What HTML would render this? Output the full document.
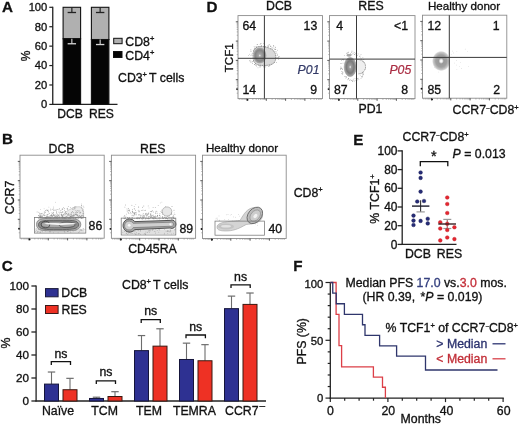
<!DOCTYPE html>
<html><head><meta charset="utf-8"><style>
html,body{margin:0;padding:0;background:#fff;}
svg{display:block;font-family:'Liberation Sans', Arial, sans-serif;filter:blur(0.3px);}
</style></head><body>
<svg width="520" height="424" viewBox="0 0 520 424">
<rect width="520" height="424" fill="#fff"/>
<text x="1.9" y="12.1" font-size="15.2" text-anchor="start" font-weight="bold" font-style="normal" fill="#111" stroke="#111" stroke-width="0.3" >A</text>
<line x1="52.75" y1="6.7" x2="52.75" y2="105.0" stroke="#222" stroke-width="1.3" />
<line x1="52.15" y1="104.4" x2="117.5" y2="104.4" stroke="#222" stroke-width="1.3" />
<line x1="49.3" y1="104.4" x2="52.75" y2="104.4" stroke="#222" stroke-width="1.2" />
<text x="47.3" y="108.30000000000001" font-size="11.2" text-anchor="end" font-weight="normal" font-style="normal" fill="#111" stroke="#111" stroke-width="0.32" >0</text>
<line x1="49.3" y1="84.98" x2="52.75" y2="84.98" stroke="#222" stroke-width="1.2" />
<text x="47.3" y="88.88000000000001" font-size="11.2" text-anchor="end" font-weight="normal" font-style="normal" fill="#111" stroke="#111" stroke-width="0.32" >20</text>
<line x1="49.3" y1="65.56" x2="52.75" y2="65.56" stroke="#222" stroke-width="1.2" />
<text x="47.3" y="69.46000000000001" font-size="11.2" text-anchor="end" font-weight="normal" font-style="normal" fill="#111" stroke="#111" stroke-width="0.32" >40</text>
<line x1="49.3" y1="46.13999999999999" x2="52.75" y2="46.13999999999999" stroke="#222" stroke-width="1.2" />
<text x="47.3" y="50.03999999999999" font-size="11.2" text-anchor="end" font-weight="normal" font-style="normal" fill="#111" stroke="#111" stroke-width="0.32" >60</text>
<line x1="49.3" y1="26.72" x2="52.75" y2="26.72" stroke="#222" stroke-width="1.2" />
<text x="47.3" y="30.619999999999997" font-size="11.2" text-anchor="end" font-weight="normal" font-style="normal" fill="#111" stroke="#111" stroke-width="0.32" >80</text>
<line x1="49.3" y1="7.300000000000011" x2="52.75" y2="7.300000000000011" stroke="#222" stroke-width="1.2" />
<text x="47.3" y="11.200000000000012" font-size="11.2" text-anchor="end" font-weight="normal" font-style="normal" fill="#111" stroke="#111" stroke-width="0.32" >100</text>
<text x="0" y="0" font-size="12" text-anchor="middle" font-weight="normal" font-style="normal" fill="#111" stroke="#111" stroke-width="0.32" transform="translate(29.5,56) rotate(-90)">%</text>
<rect x="63.1" y="7.3" width="17.499999999999993" height="31.460400000000003" fill="#b0b0b0" stroke="#111" stroke-width="1.1" />
<rect x="63.1" y="38.760400000000004" width="17.499999999999993" height="65.6396" fill="#050505" stroke="#111" stroke-width="1.1" />
<line x1="71.85" y1="7.3" x2="71.85" y2="12.5" stroke="#222" stroke-width="1.2" />
<line x1="67.64999999999999" y1="12.5" x2="76.05" y2="12.5" stroke="#222" stroke-width="1.3" />
<line x1="71.85" y1="38.760400000000004" x2="71.85" y2="43.760400000000004" stroke="#d8d8d8" stroke-width="1.1" />
<line x1="67.64999999999999" y1="43.760400000000004" x2="76.05" y2="43.760400000000004" stroke="#d8d8d8" stroke-width="1.3" />
<rect x="91.4" y="7.3" width="17.5" height="32.2372" fill="#b0b0b0" stroke="#111" stroke-width="1.1" />
<rect x="91.4" y="39.5372" width="17.5" height="64.86280000000001" fill="#050505" stroke="#111" stroke-width="1.1" />
<line x1="100.15" y1="7.3" x2="100.15" y2="12.5" stroke="#222" stroke-width="1.2" />
<line x1="95.95" y1="12.5" x2="104.35000000000001" y2="12.5" stroke="#222" stroke-width="1.3" />
<line x1="100.15" y1="39.5372" x2="100.15" y2="44.5372" stroke="#d8d8d8" stroke-width="1.1" />
<line x1="95.95" y1="44.5372" x2="104.35000000000001" y2="44.5372" stroke="#d8d8d8" stroke-width="1.3" />
<text x="70.0" y="117.6" font-size="12.1" text-anchor="middle" font-weight="normal" font-style="normal" fill="#111" stroke="#111" stroke-width="0.32" >DCB</text>
<text x="101.5" y="117.6" font-size="12.1" text-anchor="middle" font-weight="normal" font-style="normal" fill="#111" stroke="#111" stroke-width="0.32" >RES</text>
<rect x="113.7" y="38.3" width="8.4" height="5.4" fill="#b0b0b0" stroke="#111" stroke-width="1" />
<rect x="113.5" y="51.5" width="8.5" height="6" fill="#050505" stroke="#111" stroke-width="1" />
<text x="125.3" y="45.7" font-size="12.3" text-anchor="start" font-weight="normal" font-style="normal" fill="#111" stroke="#111" stroke-width="0.32" >CD8<tspan font-size="7.5" dy="-4.5">+</tspan></text>
<text x="125.3" y="59.6" font-size="12.3" text-anchor="start" font-weight="normal" font-style="normal" fill="#111" stroke="#111" stroke-width="0.32" >CD4<tspan font-size="7.5" dy="-4.5">+</tspan></text>
<text x="118" y="81.7" font-size="12.3" text-anchor="start" font-weight="normal" font-style="normal" fill="#111" stroke="#111" stroke-width="0.32" >CD3<tspan font-size="7.5" dy="-4.5">+&#160;</tspan><tspan dy="4.5">T cells</tspan></text>
<text x="206.4" y="11.9" font-size="15.2" text-anchor="start" font-weight="bold" font-style="normal" fill="#111" stroke="#111" stroke-width="0.3" >D</text>
<rect x="238" y="15.6" width="84.5" height="83.0" fill="none" stroke="#8c8c8c" stroke-width="0.9" />
<line x1="235.8" y1="21.8" x2="238" y2="21.8" stroke="#444" stroke-width="0.9" />
<line x1="236.7" y1="35.290121083685165" x2="238" y2="35.290121083685165" stroke="#8a8a8a" stroke-width="0.6" />
<line x1="236.7" y1="31.891559783910516" x2="238" y2="31.891559783910516" stroke="#8a8a8a" stroke-width="0.6" />
<line x1="236.7" y1="29.480242167370328" x2="238" y2="29.480242167370328" stroke="#8a8a8a" stroke-width="0.6" />
<line x1="236.7" y1="27.609878916314837" x2="238" y2="27.609878916314837" stroke="#8a8a8a" stroke-width="0.6" />
<line x1="236.7" y1="26.08168086759568" x2="238" y2="26.08168086759568" stroke="#8a8a8a" stroke-width="0.6" />
<line x1="236.7" y1="24.789607827724844" x2="238" y2="24.789607827724844" stroke="#8a8a8a" stroke-width="0.6" />
<line x1="236.7" y1="23.67036325105549" x2="238" y2="23.67036325105549" stroke="#8a8a8a" stroke-width="0.6" />
<line x1="236.7" y1="22.68311956782103" x2="238" y2="22.68311956782103" stroke="#8a8a8a" stroke-width="0.6" />
<line x1="235.8" y1="41.1" x2="238" y2="41.1" stroke="#444" stroke-width="0.9" />
<line x1="236.7" y1="54.59012108368516" x2="238" y2="54.59012108368516" stroke="#8a8a8a" stroke-width="0.6" />
<line x1="236.7" y1="51.19155978391052" x2="238" y2="51.19155978391052" stroke="#8a8a8a" stroke-width="0.6" />
<line x1="236.7" y1="48.780242167370325" x2="238" y2="48.780242167370325" stroke="#8a8a8a" stroke-width="0.6" />
<line x1="236.7" y1="46.90987891631484" x2="238" y2="46.90987891631484" stroke="#8a8a8a" stroke-width="0.6" />
<line x1="236.7" y1="45.381680867595676" x2="238" y2="45.381680867595676" stroke="#8a8a8a" stroke-width="0.6" />
<line x1="236.7" y1="44.08960782772485" x2="238" y2="44.08960782772485" stroke="#8a8a8a" stroke-width="0.6" />
<line x1="236.7" y1="42.97036325105549" x2="238" y2="42.97036325105549" stroke="#8a8a8a" stroke-width="0.6" />
<line x1="236.7" y1="41.983119567821035" x2="238" y2="41.983119567821035" stroke="#8a8a8a" stroke-width="0.6" />
<line x1="235.8" y1="60.400000000000006" x2="238" y2="60.400000000000006" stroke="#444" stroke-width="0.9" />
<line x1="236.7" y1="73.89012108368517" x2="238" y2="73.89012108368517" stroke="#8a8a8a" stroke-width="0.6" />
<line x1="236.7" y1="70.49155978391052" x2="238" y2="70.49155978391052" stroke="#8a8a8a" stroke-width="0.6" />
<line x1="236.7" y1="68.08024216737033" x2="238" y2="68.08024216737033" stroke="#8a8a8a" stroke-width="0.6" />
<line x1="236.7" y1="66.20987891631484" x2="238" y2="66.20987891631484" stroke="#8a8a8a" stroke-width="0.6" />
<line x1="236.7" y1="64.68168086759569" x2="238" y2="64.68168086759569" stroke="#8a8a8a" stroke-width="0.6" />
<line x1="236.7" y1="63.38960782772485" x2="238" y2="63.38960782772485" stroke="#8a8a8a" stroke-width="0.6" />
<line x1="236.7" y1="62.27036325105549" x2="238" y2="62.27036325105549" stroke="#8a8a8a" stroke-width="0.6" />
<line x1="236.7" y1="61.28311956782104" x2="238" y2="61.28311956782104" stroke="#8a8a8a" stroke-width="0.6" />
<line x1="235.8" y1="79.7" x2="238" y2="79.7" stroke="#444" stroke-width="0.9" />
<line x1="236.7" y1="93.19012108368517" x2="238" y2="93.19012108368517" stroke="#8a8a8a" stroke-width="0.6" />
<line x1="236.7" y1="89.79155978391051" x2="238" y2="89.79155978391051" stroke="#8a8a8a" stroke-width="0.6" />
<line x1="236.7" y1="87.38024216737033" x2="238" y2="87.38024216737033" stroke="#8a8a8a" stroke-width="0.6" />
<line x1="236.7" y1="85.50987891631483" x2="238" y2="85.50987891631483" stroke="#8a8a8a" stroke-width="0.6" />
<line x1="236.7" y1="83.98168086759568" x2="238" y2="83.98168086759568" stroke="#8a8a8a" stroke-width="0.6" />
<line x1="236.7" y1="82.68960782772484" x2="238" y2="82.68960782772484" stroke="#8a8a8a" stroke-width="0.6" />
<line x1="236.7" y1="81.5703632510555" x2="238" y2="81.5703632510555" stroke="#8a8a8a" stroke-width="0.6" />
<line x1="236.7" y1="80.58311956782103" x2="238" y2="80.58311956782103" stroke="#8a8a8a" stroke-width="0.6" />
<line x1="239.31975783262968" y1="98.6" x2="239.31975783262968" y2="99.89999999999999" stroke="#8a8a8a" stroke-width="0.6" />
<line x1="241.19012108368514" y1="98.6" x2="241.19012108368514" y2="99.89999999999999" stroke="#8a8a8a" stroke-width="0.6" />
<line x1="242.7183191324043" y1="98.6" x2="242.7183191324043" y2="99.89999999999999" stroke="#8a8a8a" stroke-width="0.6" />
<line x1="244.01039217227515" y1="98.6" x2="244.01039217227515" y2="99.89999999999999" stroke="#8a8a8a" stroke-width="0.6" />
<line x1="245.1296367489445" y1="98.6" x2="245.1296367489445" y2="99.89999999999999" stroke="#8a8a8a" stroke-width="0.6" />
<line x1="246.11688043217896" y1="98.6" x2="246.11688043217896" y2="99.89999999999999" stroke="#8a8a8a" stroke-width="0.6" />
<line x1="247.0" y1="98.6" x2="247.0" y2="100.8" stroke="#444" stroke-width="0.9" />
<line x1="252.80987891631483" y1="98.6" x2="252.80987891631483" y2="99.89999999999999" stroke="#8a8a8a" stroke-width="0.6" />
<line x1="256.20844021608946" y1="98.6" x2="256.20844021608946" y2="99.89999999999999" stroke="#8a8a8a" stroke-width="0.6" />
<line x1="258.61975783262966" y1="98.6" x2="258.61975783262966" y2="99.89999999999999" stroke="#8a8a8a" stroke-width="0.6" />
<line x1="260.49012108368515" y1="98.6" x2="260.49012108368515" y2="99.89999999999999" stroke="#8a8a8a" stroke-width="0.6" />
<line x1="262.0183191324043" y1="98.6" x2="262.0183191324043" y2="99.89999999999999" stroke="#8a8a8a" stroke-width="0.6" />
<line x1="263.31039217227516" y1="98.6" x2="263.31039217227516" y2="99.89999999999999" stroke="#8a8a8a" stroke-width="0.6" />
<line x1="264.4296367489445" y1="98.6" x2="264.4296367489445" y2="99.89999999999999" stroke="#8a8a8a" stroke-width="0.6" />
<line x1="265.41688043217897" y1="98.6" x2="265.41688043217897" y2="99.89999999999999" stroke="#8a8a8a" stroke-width="0.6" />
<line x1="266.3" y1="98.6" x2="266.3" y2="100.8" stroke="#444" stroke-width="0.9" />
<line x1="272.10987891631487" y1="98.6" x2="272.10987891631487" y2="99.89999999999999" stroke="#8a8a8a" stroke-width="0.6" />
<line x1="275.5084402160895" y1="98.6" x2="275.5084402160895" y2="99.89999999999999" stroke="#8a8a8a" stroke-width="0.6" />
<line x1="277.91975783262967" y1="98.6" x2="277.91975783262967" y2="99.89999999999999" stroke="#8a8a8a" stroke-width="0.6" />
<line x1="279.79012108368516" y1="98.6" x2="279.79012108368516" y2="99.89999999999999" stroke="#8a8a8a" stroke-width="0.6" />
<line x1="281.3183191324043" y1="98.6" x2="281.3183191324043" y2="99.89999999999999" stroke="#8a8a8a" stroke-width="0.6" />
<line x1="282.61039217227517" y1="98.6" x2="282.61039217227517" y2="99.89999999999999" stroke="#8a8a8a" stroke-width="0.6" />
<line x1="283.72963674894453" y1="98.6" x2="283.72963674894453" y2="99.89999999999999" stroke="#8a8a8a" stroke-width="0.6" />
<line x1="284.716880432179" y1="98.6" x2="284.716880432179" y2="99.89999999999999" stroke="#8a8a8a" stroke-width="0.6" />
<line x1="285.6" y1="98.6" x2="285.6" y2="100.8" stroke="#444" stroke-width="0.9" />
<line x1="291.4098789163149" y1="98.6" x2="291.4098789163149" y2="99.89999999999999" stroke="#8a8a8a" stroke-width="0.6" />
<line x1="294.8084402160895" y1="98.6" x2="294.8084402160895" y2="99.89999999999999" stroke="#8a8a8a" stroke-width="0.6" />
<line x1="297.2197578326297" y1="98.6" x2="297.2197578326297" y2="99.89999999999999" stroke="#8a8a8a" stroke-width="0.6" />
<line x1="299.0901210836852" y1="98.6" x2="299.0901210836852" y2="99.89999999999999" stroke="#8a8a8a" stroke-width="0.6" />
<line x1="300.61831913240434" y1="98.6" x2="300.61831913240434" y2="99.89999999999999" stroke="#8a8a8a" stroke-width="0.6" />
<line x1="301.9103921722752" y1="98.6" x2="301.9103921722752" y2="99.89999999999999" stroke="#8a8a8a" stroke-width="0.6" />
<line x1="303.02963674894454" y1="98.6" x2="303.02963674894454" y2="99.89999999999999" stroke="#8a8a8a" stroke-width="0.6" />
<line x1="304.016880432179" y1="98.6" x2="304.016880432179" y2="99.89999999999999" stroke="#8a8a8a" stroke-width="0.6" />
<line x1="304.9" y1="98.6" x2="304.9" y2="100.8" stroke="#444" stroke-width="0.9" />
<line x1="310.70987891631484" y1="98.6" x2="310.70987891631484" y2="99.89999999999999" stroke="#8a8a8a" stroke-width="0.6" />
<line x1="314.10844021608943" y1="98.6" x2="314.10844021608943" y2="99.89999999999999" stroke="#8a8a8a" stroke-width="0.6" />
<line x1="316.51975783262964" y1="98.6" x2="316.51975783262964" y2="99.89999999999999" stroke="#8a8a8a" stroke-width="0.6" />
<line x1="318.39012108368513" y1="98.6" x2="318.39012108368513" y2="99.89999999999999" stroke="#8a8a8a" stroke-width="0.6" />
<line x1="319.9183191324043" y1="98.6" x2="319.9183191324043" y2="99.89999999999999" stroke="#8a8a8a" stroke-width="0.6" />
<line x1="321.21039217227514" y1="98.6" x2="321.21039217227514" y2="99.89999999999999" stroke="#8a8a8a" stroke-width="0.6" />
<circle cx="237" cy="89.1" r="0.9" fill="#111"/>
<circle cx="247.6" cy="99.8" r="0.9" fill="#111"/>
<circle cx="265.0" cy="67.4" r="0.4" fill="#8a8a8a"/>
<circle cx="254.5" cy="64.5" r="0.4" fill="#8a8a8a"/>
<circle cx="255.7" cy="49.0" r="0.4" fill="#8a8a8a"/>
<circle cx="278.8" cy="57.0" r="0.4" fill="#8a8a8a"/>
<circle cx="263.3" cy="66.4" r="0.4" fill="#8a8a8a"/>
<circle cx="277.4" cy="55.7" r="0.4" fill="#8a8a8a"/>
<circle cx="270.9" cy="46.4" r="0.4" fill="#8a8a8a"/>
<circle cx="256.2" cy="48.3" r="0.4" fill="#8a8a8a"/>
<circle cx="254.1" cy="46.6" r="0.4" fill="#8a8a8a"/>
<circle cx="249.7" cy="54.2" r="0.4" fill="#8a8a8a"/>
<circle cx="258.4" cy="47.4" r="0.4" fill="#8a8a8a"/>
<circle cx="264.7" cy="44.4" r="0.4" fill="#8a8a8a"/>
<circle cx="260.3" cy="65.2" r="0.4" fill="#8a8a8a"/>
<circle cx="272.9" cy="47.6" r="0.4" fill="#8a8a8a"/>
<circle cx="261.1" cy="43.7" r="0.4" fill="#8a8a8a"/>
<circle cx="260.6" cy="43.6" r="0.4" fill="#8a8a8a"/>
<circle cx="252.4" cy="63.5" r="0.4" fill="#8a8a8a"/>
<circle cx="249.6" cy="60.3" r="0.4" fill="#8a8a8a"/>
<circle cx="272.6" cy="49.2" r="0.4" fill="#8a8a8a"/>
<circle cx="272.1" cy="63.8" r="0.4" fill="#8a8a8a"/>
<circle cx="276.9" cy="53.6" r="0.4" fill="#8a8a8a"/>
<circle cx="255.1" cy="48.4" r="0.4" fill="#8a8a8a"/>
<circle cx="251.0" cy="55.5" r="0.4" fill="#8a8a8a"/>
<circle cx="255.8" cy="65.3" r="0.4" fill="#8a8a8a"/>
<circle cx="250.9" cy="49.6" r="0.4" fill="#8a8a8a"/>
<circle cx="257.7" cy="44.4" r="0.4" fill="#8a8a8a"/>
<circle cx="273.6" cy="45.9" r="0.4" fill="#8a8a8a"/>
<circle cx="258.2" cy="47.1" r="0.4" fill="#8a8a8a"/>
<circle cx="273.9" cy="46.1" r="0.4" fill="#8a8a8a"/>
<circle cx="275.4" cy="49.5" r="0.4" fill="#8a8a8a"/>
<circle cx="261.2" cy="46.0" r="0.4" fill="#8a8a8a"/>
<circle cx="270.8" cy="46.0" r="0.4" fill="#8a8a8a"/>
<circle cx="261.4" cy="65.6" r="0.4" fill="#8a8a8a"/>
<circle cx="273.4" cy="45.7" r="0.4" fill="#8a8a8a"/>
<circle cx="276.5" cy="62.5" r="0.4" fill="#8a8a8a"/>
<circle cx="253.8" cy="61.4" r="0.4" fill="#8a8a8a"/>
<circle cx="260.0" cy="67.7" r="0.4" fill="#8a8a8a"/>
<circle cx="272.1" cy="49.0" r="0.4" fill="#8a8a8a"/>
<circle cx="255.2" cy="49.6" r="0.4" fill="#8a8a8a"/>
<circle cx="261.5" cy="45.5" r="0.4" fill="#8a8a8a"/>
<circle cx="275.3" cy="47.2" r="0.4" fill="#8a8a8a"/>
<circle cx="248.5" cy="55.6" r="0.4" fill="#8a8a8a"/>
<circle cx="259.7" cy="65.2" r="0.4" fill="#8a8a8a"/>
<circle cx="254.6" cy="50.3" r="0.4" fill="#8a8a8a"/>
<circle cx="268.3" cy="66.4" r="0.4" fill="#8a8a8a"/>
<circle cx="254.7" cy="49.5" r="0.4" fill="#8a8a8a"/>
<circle cx="278.5" cy="59.3" r="0.4" fill="#8a8a8a"/>
<circle cx="258.0" cy="67.8" r="0.4" fill="#8a8a8a"/>
<circle cx="274.4" cy="49.4" r="0.4" fill="#8a8a8a"/>
<circle cx="250.8" cy="58.8" r="0.4" fill="#8a8a8a"/>
<circle cx="255.4" cy="46.9" r="0.4" fill="#8a8a8a"/>
<circle cx="251.0" cy="51.7" r="0.4" fill="#8a8a8a"/>
<circle cx="276.6" cy="51.9" r="0.4" fill="#8a8a8a"/>
<circle cx="250.9" cy="61.0" r="0.4" fill="#8a8a8a"/>
<circle cx="265.0" cy="66.6" r="0.4" fill="#8a8a8a"/>
<circle cx="277.5" cy="54.4" r="0.4" fill="#8a8a8a"/>
<circle cx="253.0" cy="53.1" r="0.4" fill="#8a8a8a"/>
<circle cx="252.1" cy="61.9" r="0.4" fill="#8a8a8a"/>
<circle cx="277.9" cy="57.5" r="0.4" fill="#8a8a8a"/>
<circle cx="256.1" cy="48.8" r="0.4" fill="#8a8a8a"/>
<circle cx="254.7" cy="48.0" r="0.4" fill="#8a8a8a"/>
<circle cx="258.4" cy="46.3" r="0.4" fill="#8a8a8a"/>
<circle cx="260.1" cy="44.4" r="0.4" fill="#8a8a8a"/>
<circle cx="275.6" cy="57.4" r="0.4" fill="#8a8a8a"/>
<circle cx="257.1" cy="44.5" r="0.4" fill="#8a8a8a"/>
<circle cx="263.9" cy="67.1" r="0.4" fill="#8a8a8a"/>
<circle cx="253.3" cy="50.1" r="0.4" fill="#8a8a8a"/>
<circle cx="255.6" cy="64.0" r="0.4" fill="#8a8a8a"/>
<circle cx="254.5" cy="64.5" r="0.4" fill="#8a8a8a"/>
<circle cx="259.9" cy="66.3" r="0.4" fill="#8a8a8a"/>
<circle cx="265.6" cy="46.4" r="0.4" fill="#8a8a8a"/>
<circle cx="250.9" cy="50.9" r="0.4" fill="#8a8a8a"/>
<circle cx="259.4" cy="65.6" r="0.4" fill="#8a8a8a"/>
<circle cx="268.1" cy="46.2" r="0.4" fill="#8a8a8a"/>
<circle cx="269.1" cy="66.2" r="0.4" fill="#8a8a8a"/>
<circle cx="260.2" cy="46.6" r="0.4" fill="#8a8a8a"/>
<circle cx="258.4" cy="65.6" r="0.4" fill="#8a8a8a"/>
<circle cx="270.6" cy="46.4" r="0.4" fill="#8a8a8a"/>
<circle cx="271.5" cy="48.0" r="0.4" fill="#8a8a8a"/>
<circle cx="256.7" cy="66.1" r="0.4" fill="#8a8a8a"/>
<circle cx="274.0" cy="48.6" r="0.4" fill="#8a8a8a"/>
<circle cx="265.9" cy="65.9" r="0.4" fill="#8a8a8a"/>
<circle cx="251.9" cy="54.1" r="0.4" fill="#8a8a8a"/>
<circle cx="269.2" cy="44.4" r="0.4" fill="#8a8a8a"/>
<circle cx="269.1" cy="65.6" r="0.4" fill="#8a8a8a"/>
<circle cx="269.0" cy="45.0" r="0.4" fill="#8a8a8a"/>
<circle cx="268.5" cy="45.9" r="0.4" fill="#8a8a8a"/>
<circle cx="272.7" cy="63.7" r="0.4" fill="#8a8a8a"/>
<circle cx="267.4" cy="45.9" r="0.4" fill="#8a8a8a"/>
<circle cx="256.5" cy="65.0" r="0.4" fill="#8a8a8a"/>
<circle cx="252.5" cy="61.3" r="0.4" fill="#8a8a8a"/>
<circle cx="274.7" cy="51.2" r="0.4" fill="#8a8a8a"/>
<circle cx="279.3" cy="56.4" r="0.4" fill="#8a8a8a"/>
<circle cx="275.3" cy="47.2" r="0.4" fill="#8a8a8a"/>
<circle cx="250.0" cy="61.1" r="0.4" fill="#8a8a8a"/>
<circle cx="275.1" cy="51.4" r="0.4" fill="#8a8a8a"/>
<circle cx="263.6" cy="43.6" r="0.4" fill="#8a8a8a"/>
<circle cx="256.9" cy="46.3" r="0.4" fill="#8a8a8a"/>
<circle cx="260.9" cy="66.4" r="0.4" fill="#8a8a8a"/>
<circle cx="265.7" cy="65.7" r="0.4" fill="#8a8a8a"/>
<circle cx="253.3" cy="50.4" r="0.4" fill="#8a8a8a"/>
<circle cx="268.3" cy="46.9" r="0.4" fill="#8a8a8a"/>
<circle cx="275.8" cy="49.2" r="0.4" fill="#8a8a8a"/>
<circle cx="277.4" cy="50.2" r="0.4" fill="#8a8a8a"/>
<circle cx="275.2" cy="49.2" r="0.4" fill="#8a8a8a"/>
<circle cx="278.5" cy="57.0" r="0.4" fill="#8a8a8a"/>
<circle cx="270.0" cy="65.4" r="0.4" fill="#8a8a8a"/>
<circle cx="256.9" cy="46.3" r="0.4" fill="#8a8a8a"/>
<circle cx="250.9" cy="62.6" r="0.4" fill="#8a8a8a"/>
<circle cx="254.2" cy="49.0" r="0.4" fill="#8a8a8a"/>
<path d="M253,56 C253,49 256,46.5 261,46.5 C266,46.5 272,48.5 274.5,52 C276.5,55 276.3,60 274,63 C271,65.5 265,65.8 260,65.2 C255,64.5 253,62 253,56 Z" stroke="#6a6a6a" stroke-width="0.7" fill="#d9d9d9" stroke-dasharray="1.2 0.6"/>
<defs><radialGradient id="rg1"><stop offset="0" stop-color="#f4f4f4"/><stop offset="0.18" stop-color="#a4a4a4"/><stop offset="0.7" stop-color="#858585"/><stop offset="1" stop-color="#b0b0b0"/></radialGradient></defs>
<ellipse cx="259.8" cy="55.5" rx="6.6" ry="8" fill="url(#rg1)" stroke="none" stroke-width="0.6" transform="rotate(0 259.8 55.5)" />
<line x1="264.4" y1="15.6" x2="264.4" y2="98.6" stroke="#3a3a3a" stroke-width="1" />
<line x1="238" y1="58.3" x2="322.5" y2="58.3" stroke="#3a3a3a" stroke-width="1" />
<text x="279" y="10.4" font-size="12.3" text-anchor="middle" font-weight="normal" font-style="normal" fill="#111" stroke="#111" stroke-width="0.32" >DCB</text>
<text x="242.4" y="29.8" font-size="12.3" text-anchor="start" font-weight="normal" font-style="normal" fill="#111" stroke="#111" stroke-width="0.32" >64</text>
<text x="317.3" y="29.8" font-size="12.3" text-anchor="end" font-weight="normal" font-style="normal" fill="#111" stroke="#111" stroke-width="0.32" >13</text>
<text x="242.4" y="93.9" font-size="12.3" text-anchor="start" font-weight="normal" font-style="normal" fill="#111" stroke="#111" stroke-width="0.32" >14</text>
<text x="317.0" y="93.9" font-size="12.3" text-anchor="end" font-weight="normal" font-style="normal" fill="#111" stroke="#111" stroke-width="0.32" >9</text>
<text x="319.5" y="74" font-size="12.3" text-anchor="end" font-weight="normal" font-style="italic" fill="#323966" stroke="#323966" stroke-width="0.2" >P01</text>
<text x="0" y="0" font-size="11.6" text-anchor="middle" font-weight="normal" font-style="normal" fill="#111" stroke="#111" stroke-width="0.32" transform="translate(233.2,57.8) rotate(-90)">TCF1</text>
<rect x="329.5" y="15.6" width="85.5" height="83.0" fill="none" stroke="#8c8c8c" stroke-width="0.9" />
<line x1="327.3" y1="21.8" x2="329.5" y2="21.8" stroke="#444" stroke-width="0.9" />
<line x1="328.2" y1="35.290121083685165" x2="329.5" y2="35.290121083685165" stroke="#8a8a8a" stroke-width="0.6" />
<line x1="328.2" y1="31.891559783910516" x2="329.5" y2="31.891559783910516" stroke="#8a8a8a" stroke-width="0.6" />
<line x1="328.2" y1="29.480242167370328" x2="329.5" y2="29.480242167370328" stroke="#8a8a8a" stroke-width="0.6" />
<line x1="328.2" y1="27.609878916314837" x2="329.5" y2="27.609878916314837" stroke="#8a8a8a" stroke-width="0.6" />
<line x1="328.2" y1="26.08168086759568" x2="329.5" y2="26.08168086759568" stroke="#8a8a8a" stroke-width="0.6" />
<line x1="328.2" y1="24.789607827724844" x2="329.5" y2="24.789607827724844" stroke="#8a8a8a" stroke-width="0.6" />
<line x1="328.2" y1="23.67036325105549" x2="329.5" y2="23.67036325105549" stroke="#8a8a8a" stroke-width="0.6" />
<line x1="328.2" y1="22.68311956782103" x2="329.5" y2="22.68311956782103" stroke="#8a8a8a" stroke-width="0.6" />
<line x1="327.3" y1="41.1" x2="329.5" y2="41.1" stroke="#444" stroke-width="0.9" />
<line x1="328.2" y1="54.59012108368516" x2="329.5" y2="54.59012108368516" stroke="#8a8a8a" stroke-width="0.6" />
<line x1="328.2" y1="51.19155978391052" x2="329.5" y2="51.19155978391052" stroke="#8a8a8a" stroke-width="0.6" />
<line x1="328.2" y1="48.780242167370325" x2="329.5" y2="48.780242167370325" stroke="#8a8a8a" stroke-width="0.6" />
<line x1="328.2" y1="46.90987891631484" x2="329.5" y2="46.90987891631484" stroke="#8a8a8a" stroke-width="0.6" />
<line x1="328.2" y1="45.381680867595676" x2="329.5" y2="45.381680867595676" stroke="#8a8a8a" stroke-width="0.6" />
<line x1="328.2" y1="44.08960782772485" x2="329.5" y2="44.08960782772485" stroke="#8a8a8a" stroke-width="0.6" />
<line x1="328.2" y1="42.97036325105549" x2="329.5" y2="42.97036325105549" stroke="#8a8a8a" stroke-width="0.6" />
<line x1="328.2" y1="41.983119567821035" x2="329.5" y2="41.983119567821035" stroke="#8a8a8a" stroke-width="0.6" />
<line x1="327.3" y1="60.400000000000006" x2="329.5" y2="60.400000000000006" stroke="#444" stroke-width="0.9" />
<line x1="328.2" y1="73.89012108368517" x2="329.5" y2="73.89012108368517" stroke="#8a8a8a" stroke-width="0.6" />
<line x1="328.2" y1="70.49155978391052" x2="329.5" y2="70.49155978391052" stroke="#8a8a8a" stroke-width="0.6" />
<line x1="328.2" y1="68.08024216737033" x2="329.5" y2="68.08024216737033" stroke="#8a8a8a" stroke-width="0.6" />
<line x1="328.2" y1="66.20987891631484" x2="329.5" y2="66.20987891631484" stroke="#8a8a8a" stroke-width="0.6" />
<line x1="328.2" y1="64.68168086759569" x2="329.5" y2="64.68168086759569" stroke="#8a8a8a" stroke-width="0.6" />
<line x1="328.2" y1="63.38960782772485" x2="329.5" y2="63.38960782772485" stroke="#8a8a8a" stroke-width="0.6" />
<line x1="328.2" y1="62.27036325105549" x2="329.5" y2="62.27036325105549" stroke="#8a8a8a" stroke-width="0.6" />
<line x1="328.2" y1="61.28311956782104" x2="329.5" y2="61.28311956782104" stroke="#8a8a8a" stroke-width="0.6" />
<line x1="327.3" y1="79.7" x2="329.5" y2="79.7" stroke="#444" stroke-width="0.9" />
<line x1="328.2" y1="93.19012108368517" x2="329.5" y2="93.19012108368517" stroke="#8a8a8a" stroke-width="0.6" />
<line x1="328.2" y1="89.79155978391051" x2="329.5" y2="89.79155978391051" stroke="#8a8a8a" stroke-width="0.6" />
<line x1="328.2" y1="87.38024216737033" x2="329.5" y2="87.38024216737033" stroke="#8a8a8a" stroke-width="0.6" />
<line x1="328.2" y1="85.50987891631483" x2="329.5" y2="85.50987891631483" stroke="#8a8a8a" stroke-width="0.6" />
<line x1="328.2" y1="83.98168086759568" x2="329.5" y2="83.98168086759568" stroke="#8a8a8a" stroke-width="0.6" />
<line x1="328.2" y1="82.68960782772484" x2="329.5" y2="82.68960782772484" stroke="#8a8a8a" stroke-width="0.6" />
<line x1="328.2" y1="81.5703632510555" x2="329.5" y2="81.5703632510555" stroke="#8a8a8a" stroke-width="0.6" />
<line x1="328.2" y1="80.58311956782103" x2="329.5" y2="80.58311956782103" stroke="#8a8a8a" stroke-width="0.6" />
<line x1="330.81975783262965" y1="98.6" x2="330.81975783262965" y2="99.89999999999999" stroke="#8a8a8a" stroke-width="0.6" />
<line x1="332.69012108368514" y1="98.6" x2="332.69012108368514" y2="99.89999999999999" stroke="#8a8a8a" stroke-width="0.6" />
<line x1="334.2183191324043" y1="98.6" x2="334.2183191324043" y2="99.89999999999999" stroke="#8a8a8a" stroke-width="0.6" />
<line x1="335.51039217227515" y1="98.6" x2="335.51039217227515" y2="99.89999999999999" stroke="#8a8a8a" stroke-width="0.6" />
<line x1="336.6296367489445" y1="98.6" x2="336.6296367489445" y2="99.89999999999999" stroke="#8a8a8a" stroke-width="0.6" />
<line x1="337.61688043217896" y1="98.6" x2="337.61688043217896" y2="99.89999999999999" stroke="#8a8a8a" stroke-width="0.6" />
<line x1="338.5" y1="98.6" x2="338.5" y2="100.8" stroke="#444" stroke-width="0.9" />
<line x1="344.30987891631486" y1="98.6" x2="344.30987891631486" y2="99.89999999999999" stroke="#8a8a8a" stroke-width="0.6" />
<line x1="347.70844021608946" y1="98.6" x2="347.70844021608946" y2="99.89999999999999" stroke="#8a8a8a" stroke-width="0.6" />
<line x1="350.11975783262966" y1="98.6" x2="350.11975783262966" y2="99.89999999999999" stroke="#8a8a8a" stroke-width="0.6" />
<line x1="351.99012108368515" y1="98.6" x2="351.99012108368515" y2="99.89999999999999" stroke="#8a8a8a" stroke-width="0.6" />
<line x1="353.5183191324043" y1="98.6" x2="353.5183191324043" y2="99.89999999999999" stroke="#8a8a8a" stroke-width="0.6" />
<line x1="354.81039217227516" y1="98.6" x2="354.81039217227516" y2="99.89999999999999" stroke="#8a8a8a" stroke-width="0.6" />
<line x1="355.9296367489445" y1="98.6" x2="355.9296367489445" y2="99.89999999999999" stroke="#8a8a8a" stroke-width="0.6" />
<line x1="356.91688043217897" y1="98.6" x2="356.91688043217897" y2="99.89999999999999" stroke="#8a8a8a" stroke-width="0.6" />
<line x1="357.8" y1="98.6" x2="357.8" y2="100.8" stroke="#444" stroke-width="0.9" />
<line x1="363.60987891631487" y1="98.6" x2="363.60987891631487" y2="99.89999999999999" stroke="#8a8a8a" stroke-width="0.6" />
<line x1="367.0084402160895" y1="98.6" x2="367.0084402160895" y2="99.89999999999999" stroke="#8a8a8a" stroke-width="0.6" />
<line x1="369.41975783262967" y1="98.6" x2="369.41975783262967" y2="99.89999999999999" stroke="#8a8a8a" stroke-width="0.6" />
<line x1="371.29012108368516" y1="98.6" x2="371.29012108368516" y2="99.89999999999999" stroke="#8a8a8a" stroke-width="0.6" />
<line x1="372.8183191324043" y1="98.6" x2="372.8183191324043" y2="99.89999999999999" stroke="#8a8a8a" stroke-width="0.6" />
<line x1="374.11039217227517" y1="98.6" x2="374.11039217227517" y2="99.89999999999999" stroke="#8a8a8a" stroke-width="0.6" />
<line x1="375.22963674894453" y1="98.6" x2="375.22963674894453" y2="99.89999999999999" stroke="#8a8a8a" stroke-width="0.6" />
<line x1="376.216880432179" y1="98.6" x2="376.216880432179" y2="99.89999999999999" stroke="#8a8a8a" stroke-width="0.6" />
<line x1="377.1" y1="98.6" x2="377.1" y2="100.8" stroke="#444" stroke-width="0.9" />
<line x1="382.9098789163149" y1="98.6" x2="382.9098789163149" y2="99.89999999999999" stroke="#8a8a8a" stroke-width="0.6" />
<line x1="386.3084402160895" y1="98.6" x2="386.3084402160895" y2="99.89999999999999" stroke="#8a8a8a" stroke-width="0.6" />
<line x1="388.7197578326297" y1="98.6" x2="388.7197578326297" y2="99.89999999999999" stroke="#8a8a8a" stroke-width="0.6" />
<line x1="390.5901210836852" y1="98.6" x2="390.5901210836852" y2="99.89999999999999" stroke="#8a8a8a" stroke-width="0.6" />
<line x1="392.11831913240434" y1="98.6" x2="392.11831913240434" y2="99.89999999999999" stroke="#8a8a8a" stroke-width="0.6" />
<line x1="393.4103921722752" y1="98.6" x2="393.4103921722752" y2="99.89999999999999" stroke="#8a8a8a" stroke-width="0.6" />
<line x1="394.52963674894454" y1="98.6" x2="394.52963674894454" y2="99.89999999999999" stroke="#8a8a8a" stroke-width="0.6" />
<line x1="395.516880432179" y1="98.6" x2="395.516880432179" y2="99.89999999999999" stroke="#8a8a8a" stroke-width="0.6" />
<line x1="396.4" y1="98.6" x2="396.4" y2="100.8" stroke="#444" stroke-width="0.9" />
<line x1="402.20987891631484" y1="98.6" x2="402.20987891631484" y2="99.89999999999999" stroke="#8a8a8a" stroke-width="0.6" />
<line x1="405.60844021608943" y1="98.6" x2="405.60844021608943" y2="99.89999999999999" stroke="#8a8a8a" stroke-width="0.6" />
<line x1="408.01975783262964" y1="98.6" x2="408.01975783262964" y2="99.89999999999999" stroke="#8a8a8a" stroke-width="0.6" />
<line x1="409.89012108368513" y1="98.6" x2="409.89012108368513" y2="99.89999999999999" stroke="#8a8a8a" stroke-width="0.6" />
<line x1="411.4183191324043" y1="98.6" x2="411.4183191324043" y2="99.89999999999999" stroke="#8a8a8a" stroke-width="0.6" />
<line x1="412.71039217227514" y1="98.6" x2="412.71039217227514" y2="99.89999999999999" stroke="#8a8a8a" stroke-width="0.6" />
<line x1="413.8296367489445" y1="98.6" x2="413.8296367489445" y2="99.89999999999999" stroke="#8a8a8a" stroke-width="0.6" />
<circle cx="328.5" cy="89.1" r="0.9" fill="#111"/>
<circle cx="339.1" cy="99.8" r="0.9" fill="#111"/>
<circle cx="352.8" cy="81.6" r="0.4" fill="#8a8a8a"/>
<circle cx="340.8" cy="68.6" r="0.4" fill="#8a8a8a"/>
<circle cx="346.7" cy="76.7" r="0.4" fill="#8a8a8a"/>
<circle cx="340.8" cy="63.3" r="0.4" fill="#8a8a8a"/>
<circle cx="358.9" cy="79.6" r="0.4" fill="#8a8a8a"/>
<circle cx="363.9" cy="59.5" r="0.4" fill="#8a8a8a"/>
<circle cx="357.5" cy="55.7" r="0.4" fill="#8a8a8a"/>
<circle cx="344.3" cy="55.6" r="0.4" fill="#8a8a8a"/>
<circle cx="363.3" cy="70.5" r="0.4" fill="#8a8a8a"/>
<circle cx="351.7" cy="80.3" r="0.4" fill="#8a8a8a"/>
<circle cx="342.9" cy="72.9" r="0.4" fill="#8a8a8a"/>
<circle cx="354.7" cy="54.7" r="0.4" fill="#8a8a8a"/>
<circle cx="362.8" cy="70.7" r="0.4" fill="#8a8a8a"/>
<circle cx="360.2" cy="75.1" r="0.4" fill="#8a8a8a"/>
<circle cx="365.4" cy="64.1" r="0.4" fill="#8a8a8a"/>
<circle cx="362.9" cy="73.6" r="0.4" fill="#8a8a8a"/>
<circle cx="348.6" cy="78.5" r="0.4" fill="#8a8a8a"/>
<circle cx="345.9" cy="78.0" r="0.4" fill="#8a8a8a"/>
<circle cx="343.5" cy="59.6" r="0.4" fill="#8a8a8a"/>
<circle cx="357.0" cy="78.8" r="0.4" fill="#8a8a8a"/>
<circle cx="361.3" cy="76.3" r="0.4" fill="#8a8a8a"/>
<circle cx="350.6" cy="53.4" r="0.4" fill="#8a8a8a"/>
<circle cx="362.2" cy="72.6" r="0.4" fill="#8a8a8a"/>
<circle cx="344.7" cy="76.6" r="0.4" fill="#8a8a8a"/>
<circle cx="355.3" cy="53.4" r="0.4" fill="#8a8a8a"/>
<circle cx="356.7" cy="53.0" r="0.4" fill="#8a8a8a"/>
<circle cx="342.9" cy="72.1" r="0.4" fill="#8a8a8a"/>
<circle cx="340.9" cy="66.9" r="0.4" fill="#8a8a8a"/>
<circle cx="342.4" cy="73.4" r="0.4" fill="#8a8a8a"/>
<circle cx="342.6" cy="69.6" r="0.4" fill="#8a8a8a"/>
<circle cx="341.2" cy="63.3" r="0.4" fill="#8a8a8a"/>
<circle cx="363.2" cy="72.4" r="0.4" fill="#8a8a8a"/>
<circle cx="341.7" cy="73.3" r="0.4" fill="#8a8a8a"/>
<circle cx="363.2" cy="61.3" r="0.4" fill="#8a8a8a"/>
<circle cx="362.9" cy="57.6" r="0.4" fill="#8a8a8a"/>
<circle cx="352.1" cy="80.1" r="0.4" fill="#8a8a8a"/>
<circle cx="361.9" cy="76.9" r="0.4" fill="#8a8a8a"/>
<circle cx="346.4" cy="53.6" r="0.4" fill="#8a8a8a"/>
<circle cx="356.2" cy="52.6" r="0.4" fill="#8a8a8a"/>
<circle cx="351.8" cy="52.5" r="0.4" fill="#8a8a8a"/>
<circle cx="362.4" cy="75.0" r="0.4" fill="#8a8a8a"/>
<circle cx="363.4" cy="66.9" r="0.4" fill="#8a8a8a"/>
<circle cx="354.5" cy="54.5" r="0.4" fill="#8a8a8a"/>
<circle cx="361.6" cy="73.2" r="0.4" fill="#8a8a8a"/>
<circle cx="360.7" cy="57.9" r="0.4" fill="#8a8a8a"/>
<circle cx="365.4" cy="68.7" r="0.4" fill="#8a8a8a"/>
<circle cx="362.1" cy="76.9" r="0.4" fill="#8a8a8a"/>
<circle cx="347.2" cy="53.2" r="0.4" fill="#8a8a8a"/>
<circle cx="364.2" cy="62.4" r="0.4" fill="#8a8a8a"/>
<circle cx="356.0" cy="54.9" r="0.4" fill="#8a8a8a"/>
<circle cx="354.3" cy="52.7" r="0.4" fill="#8a8a8a"/>
<circle cx="350.8" cy="54.4" r="0.4" fill="#8a8a8a"/>
<circle cx="352.9" cy="51.1" r="0.4" fill="#8a8a8a"/>
<circle cx="363.2" cy="71.4" r="0.4" fill="#8a8a8a"/>
<circle cx="341.5" cy="60.6" r="0.4" fill="#8a8a8a"/>
<circle cx="353.5" cy="79.1" r="0.4" fill="#8a8a8a"/>
<circle cx="353.0" cy="80.7" r="0.4" fill="#8a8a8a"/>
<circle cx="353.2" cy="53.1" r="0.4" fill="#8a8a8a"/>
<circle cx="345.5" cy="76.4" r="0.4" fill="#8a8a8a"/>
<circle cx="346.4" cy="77.4" r="0.4" fill="#8a8a8a"/>
<circle cx="363.0" cy="73.4" r="0.4" fill="#8a8a8a"/>
<circle cx="364.1" cy="64.2" r="0.4" fill="#8a8a8a"/>
<circle cx="352.8" cy="53.9" r="0.4" fill="#8a8a8a"/>
<circle cx="348.5" cy="52.8" r="0.4" fill="#8a8a8a"/>
<circle cx="347.7" cy="54.2" r="0.4" fill="#8a8a8a"/>
<circle cx="341.1" cy="68.0" r="0.4" fill="#8a8a8a"/>
<circle cx="361.4" cy="59.0" r="0.4" fill="#8a8a8a"/>
<circle cx="363.1" cy="74.8" r="0.4" fill="#8a8a8a"/>
<circle cx="363.0" cy="59.6" r="0.4" fill="#8a8a8a"/>
<circle cx="341.6" cy="71.6" r="0.4" fill="#8a8a8a"/>
<circle cx="357.2" cy="78.4" r="0.4" fill="#8a8a8a"/>
<circle cx="356.7" cy="79.9" r="0.4" fill="#8a8a8a"/>
<circle cx="348.8" cy="78.3" r="0.4" fill="#8a8a8a"/>
<circle cx="348.4" cy="52.1" r="0.4" fill="#8a8a8a"/>
<circle cx="349.6" cy="80.4" r="0.4" fill="#8a8a8a"/>
<circle cx="342.3" cy="74.3" r="0.4" fill="#8a8a8a"/>
<circle cx="343.7" cy="59.9" r="0.4" fill="#8a8a8a"/>
<circle cx="355.0" cy="78.3" r="0.4" fill="#8a8a8a"/>
<circle cx="341.9" cy="68.2" r="0.4" fill="#8a8a8a"/>
<circle cx="358.2" cy="78.2" r="0.4" fill="#8a8a8a"/>
<circle cx="347.6" cy="79.8" r="0.4" fill="#8a8a8a"/>
<circle cx="361.0" cy="78.7" r="0.4" fill="#8a8a8a"/>
<circle cx="341.3" cy="68.3" r="0.4" fill="#8a8a8a"/>
<circle cx="340.7" cy="69.5" r="0.4" fill="#8a8a8a"/>
<circle cx="358.1" cy="53.9" r="0.4" fill="#8a8a8a"/>
<circle cx="340.9" cy="68.2" r="0.4" fill="#8a8a8a"/>
<circle cx="360.0" cy="56.0" r="0.4" fill="#8a8a8a"/>
<circle cx="351.7" cy="51.1" r="0.4" fill="#8a8a8a"/>
<circle cx="342.5" cy="69.1" r="0.4" fill="#8a8a8a"/>
<circle cx="354.2" cy="81.0" r="0.4" fill="#8a8a8a"/>
<circle cx="347.2" cy="52.7" r="0.4" fill="#8a8a8a"/>
<circle cx="359.5" cy="56.3" r="0.4" fill="#8a8a8a"/>
<circle cx="357.0" cy="78.5" r="0.4" fill="#8a8a8a"/>
<circle cx="357.7" cy="79.9" r="0.4" fill="#8a8a8a"/>
<circle cx="361.0" cy="54.7" r="0.4" fill="#8a8a8a"/>
<circle cx="352.6" cy="81.6" r="0.4" fill="#8a8a8a"/>
<circle cx="348.6" cy="79.0" r="0.4" fill="#8a8a8a"/>
<circle cx="351.6" cy="54.3" r="0.4" fill="#8a8a8a"/>
<circle cx="363.4" cy="74.7" r="0.4" fill="#8a8a8a"/>
<circle cx="350.1" cy="79.3" r="0.4" fill="#8a8a8a"/>
<circle cx="342.5" cy="59.5" r="0.4" fill="#8a8a8a"/>
<circle cx="364.0" cy="67.1" r="0.4" fill="#8a8a8a"/>
<circle cx="342.5" cy="71.9" r="0.4" fill="#8a8a8a"/>
<circle cx="355.9" cy="80.2" r="0.4" fill="#8a8a8a"/>
<circle cx="363.7" cy="62.8" r="0.4" fill="#8a8a8a"/>
<circle cx="343.0" cy="63.1" r="0.4" fill="#8a8a8a"/>
<circle cx="351.1" cy="80.7" r="0.4" fill="#8a8a8a"/>
<circle cx="362.6" cy="76.4" r="0.4" fill="#8a8a8a"/>
<circle cx="361.6" cy="59.8" r="0.4" fill="#8a8a8a"/>
<circle cx="363.4" cy="61.7" r="0.4" fill="#8a8a8a"/>
<path d="M356.5,59.5 C361,59 365,62 365.5,66 C366,70 363,73.5 358,74" stroke="#777" stroke-width="0.7" fill="#efefef" stroke-dasharray="1.2 0.7"/>
<defs><radialGradient id="rg2"><stop offset="0" stop-color="#f6f6f6"/><stop offset="0.18" stop-color="#9c9c9c"/><stop offset="0.65" stop-color="#7a7a7a"/><stop offset="1" stop-color="#adadad"/></radialGradient></defs>
<ellipse cx="350.2" cy="67" rx="6" ry="9.6" fill="url(#rg2)" stroke="#888" stroke-width="0.5" transform="rotate(0 350.2 67)" />
<ellipse cx="349" cy="55.3" rx="2.6" ry="1.4" fill="#a8a8a8" stroke="none" stroke-width="0.6" transform="rotate(0 349 55.3)" />
<line x1="356.5" y1="15.6" x2="356.5" y2="98.6" stroke="#3a3a3a" stroke-width="1" />
<line x1="329.5" y1="59.1" x2="415" y2="59.1" stroke="#3a3a3a" stroke-width="1" />
<text x="371" y="10.4" font-size="12.3" text-anchor="middle" font-weight="normal" font-style="normal" fill="#111" stroke="#111" stroke-width="0.32" >RES</text>
<text x="336.2" y="29.8" font-size="12.3" text-anchor="start" font-weight="normal" font-style="normal" fill="#111" stroke="#111" stroke-width="0.32" >4</text>
<text x="408.0" y="29.8" font-size="12.3" text-anchor="end" font-weight="normal" font-style="normal" fill="#111" stroke="#111" stroke-width="0.32" >&lt;1</text>
<text x="334.0" y="93.9" font-size="12.3" text-anchor="start" font-weight="normal" font-style="normal" fill="#111" stroke="#111" stroke-width="0.32" >87</text>
<text x="408.0" y="93.9" font-size="12.3" text-anchor="end" font-weight="normal" font-style="normal" fill="#111" stroke="#111" stroke-width="0.32" >8</text>
<text x="411.3" y="74" font-size="12.3" text-anchor="end" font-weight="normal" font-style="italic" fill="#aa2c42" stroke="#aa2c42" stroke-width="0.2" >P05</text>
<text x="370.5" y="113.2" font-size="12.3" text-anchor="middle" font-weight="normal" font-style="normal" fill="#111" stroke="#111" stroke-width="0.32" >PD1</text>
<rect x="422.5" y="15.2" width="84.30000000000001" height="83.0" fill="none" stroke="#8c8c8c" stroke-width="0.9" />
<line x1="420.3" y1="21.4" x2="422.5" y2="21.4" stroke="#444" stroke-width="0.9" />
<line x1="421.2" y1="34.89012108368516" x2="422.5" y2="34.89012108368516" stroke="#8a8a8a" stroke-width="0.6" />
<line x1="421.2" y1="31.491559783910517" x2="422.5" y2="31.491559783910517" stroke="#8a8a8a" stroke-width="0.6" />
<line x1="421.2" y1="29.080242167370326" x2="422.5" y2="29.080242167370326" stroke="#8a8a8a" stroke-width="0.6" />
<line x1="421.2" y1="27.209878916314835" x2="422.5" y2="27.209878916314835" stroke="#8a8a8a" stroke-width="0.6" />
<line x1="421.2" y1="25.681680867595677" x2="422.5" y2="25.681680867595677" stroke="#8a8a8a" stroke-width="0.6" />
<line x1="421.2" y1="24.38960782772484" x2="422.5" y2="24.38960782772484" stroke="#8a8a8a" stroke-width="0.6" />
<line x1="421.2" y1="23.27036325105549" x2="422.5" y2="23.27036325105549" stroke="#8a8a8a" stroke-width="0.6" />
<line x1="421.2" y1="22.28311956782103" x2="422.5" y2="22.28311956782103" stroke="#8a8a8a" stroke-width="0.6" />
<line x1="420.3" y1="40.7" x2="422.5" y2="40.7" stroke="#444" stroke-width="0.9" />
<line x1="421.2" y1="54.19012108368516" x2="422.5" y2="54.19012108368516" stroke="#8a8a8a" stroke-width="0.6" />
<line x1="421.2" y1="50.79155978391052" x2="422.5" y2="50.79155978391052" stroke="#8a8a8a" stroke-width="0.6" />
<line x1="421.2" y1="48.38024216737033" x2="422.5" y2="48.38024216737033" stroke="#8a8a8a" stroke-width="0.6" />
<line x1="421.2" y1="46.50987891631484" x2="422.5" y2="46.50987891631484" stroke="#8a8a8a" stroke-width="0.6" />
<line x1="421.2" y1="44.98168086759568" x2="422.5" y2="44.98168086759568" stroke="#8a8a8a" stroke-width="0.6" />
<line x1="421.2" y1="43.68960782772485" x2="422.5" y2="43.68960782772485" stroke="#8a8a8a" stroke-width="0.6" />
<line x1="421.2" y1="42.57036325105549" x2="422.5" y2="42.57036325105549" stroke="#8a8a8a" stroke-width="0.6" />
<line x1="421.2" y1="41.583119567821036" x2="422.5" y2="41.583119567821036" stroke="#8a8a8a" stroke-width="0.6" />
<line x1="420.3" y1="60.0" x2="422.5" y2="60.0" stroke="#444" stroke-width="0.9" />
<line x1="421.2" y1="73.49012108368517" x2="422.5" y2="73.49012108368517" stroke="#8a8a8a" stroke-width="0.6" />
<line x1="421.2" y1="70.09155978391051" x2="422.5" y2="70.09155978391051" stroke="#8a8a8a" stroke-width="0.6" />
<line x1="421.2" y1="67.68024216737032" x2="422.5" y2="67.68024216737032" stroke="#8a8a8a" stroke-width="0.6" />
<line x1="421.2" y1="65.80987891631483" x2="422.5" y2="65.80987891631483" stroke="#8a8a8a" stroke-width="0.6" />
<line x1="421.2" y1="64.28168086759568" x2="422.5" y2="64.28168086759568" stroke="#8a8a8a" stroke-width="0.6" />
<line x1="421.2" y1="62.989607827724846" x2="422.5" y2="62.989607827724846" stroke="#8a8a8a" stroke-width="0.6" />
<line x1="421.2" y1="61.87036325105549" x2="422.5" y2="61.87036325105549" stroke="#8a8a8a" stroke-width="0.6" />
<line x1="421.2" y1="60.88311956782103" x2="422.5" y2="60.88311956782103" stroke="#8a8a8a" stroke-width="0.6" />
<line x1="420.3" y1="79.30000000000001" x2="422.5" y2="79.30000000000001" stroke="#444" stroke-width="0.9" />
<line x1="421.2" y1="92.79012108368518" x2="422.5" y2="92.79012108368518" stroke="#8a8a8a" stroke-width="0.6" />
<line x1="421.2" y1="89.39155978391052" x2="422.5" y2="89.39155978391052" stroke="#8a8a8a" stroke-width="0.6" />
<line x1="421.2" y1="86.98024216737033" x2="422.5" y2="86.98024216737033" stroke="#8a8a8a" stroke-width="0.6" />
<line x1="421.2" y1="85.10987891631484" x2="422.5" y2="85.10987891631484" stroke="#8a8a8a" stroke-width="0.6" />
<line x1="421.2" y1="83.5816808675957" x2="422.5" y2="83.5816808675957" stroke="#8a8a8a" stroke-width="0.6" />
<line x1="421.2" y1="82.28960782772485" x2="422.5" y2="82.28960782772485" stroke="#8a8a8a" stroke-width="0.6" />
<line x1="421.2" y1="81.1703632510555" x2="422.5" y2="81.1703632510555" stroke="#8a8a8a" stroke-width="0.6" />
<line x1="421.2" y1="80.18311956782104" x2="422.5" y2="80.18311956782104" stroke="#8a8a8a" stroke-width="0.6" />
<line x1="423.81975783262965" y1="98.2" x2="423.81975783262965" y2="99.5" stroke="#8a8a8a" stroke-width="0.6" />
<line x1="425.69012108368514" y1="98.2" x2="425.69012108368514" y2="99.5" stroke="#8a8a8a" stroke-width="0.6" />
<line x1="427.2183191324043" y1="98.2" x2="427.2183191324043" y2="99.5" stroke="#8a8a8a" stroke-width="0.6" />
<line x1="428.51039217227515" y1="98.2" x2="428.51039217227515" y2="99.5" stroke="#8a8a8a" stroke-width="0.6" />
<line x1="429.6296367489445" y1="98.2" x2="429.6296367489445" y2="99.5" stroke="#8a8a8a" stroke-width="0.6" />
<line x1="430.61688043217896" y1="98.2" x2="430.61688043217896" y2="99.5" stroke="#8a8a8a" stroke-width="0.6" />
<line x1="431.5" y1="98.2" x2="431.5" y2="100.4" stroke="#444" stroke-width="0.9" />
<line x1="437.30987891631486" y1="98.2" x2="437.30987891631486" y2="99.5" stroke="#8a8a8a" stroke-width="0.6" />
<line x1="440.70844021608946" y1="98.2" x2="440.70844021608946" y2="99.5" stroke="#8a8a8a" stroke-width="0.6" />
<line x1="443.11975783262966" y1="98.2" x2="443.11975783262966" y2="99.5" stroke="#8a8a8a" stroke-width="0.6" />
<line x1="444.99012108368515" y1="98.2" x2="444.99012108368515" y2="99.5" stroke="#8a8a8a" stroke-width="0.6" />
<line x1="446.5183191324043" y1="98.2" x2="446.5183191324043" y2="99.5" stroke="#8a8a8a" stroke-width="0.6" />
<line x1="447.81039217227516" y1="98.2" x2="447.81039217227516" y2="99.5" stroke="#8a8a8a" stroke-width="0.6" />
<line x1="448.9296367489445" y1="98.2" x2="448.9296367489445" y2="99.5" stroke="#8a8a8a" stroke-width="0.6" />
<line x1="449.91688043217897" y1="98.2" x2="449.91688043217897" y2="99.5" stroke="#8a8a8a" stroke-width="0.6" />
<line x1="450.8" y1="98.2" x2="450.8" y2="100.4" stroke="#444" stroke-width="0.9" />
<line x1="456.60987891631487" y1="98.2" x2="456.60987891631487" y2="99.5" stroke="#8a8a8a" stroke-width="0.6" />
<line x1="460.0084402160895" y1="98.2" x2="460.0084402160895" y2="99.5" stroke="#8a8a8a" stroke-width="0.6" />
<line x1="462.41975783262967" y1="98.2" x2="462.41975783262967" y2="99.5" stroke="#8a8a8a" stroke-width="0.6" />
<line x1="464.29012108368516" y1="98.2" x2="464.29012108368516" y2="99.5" stroke="#8a8a8a" stroke-width="0.6" />
<line x1="465.8183191324043" y1="98.2" x2="465.8183191324043" y2="99.5" stroke="#8a8a8a" stroke-width="0.6" />
<line x1="467.11039217227517" y1="98.2" x2="467.11039217227517" y2="99.5" stroke="#8a8a8a" stroke-width="0.6" />
<line x1="468.22963674894453" y1="98.2" x2="468.22963674894453" y2="99.5" stroke="#8a8a8a" stroke-width="0.6" />
<line x1="469.216880432179" y1="98.2" x2="469.216880432179" y2="99.5" stroke="#8a8a8a" stroke-width="0.6" />
<line x1="470.1" y1="98.2" x2="470.1" y2="100.4" stroke="#444" stroke-width="0.9" />
<line x1="475.9098789163149" y1="98.2" x2="475.9098789163149" y2="99.5" stroke="#8a8a8a" stroke-width="0.6" />
<line x1="479.3084402160895" y1="98.2" x2="479.3084402160895" y2="99.5" stroke="#8a8a8a" stroke-width="0.6" />
<line x1="481.7197578326297" y1="98.2" x2="481.7197578326297" y2="99.5" stroke="#8a8a8a" stroke-width="0.6" />
<line x1="483.5901210836852" y1="98.2" x2="483.5901210836852" y2="99.5" stroke="#8a8a8a" stroke-width="0.6" />
<line x1="485.11831913240434" y1="98.2" x2="485.11831913240434" y2="99.5" stroke="#8a8a8a" stroke-width="0.6" />
<line x1="486.4103921722752" y1="98.2" x2="486.4103921722752" y2="99.5" stroke="#8a8a8a" stroke-width="0.6" />
<line x1="487.52963674894454" y1="98.2" x2="487.52963674894454" y2="99.5" stroke="#8a8a8a" stroke-width="0.6" />
<line x1="488.516880432179" y1="98.2" x2="488.516880432179" y2="99.5" stroke="#8a8a8a" stroke-width="0.6" />
<line x1="489.4" y1="98.2" x2="489.4" y2="100.4" stroke="#444" stroke-width="0.9" />
<line x1="495.20987891631484" y1="98.2" x2="495.20987891631484" y2="99.5" stroke="#8a8a8a" stroke-width="0.6" />
<line x1="498.60844021608943" y1="98.2" x2="498.60844021608943" y2="99.5" stroke="#8a8a8a" stroke-width="0.6" />
<line x1="501.01975783262964" y1="98.2" x2="501.01975783262964" y2="99.5" stroke="#8a8a8a" stroke-width="0.6" />
<line x1="502.89012108368513" y1="98.2" x2="502.89012108368513" y2="99.5" stroke="#8a8a8a" stroke-width="0.6" />
<line x1="504.4183191324043" y1="98.2" x2="504.4183191324043" y2="99.5" stroke="#8a8a8a" stroke-width="0.6" />
<line x1="505.71039217227514" y1="98.2" x2="505.71039217227514" y2="99.5" stroke="#8a8a8a" stroke-width="0.6" />
<circle cx="421.5" cy="88.7" r="0.9" fill="#111"/>
<circle cx="432.1" cy="99.4" r="0.9" fill="#111"/>
<defs><radialGradient id="rg3"><stop offset="0" stop-color="#ffffff"/><stop offset="0.12" stop-color="#f0f0f0"/><stop offset="0.28" stop-color="#9a9a9a"/><stop offset="0.6" stop-color="#a0a0a0"/><stop offset="0.85" stop-color="#c8c8c8"/><stop offset="1" stop-color="#ffffff"/></radialGradient></defs>
<ellipse cx="441.2" cy="61" rx="9.2" ry="10.2" fill="url(#rg3)" stroke="none" stroke-width="0.6" transform="rotate(0 441.2 61)" />
<circle cx="461.4" cy="68.4" r="0.3" fill="#aaa" fill-opacity="1"/>
<circle cx="443.2" cy="66.2" r="0.3" fill="#aaa" fill-opacity="1"/>
<circle cx="456.9" cy="69.8" r="0.3" fill="#aaa" fill-opacity="1"/>
<circle cx="442.1" cy="68.4" r="0.3" fill="#aaa" fill-opacity="1"/>
<circle cx="468.5" cy="66.2" r="0.3" fill="#aaa" fill-opacity="1"/>
<circle cx="452.4" cy="51.1" r="0.3" fill="#aaa" fill-opacity="1"/>
<circle cx="450.8" cy="57.5" r="0.3" fill="#aaa" fill-opacity="1"/>
<circle cx="459.3" cy="66.3" r="0.3" fill="#aaa" fill-opacity="1"/>
<circle cx="453.5" cy="52.9" r="0.3" fill="#aaa" fill-opacity="1"/>
<circle cx="456.5" cy="65.0" r="0.3" fill="#aaa" fill-opacity="1"/>
<circle cx="438.8" cy="72.0" r="0.3" fill="#aaa" fill-opacity="1"/>
<circle cx="456.9" cy="51.3" r="0.3" fill="#aaa" fill-opacity="1"/>
<circle cx="467.4" cy="51.8" r="0.3" fill="#aaa" fill-opacity="1"/>
<circle cx="444.6" cy="67.5" r="0.3" fill="#aaa" fill-opacity="1"/>
<circle cx="454.7" cy="63.0" r="0.3" fill="#aaa" fill-opacity="1"/>
<circle cx="456.6" cy="60.4" r="0.3" fill="#aaa" fill-opacity="1"/>
<circle cx="443.9" cy="52.8" r="0.3" fill="#aaa" fill-opacity="1"/>
<circle cx="434.6" cy="67.3" r="0.3" fill="#aaa" fill-opacity="1"/>
<circle cx="460.7" cy="62.7" r="0.3" fill="#aaa" fill-opacity="1"/>
<circle cx="460.1" cy="57.7" r="0.3" fill="#aaa" fill-opacity="1"/>
<circle cx="442.1" cy="58.4" r="0.3" fill="#aaa" fill-opacity="1"/>
<circle cx="465.2" cy="49.1" r="0.3" fill="#aaa" fill-opacity="1"/>
<circle cx="451.2" cy="54.7" r="0.3" fill="#aaa" fill-opacity="1"/>
<circle cx="461.2" cy="57.6" r="0.3" fill="#aaa" fill-opacity="1"/>
<circle cx="444.6" cy="58.9" r="0.3" fill="#aaa" fill-opacity="1"/>
<line x1="449.3" y1="15.2" x2="449.3" y2="98.2" stroke="#3a3a3a" stroke-width="1" />
<line x1="422.5" y1="57.4" x2="506.8" y2="57.4" stroke="#3a3a3a" stroke-width="1" />
<text x="464.1" y="10.4" font-size="11.6" text-anchor="middle" font-weight="normal" font-style="normal" fill="#111" stroke="#111" stroke-width="0.32" >Healthy donor</text>
<text x="427.4" y="29.7" font-size="12.3" text-anchor="start" font-weight="normal" font-style="normal" fill="#111" stroke="#111" stroke-width="0.32" >12</text>
<text x="499.6" y="29.7" font-size="12.3" text-anchor="end" font-weight="normal" font-style="normal" fill="#111" stroke="#111" stroke-width="0.32" >1</text>
<text x="427.4" y="93.8" font-size="12.3" text-anchor="start" font-weight="normal" font-style="normal" fill="#111" stroke="#111" stroke-width="0.32" >85</text>
<text x="500" y="93.8" font-size="12.3" text-anchor="end" font-weight="normal" font-style="normal" fill="#111" stroke="#111" stroke-width="0.32" >2</text>
<text x="452.5" y="114.3" font-size="12.3" text-anchor="start" font-weight="normal" font-style="normal" fill="#111" stroke="#111" stroke-width="0.32" >CCR7<tspan font-size="6" dy="-4.5" dx="0.3">&#8211;</tspan><tspan dy="4.5">CD8</tspan><tspan font-size="7.5" dy="-4.5">+</tspan></text>
<text x="2.0" y="144.2" font-size="15.2" text-anchor="start" font-weight="bold" font-style="normal" fill="#111" stroke="#111" stroke-width="0.3" >B</text>
<rect x="20" y="155.2" width="84.2" height="83.0" fill="none" stroke="#8c8c8c" stroke-width="0.9" />
<line x1="17.8" y1="161.39999999999998" x2="20" y2="161.39999999999998" stroke="#444" stroke-width="0.9" />
<line x1="18.7" y1="174.89012108368513" x2="20" y2="174.89012108368513" stroke="#8a8a8a" stroke-width="0.6" />
<line x1="18.7" y1="171.4915597839105" x2="20" y2="171.4915597839105" stroke="#8a8a8a" stroke-width="0.6" />
<line x1="18.7" y1="169.0802421673703" x2="20" y2="169.0802421673703" stroke="#8a8a8a" stroke-width="0.6" />
<line x1="18.7" y1="167.2098789163148" x2="20" y2="167.2098789163148" stroke="#8a8a8a" stroke-width="0.6" />
<line x1="18.7" y1="165.68168086759565" x2="20" y2="165.68168086759565" stroke="#8a8a8a" stroke-width="0.6" />
<line x1="18.7" y1="164.38960782772483" x2="20" y2="164.38960782772483" stroke="#8a8a8a" stroke-width="0.6" />
<line x1="18.7" y1="163.27036325105547" x2="20" y2="163.27036325105547" stroke="#8a8a8a" stroke-width="0.6" />
<line x1="18.7" y1="162.28311956782102" x2="20" y2="162.28311956782102" stroke="#8a8a8a" stroke-width="0.6" />
<line x1="17.8" y1="180.7" x2="20" y2="180.7" stroke="#444" stroke-width="0.9" />
<line x1="18.7" y1="194.19012108368514" x2="20" y2="194.19012108368514" stroke="#8a8a8a" stroke-width="0.6" />
<line x1="18.7" y1="190.79155978391051" x2="20" y2="190.79155978391051" stroke="#8a8a8a" stroke-width="0.6" />
<line x1="18.7" y1="188.3802421673703" x2="20" y2="188.3802421673703" stroke="#8a8a8a" stroke-width="0.6" />
<line x1="18.7" y1="186.50987891631482" x2="20" y2="186.50987891631482" stroke="#8a8a8a" stroke-width="0.6" />
<line x1="18.7" y1="184.98168086759566" x2="20" y2="184.98168086759566" stroke="#8a8a8a" stroke-width="0.6" />
<line x1="18.7" y1="183.68960782772484" x2="20" y2="183.68960782772484" stroke="#8a8a8a" stroke-width="0.6" />
<line x1="18.7" y1="182.57036325105548" x2="20" y2="182.57036325105548" stroke="#8a8a8a" stroke-width="0.6" />
<line x1="18.7" y1="181.58311956782103" x2="20" y2="181.58311956782103" stroke="#8a8a8a" stroke-width="0.6" />
<line x1="17.8" y1="199.99999999999997" x2="20" y2="199.99999999999997" stroke="#444" stroke-width="0.9" />
<line x1="18.7" y1="213.49012108368512" x2="20" y2="213.49012108368512" stroke="#8a8a8a" stroke-width="0.6" />
<line x1="18.7" y1="210.0915597839105" x2="20" y2="210.0915597839105" stroke="#8a8a8a" stroke-width="0.6" />
<line x1="18.7" y1="207.6802421673703" x2="20" y2="207.6802421673703" stroke="#8a8a8a" stroke-width="0.6" />
<line x1="18.7" y1="205.8098789163148" x2="20" y2="205.8098789163148" stroke="#8a8a8a" stroke-width="0.6" />
<line x1="18.7" y1="204.28168086759564" x2="20" y2="204.28168086759564" stroke="#8a8a8a" stroke-width="0.6" />
<line x1="18.7" y1="202.98960782772483" x2="20" y2="202.98960782772483" stroke="#8a8a8a" stroke-width="0.6" />
<line x1="18.7" y1="201.87036325105547" x2="20" y2="201.87036325105547" stroke="#8a8a8a" stroke-width="0.6" />
<line x1="18.7" y1="200.883119567821" x2="20" y2="200.883119567821" stroke="#8a8a8a" stroke-width="0.6" />
<line x1="17.8" y1="219.29999999999998" x2="20" y2="219.29999999999998" stroke="#444" stroke-width="0.9" />
<line x1="18.7" y1="232.79012108368514" x2="20" y2="232.79012108368514" stroke="#8a8a8a" stroke-width="0.6" />
<line x1="18.7" y1="229.3915597839105" x2="20" y2="229.3915597839105" stroke="#8a8a8a" stroke-width="0.6" />
<line x1="18.7" y1="226.9802421673703" x2="20" y2="226.9802421673703" stroke="#8a8a8a" stroke-width="0.6" />
<line x1="18.7" y1="225.1098789163148" x2="20" y2="225.1098789163148" stroke="#8a8a8a" stroke-width="0.6" />
<line x1="18.7" y1="223.58168086759565" x2="20" y2="223.58168086759565" stroke="#8a8a8a" stroke-width="0.6" />
<line x1="18.7" y1="222.28960782772484" x2="20" y2="222.28960782772484" stroke="#8a8a8a" stroke-width="0.6" />
<line x1="18.7" y1="221.17036325105548" x2="20" y2="221.17036325105548" stroke="#8a8a8a" stroke-width="0.6" />
<line x1="18.7" y1="220.18311956782102" x2="20" y2="220.18311956782102" stroke="#8a8a8a" stroke-width="0.6" />
<line x1="21.319757832629676" y1="238.2" x2="21.319757832629676" y2="239.5" stroke="#8a8a8a" stroke-width="0.6" />
<line x1="23.190121083685163" y1="238.2" x2="23.190121083685163" y2="239.5" stroke="#8a8a8a" stroke-width="0.6" />
<line x1="24.71831913240432" y1="238.2" x2="24.71831913240432" y2="239.5" stroke="#8a8a8a" stroke-width="0.6" />
<line x1="26.010392172275157" y1="238.2" x2="26.010392172275157" y2="239.5" stroke="#8a8a8a" stroke-width="0.6" />
<line x1="27.12963674894451" y1="238.2" x2="27.12963674894451" y2="239.5" stroke="#8a8a8a" stroke-width="0.6" />
<line x1="28.11688043217897" y1="238.2" x2="28.11688043217897" y2="239.5" stroke="#8a8a8a" stroke-width="0.6" />
<line x1="29.0" y1="238.2" x2="29.0" y2="240.39999999999998" stroke="#444" stroke-width="0.9" />
<line x1="34.80987891631484" y1="238.2" x2="34.80987891631484" y2="239.5" stroke="#8a8a8a" stroke-width="0.6" />
<line x1="38.208440216089485" y1="238.2" x2="38.208440216089485" y2="239.5" stroke="#8a8a8a" stroke-width="0.6" />
<line x1="40.61975783262967" y1="238.2" x2="40.61975783262967" y2="239.5" stroke="#8a8a8a" stroke-width="0.6" />
<line x1="42.49012108368517" y1="238.2" x2="42.49012108368517" y2="239.5" stroke="#8a8a8a" stroke-width="0.6" />
<line x1="44.01831913240432" y1="238.2" x2="44.01831913240432" y2="239.5" stroke="#8a8a8a" stroke-width="0.6" />
<line x1="45.31039217227516" y1="238.2" x2="45.31039217227516" y2="239.5" stroke="#8a8a8a" stroke-width="0.6" />
<line x1="46.42963674894451" y1="238.2" x2="46.42963674894451" y2="239.5" stroke="#8a8a8a" stroke-width="0.6" />
<line x1="47.41688043217897" y1="238.2" x2="47.41688043217897" y2="239.5" stroke="#8a8a8a" stroke-width="0.6" />
<line x1="48.3" y1="238.2" x2="48.3" y2="240.39999999999998" stroke="#444" stroke-width="0.9" />
<line x1="54.109878916314834" y1="238.2" x2="54.109878916314834" y2="239.5" stroke="#8a8a8a" stroke-width="0.6" />
<line x1="57.50844021608948" y1="238.2" x2="57.50844021608948" y2="239.5" stroke="#8a8a8a" stroke-width="0.6" />
<line x1="59.91975783262967" y1="238.2" x2="59.91975783262967" y2="239.5" stroke="#8a8a8a" stroke-width="0.6" />
<line x1="61.790121083685165" y1="238.2" x2="61.790121083685165" y2="239.5" stroke="#8a8a8a" stroke-width="0.6" />
<line x1="63.31831913240432" y1="238.2" x2="63.31831913240432" y2="239.5" stroke="#8a8a8a" stroke-width="0.6" />
<line x1="64.61039217227516" y1="238.2" x2="64.61039217227516" y2="239.5" stroke="#8a8a8a" stroke-width="0.6" />
<line x1="65.7296367489445" y1="238.2" x2="65.7296367489445" y2="239.5" stroke="#8a8a8a" stroke-width="0.6" />
<line x1="66.71688043217897" y1="238.2" x2="66.71688043217897" y2="239.5" stroke="#8a8a8a" stroke-width="0.6" />
<line x1="67.6" y1="238.2" x2="67.6" y2="240.39999999999998" stroke="#444" stroke-width="0.9" />
<line x1="73.40987891631484" y1="238.2" x2="73.40987891631484" y2="239.5" stroke="#8a8a8a" stroke-width="0.6" />
<line x1="76.80844021608948" y1="238.2" x2="76.80844021608948" y2="239.5" stroke="#8a8a8a" stroke-width="0.6" />
<line x1="79.21975783262967" y1="238.2" x2="79.21975783262967" y2="239.5" stroke="#8a8a8a" stroke-width="0.6" />
<line x1="81.09012108368516" y1="238.2" x2="81.09012108368516" y2="239.5" stroke="#8a8a8a" stroke-width="0.6" />
<line x1="82.61831913240431" y1="238.2" x2="82.61831913240431" y2="239.5" stroke="#8a8a8a" stroke-width="0.6" />
<line x1="83.91039217227515" y1="238.2" x2="83.91039217227515" y2="239.5" stroke="#8a8a8a" stroke-width="0.6" />
<line x1="85.02963674894451" y1="238.2" x2="85.02963674894451" y2="239.5" stroke="#8a8a8a" stroke-width="0.6" />
<line x1="86.01688043217897" y1="238.2" x2="86.01688043217897" y2="239.5" stroke="#8a8a8a" stroke-width="0.6" />
<line x1="86.9" y1="238.2" x2="86.9" y2="240.39999999999998" stroke="#444" stroke-width="0.9" />
<line x1="92.70987891631485" y1="238.2" x2="92.70987891631485" y2="239.5" stroke="#8a8a8a" stroke-width="0.6" />
<line x1="96.10844021608949" y1="238.2" x2="96.10844021608949" y2="239.5" stroke="#8a8a8a" stroke-width="0.6" />
<line x1="98.51975783262968" y1="238.2" x2="98.51975783262968" y2="239.5" stroke="#8a8a8a" stroke-width="0.6" />
<line x1="100.39012108368517" y1="238.2" x2="100.39012108368517" y2="239.5" stroke="#8a8a8a" stroke-width="0.6" />
<line x1="101.91831913240432" y1="238.2" x2="101.91831913240432" y2="239.5" stroke="#8a8a8a" stroke-width="0.6" />
<circle cx="19" cy="228.7" r="0.9" fill="#111"/>
<circle cx="29.6" cy="239.39999999999998" r="0.9" fill="#111"/>
<rect x="111.4" y="155.2" width="84.19999999999999" height="83.10000000000002" fill="none" stroke="#8c8c8c" stroke-width="0.9" />
<line x1="109.2" y1="161.39999999999998" x2="111.4" y2="161.39999999999998" stroke="#444" stroke-width="0.9" />
<line x1="110.10000000000001" y1="174.89012108368513" x2="111.4" y2="174.89012108368513" stroke="#8a8a8a" stroke-width="0.6" />
<line x1="110.10000000000001" y1="171.4915597839105" x2="111.4" y2="171.4915597839105" stroke="#8a8a8a" stroke-width="0.6" />
<line x1="110.10000000000001" y1="169.0802421673703" x2="111.4" y2="169.0802421673703" stroke="#8a8a8a" stroke-width="0.6" />
<line x1="110.10000000000001" y1="167.2098789163148" x2="111.4" y2="167.2098789163148" stroke="#8a8a8a" stroke-width="0.6" />
<line x1="110.10000000000001" y1="165.68168086759565" x2="111.4" y2="165.68168086759565" stroke="#8a8a8a" stroke-width="0.6" />
<line x1="110.10000000000001" y1="164.38960782772483" x2="111.4" y2="164.38960782772483" stroke="#8a8a8a" stroke-width="0.6" />
<line x1="110.10000000000001" y1="163.27036325105547" x2="111.4" y2="163.27036325105547" stroke="#8a8a8a" stroke-width="0.6" />
<line x1="110.10000000000001" y1="162.28311956782102" x2="111.4" y2="162.28311956782102" stroke="#8a8a8a" stroke-width="0.6" />
<line x1="109.2" y1="180.7" x2="111.4" y2="180.7" stroke="#444" stroke-width="0.9" />
<line x1="110.10000000000001" y1="194.19012108368514" x2="111.4" y2="194.19012108368514" stroke="#8a8a8a" stroke-width="0.6" />
<line x1="110.10000000000001" y1="190.79155978391051" x2="111.4" y2="190.79155978391051" stroke="#8a8a8a" stroke-width="0.6" />
<line x1="110.10000000000001" y1="188.3802421673703" x2="111.4" y2="188.3802421673703" stroke="#8a8a8a" stroke-width="0.6" />
<line x1="110.10000000000001" y1="186.50987891631482" x2="111.4" y2="186.50987891631482" stroke="#8a8a8a" stroke-width="0.6" />
<line x1="110.10000000000001" y1="184.98168086759566" x2="111.4" y2="184.98168086759566" stroke="#8a8a8a" stroke-width="0.6" />
<line x1="110.10000000000001" y1="183.68960782772484" x2="111.4" y2="183.68960782772484" stroke="#8a8a8a" stroke-width="0.6" />
<line x1="110.10000000000001" y1="182.57036325105548" x2="111.4" y2="182.57036325105548" stroke="#8a8a8a" stroke-width="0.6" />
<line x1="110.10000000000001" y1="181.58311956782103" x2="111.4" y2="181.58311956782103" stroke="#8a8a8a" stroke-width="0.6" />
<line x1="109.2" y1="199.99999999999997" x2="111.4" y2="199.99999999999997" stroke="#444" stroke-width="0.9" />
<line x1="110.10000000000001" y1="213.49012108368512" x2="111.4" y2="213.49012108368512" stroke="#8a8a8a" stroke-width="0.6" />
<line x1="110.10000000000001" y1="210.0915597839105" x2="111.4" y2="210.0915597839105" stroke="#8a8a8a" stroke-width="0.6" />
<line x1="110.10000000000001" y1="207.6802421673703" x2="111.4" y2="207.6802421673703" stroke="#8a8a8a" stroke-width="0.6" />
<line x1="110.10000000000001" y1="205.8098789163148" x2="111.4" y2="205.8098789163148" stroke="#8a8a8a" stroke-width="0.6" />
<line x1="110.10000000000001" y1="204.28168086759564" x2="111.4" y2="204.28168086759564" stroke="#8a8a8a" stroke-width="0.6" />
<line x1="110.10000000000001" y1="202.98960782772483" x2="111.4" y2="202.98960782772483" stroke="#8a8a8a" stroke-width="0.6" />
<line x1="110.10000000000001" y1="201.87036325105547" x2="111.4" y2="201.87036325105547" stroke="#8a8a8a" stroke-width="0.6" />
<line x1="110.10000000000001" y1="200.883119567821" x2="111.4" y2="200.883119567821" stroke="#8a8a8a" stroke-width="0.6" />
<line x1="109.2" y1="219.29999999999998" x2="111.4" y2="219.29999999999998" stroke="#444" stroke-width="0.9" />
<line x1="110.10000000000001" y1="232.79012108368514" x2="111.4" y2="232.79012108368514" stroke="#8a8a8a" stroke-width="0.6" />
<line x1="110.10000000000001" y1="229.3915597839105" x2="111.4" y2="229.3915597839105" stroke="#8a8a8a" stroke-width="0.6" />
<line x1="110.10000000000001" y1="226.9802421673703" x2="111.4" y2="226.9802421673703" stroke="#8a8a8a" stroke-width="0.6" />
<line x1="110.10000000000001" y1="225.1098789163148" x2="111.4" y2="225.1098789163148" stroke="#8a8a8a" stroke-width="0.6" />
<line x1="110.10000000000001" y1="223.58168086759565" x2="111.4" y2="223.58168086759565" stroke="#8a8a8a" stroke-width="0.6" />
<line x1="110.10000000000001" y1="222.28960782772484" x2="111.4" y2="222.28960782772484" stroke="#8a8a8a" stroke-width="0.6" />
<line x1="110.10000000000001" y1="221.17036325105548" x2="111.4" y2="221.17036325105548" stroke="#8a8a8a" stroke-width="0.6" />
<line x1="110.10000000000001" y1="220.18311956782102" x2="111.4" y2="220.18311956782102" stroke="#8a8a8a" stroke-width="0.6" />
<line x1="112.71975783262968" y1="238.3" x2="112.71975783262968" y2="239.60000000000002" stroke="#8a8a8a" stroke-width="0.6" />
<line x1="114.59012108368518" y1="238.3" x2="114.59012108368518" y2="239.60000000000002" stroke="#8a8a8a" stroke-width="0.6" />
<line x1="116.11831913240434" y1="238.3" x2="116.11831913240434" y2="239.60000000000002" stroke="#8a8a8a" stroke-width="0.6" />
<line x1="117.41039217227517" y1="238.3" x2="117.41039217227517" y2="239.60000000000002" stroke="#8a8a8a" stroke-width="0.6" />
<line x1="118.52963674894451" y1="238.3" x2="118.52963674894451" y2="239.60000000000002" stroke="#8a8a8a" stroke-width="0.6" />
<line x1="119.51688043217898" y1="238.3" x2="119.51688043217898" y2="239.60000000000002" stroke="#8a8a8a" stroke-width="0.6" />
<line x1="120.4" y1="238.3" x2="120.4" y2="240.5" stroke="#444" stroke-width="0.9" />
<line x1="126.20987891631485" y1="238.3" x2="126.20987891631485" y2="239.60000000000002" stroke="#8a8a8a" stroke-width="0.6" />
<line x1="129.6084402160895" y1="238.3" x2="129.6084402160895" y2="239.60000000000002" stroke="#8a8a8a" stroke-width="0.6" />
<line x1="132.0197578326297" y1="238.3" x2="132.0197578326297" y2="239.60000000000002" stroke="#8a8a8a" stroke-width="0.6" />
<line x1="133.89012108368516" y1="238.3" x2="133.89012108368516" y2="239.60000000000002" stroke="#8a8a8a" stroke-width="0.6" />
<line x1="135.41831913240432" y1="238.3" x2="135.41831913240432" y2="239.60000000000002" stroke="#8a8a8a" stroke-width="0.6" />
<line x1="136.71039217227516" y1="238.3" x2="136.71039217227516" y2="239.60000000000002" stroke="#8a8a8a" stroke-width="0.6" />
<line x1="137.82963674894452" y1="238.3" x2="137.82963674894452" y2="239.60000000000002" stroke="#8a8a8a" stroke-width="0.6" />
<line x1="138.81688043217898" y1="238.3" x2="138.81688043217898" y2="239.60000000000002" stroke="#8a8a8a" stroke-width="0.6" />
<line x1="139.70000000000002" y1="238.3" x2="139.70000000000002" y2="240.5" stroke="#444" stroke-width="0.9" />
<line x1="145.50987891631485" y1="238.3" x2="145.50987891631485" y2="239.60000000000002" stroke="#8a8a8a" stroke-width="0.6" />
<line x1="148.9084402160895" y1="238.3" x2="148.9084402160895" y2="239.60000000000002" stroke="#8a8a8a" stroke-width="0.6" />
<line x1="151.3197578326297" y1="238.3" x2="151.3197578326297" y2="239.60000000000002" stroke="#8a8a8a" stroke-width="0.6" />
<line x1="153.19012108368517" y1="238.3" x2="153.19012108368517" y2="239.60000000000002" stroke="#8a8a8a" stroke-width="0.6" />
<line x1="154.71831913240433" y1="238.3" x2="154.71831913240433" y2="239.60000000000002" stroke="#8a8a8a" stroke-width="0.6" />
<line x1="156.01039217227517" y1="238.3" x2="156.01039217227517" y2="239.60000000000002" stroke="#8a8a8a" stroke-width="0.6" />
<line x1="157.12963674894453" y1="238.3" x2="157.12963674894453" y2="239.60000000000002" stroke="#8a8a8a" stroke-width="0.6" />
<line x1="158.116880432179" y1="238.3" x2="158.116880432179" y2="239.60000000000002" stroke="#8a8a8a" stroke-width="0.6" />
<line x1="159.0" y1="238.3" x2="159.0" y2="240.5" stroke="#444" stroke-width="0.9" />
<line x1="164.80987891631483" y1="238.3" x2="164.80987891631483" y2="239.60000000000002" stroke="#8a8a8a" stroke-width="0.6" />
<line x1="168.20844021608949" y1="238.3" x2="168.20844021608949" y2="239.60000000000002" stroke="#8a8a8a" stroke-width="0.6" />
<line x1="170.6197578326297" y1="238.3" x2="170.6197578326297" y2="239.60000000000002" stroke="#8a8a8a" stroke-width="0.6" />
<line x1="172.49012108368515" y1="238.3" x2="172.49012108368515" y2="239.60000000000002" stroke="#8a8a8a" stroke-width="0.6" />
<line x1="174.01831913240432" y1="238.3" x2="174.01831913240432" y2="239.60000000000002" stroke="#8a8a8a" stroke-width="0.6" />
<line x1="175.31039217227516" y1="238.3" x2="175.31039217227516" y2="239.60000000000002" stroke="#8a8a8a" stroke-width="0.6" />
<line x1="176.42963674894452" y1="238.3" x2="176.42963674894452" y2="239.60000000000002" stroke="#8a8a8a" stroke-width="0.6" />
<line x1="177.41688043217897" y1="238.3" x2="177.41688043217897" y2="239.60000000000002" stroke="#8a8a8a" stroke-width="0.6" />
<line x1="178.3" y1="238.3" x2="178.3" y2="240.5" stroke="#444" stroke-width="0.9" />
<line x1="184.10987891631484" y1="238.3" x2="184.10987891631484" y2="239.60000000000002" stroke="#8a8a8a" stroke-width="0.6" />
<line x1="187.5084402160895" y1="238.3" x2="187.5084402160895" y2="239.60000000000002" stroke="#8a8a8a" stroke-width="0.6" />
<line x1="189.9197578326297" y1="238.3" x2="189.9197578326297" y2="239.60000000000002" stroke="#8a8a8a" stroke-width="0.6" />
<line x1="191.79012108368516" y1="238.3" x2="191.79012108368516" y2="239.60000000000002" stroke="#8a8a8a" stroke-width="0.6" />
<line x1="193.31831913240433" y1="238.3" x2="193.31831913240433" y2="239.60000000000002" stroke="#8a8a8a" stroke-width="0.6" />
<circle cx="110.4" cy="228.8" r="0.9" fill="#111"/>
<circle cx="121.0" cy="239.5" r="0.9" fill="#111"/>
<rect x="202.5" y="155.2" width="83.69999999999999" height="83.30000000000001" fill="none" stroke="#8c8c8c" stroke-width="0.9" />
<line x1="200.3" y1="161.39999999999998" x2="202.5" y2="161.39999999999998" stroke="#444" stroke-width="0.9" />
<line x1="201.2" y1="174.89012108368513" x2="202.5" y2="174.89012108368513" stroke="#8a8a8a" stroke-width="0.6" />
<line x1="201.2" y1="171.4915597839105" x2="202.5" y2="171.4915597839105" stroke="#8a8a8a" stroke-width="0.6" />
<line x1="201.2" y1="169.0802421673703" x2="202.5" y2="169.0802421673703" stroke="#8a8a8a" stroke-width="0.6" />
<line x1="201.2" y1="167.2098789163148" x2="202.5" y2="167.2098789163148" stroke="#8a8a8a" stroke-width="0.6" />
<line x1="201.2" y1="165.68168086759565" x2="202.5" y2="165.68168086759565" stroke="#8a8a8a" stroke-width="0.6" />
<line x1="201.2" y1="164.38960782772483" x2="202.5" y2="164.38960782772483" stroke="#8a8a8a" stroke-width="0.6" />
<line x1="201.2" y1="163.27036325105547" x2="202.5" y2="163.27036325105547" stroke="#8a8a8a" stroke-width="0.6" />
<line x1="201.2" y1="162.28311956782102" x2="202.5" y2="162.28311956782102" stroke="#8a8a8a" stroke-width="0.6" />
<line x1="200.3" y1="180.7" x2="202.5" y2="180.7" stroke="#444" stroke-width="0.9" />
<line x1="201.2" y1="194.19012108368514" x2="202.5" y2="194.19012108368514" stroke="#8a8a8a" stroke-width="0.6" />
<line x1="201.2" y1="190.79155978391051" x2="202.5" y2="190.79155978391051" stroke="#8a8a8a" stroke-width="0.6" />
<line x1="201.2" y1="188.3802421673703" x2="202.5" y2="188.3802421673703" stroke="#8a8a8a" stroke-width="0.6" />
<line x1="201.2" y1="186.50987891631482" x2="202.5" y2="186.50987891631482" stroke="#8a8a8a" stroke-width="0.6" />
<line x1="201.2" y1="184.98168086759566" x2="202.5" y2="184.98168086759566" stroke="#8a8a8a" stroke-width="0.6" />
<line x1="201.2" y1="183.68960782772484" x2="202.5" y2="183.68960782772484" stroke="#8a8a8a" stroke-width="0.6" />
<line x1="201.2" y1="182.57036325105548" x2="202.5" y2="182.57036325105548" stroke="#8a8a8a" stroke-width="0.6" />
<line x1="201.2" y1="181.58311956782103" x2="202.5" y2="181.58311956782103" stroke="#8a8a8a" stroke-width="0.6" />
<line x1="200.3" y1="199.99999999999997" x2="202.5" y2="199.99999999999997" stroke="#444" stroke-width="0.9" />
<line x1="201.2" y1="213.49012108368512" x2="202.5" y2="213.49012108368512" stroke="#8a8a8a" stroke-width="0.6" />
<line x1="201.2" y1="210.0915597839105" x2="202.5" y2="210.0915597839105" stroke="#8a8a8a" stroke-width="0.6" />
<line x1="201.2" y1="207.6802421673703" x2="202.5" y2="207.6802421673703" stroke="#8a8a8a" stroke-width="0.6" />
<line x1="201.2" y1="205.8098789163148" x2="202.5" y2="205.8098789163148" stroke="#8a8a8a" stroke-width="0.6" />
<line x1="201.2" y1="204.28168086759564" x2="202.5" y2="204.28168086759564" stroke="#8a8a8a" stroke-width="0.6" />
<line x1="201.2" y1="202.98960782772483" x2="202.5" y2="202.98960782772483" stroke="#8a8a8a" stroke-width="0.6" />
<line x1="201.2" y1="201.87036325105547" x2="202.5" y2="201.87036325105547" stroke="#8a8a8a" stroke-width="0.6" />
<line x1="201.2" y1="200.883119567821" x2="202.5" y2="200.883119567821" stroke="#8a8a8a" stroke-width="0.6" />
<line x1="200.3" y1="219.29999999999998" x2="202.5" y2="219.29999999999998" stroke="#444" stroke-width="0.9" />
<line x1="201.2" y1="232.79012108368514" x2="202.5" y2="232.79012108368514" stroke="#8a8a8a" stroke-width="0.6" />
<line x1="201.2" y1="229.3915597839105" x2="202.5" y2="229.3915597839105" stroke="#8a8a8a" stroke-width="0.6" />
<line x1="201.2" y1="226.9802421673703" x2="202.5" y2="226.9802421673703" stroke="#8a8a8a" stroke-width="0.6" />
<line x1="201.2" y1="225.1098789163148" x2="202.5" y2="225.1098789163148" stroke="#8a8a8a" stroke-width="0.6" />
<line x1="201.2" y1="223.58168086759565" x2="202.5" y2="223.58168086759565" stroke="#8a8a8a" stroke-width="0.6" />
<line x1="201.2" y1="222.28960782772484" x2="202.5" y2="222.28960782772484" stroke="#8a8a8a" stroke-width="0.6" />
<line x1="201.2" y1="221.17036325105548" x2="202.5" y2="221.17036325105548" stroke="#8a8a8a" stroke-width="0.6" />
<line x1="201.2" y1="220.18311956782102" x2="202.5" y2="220.18311956782102" stroke="#8a8a8a" stroke-width="0.6" />
<line x1="203.81975783262968" y1="238.5" x2="203.81975783262968" y2="239.8" stroke="#8a8a8a" stroke-width="0.6" />
<line x1="205.69012108368514" y1="238.5" x2="205.69012108368514" y2="239.8" stroke="#8a8a8a" stroke-width="0.6" />
<line x1="207.2183191324043" y1="238.5" x2="207.2183191324043" y2="239.8" stroke="#8a8a8a" stroke-width="0.6" />
<line x1="208.51039217227515" y1="238.5" x2="208.51039217227515" y2="239.8" stroke="#8a8a8a" stroke-width="0.6" />
<line x1="209.6296367489445" y1="238.5" x2="209.6296367489445" y2="239.8" stroke="#8a8a8a" stroke-width="0.6" />
<line x1="210.61688043217896" y1="238.5" x2="210.61688043217896" y2="239.8" stroke="#8a8a8a" stroke-width="0.6" />
<line x1="211.5" y1="238.5" x2="211.5" y2="240.7" stroke="#444" stroke-width="0.9" />
<line x1="217.30987891631483" y1="238.5" x2="217.30987891631483" y2="239.8" stroke="#8a8a8a" stroke-width="0.6" />
<line x1="220.70844021608949" y1="238.5" x2="220.70844021608949" y2="239.8" stroke="#8a8a8a" stroke-width="0.6" />
<line x1="223.1197578326297" y1="238.5" x2="223.1197578326297" y2="239.8" stroke="#8a8a8a" stroke-width="0.6" />
<line x1="224.99012108368515" y1="238.5" x2="224.99012108368515" y2="239.8" stroke="#8a8a8a" stroke-width="0.6" />
<line x1="226.51831913240432" y1="238.5" x2="226.51831913240432" y2="239.8" stroke="#8a8a8a" stroke-width="0.6" />
<line x1="227.81039217227516" y1="238.5" x2="227.81039217227516" y2="239.8" stroke="#8a8a8a" stroke-width="0.6" />
<line x1="228.92963674894452" y1="238.5" x2="228.92963674894452" y2="239.8" stroke="#8a8a8a" stroke-width="0.6" />
<line x1="229.91688043217897" y1="238.5" x2="229.91688043217897" y2="239.8" stroke="#8a8a8a" stroke-width="0.6" />
<line x1="230.8" y1="238.5" x2="230.8" y2="240.7" stroke="#444" stroke-width="0.9" />
<line x1="236.60987891631484" y1="238.5" x2="236.60987891631484" y2="239.8" stroke="#8a8a8a" stroke-width="0.6" />
<line x1="240.0084402160895" y1="238.5" x2="240.0084402160895" y2="239.8" stroke="#8a8a8a" stroke-width="0.6" />
<line x1="242.4197578326297" y1="238.5" x2="242.4197578326297" y2="239.8" stroke="#8a8a8a" stroke-width="0.6" />
<line x1="244.29012108368516" y1="238.5" x2="244.29012108368516" y2="239.8" stroke="#8a8a8a" stroke-width="0.6" />
<line x1="245.81831913240433" y1="238.5" x2="245.81831913240433" y2="239.8" stroke="#8a8a8a" stroke-width="0.6" />
<line x1="247.11039217227517" y1="238.5" x2="247.11039217227517" y2="239.8" stroke="#8a8a8a" stroke-width="0.6" />
<line x1="248.22963674894453" y1="238.5" x2="248.22963674894453" y2="239.8" stroke="#8a8a8a" stroke-width="0.6" />
<line x1="249.21688043217898" y1="238.5" x2="249.21688043217898" y2="239.8" stroke="#8a8a8a" stroke-width="0.6" />
<line x1="250.1" y1="238.5" x2="250.1" y2="240.7" stroke="#444" stroke-width="0.9" />
<line x1="255.90987891631482" y1="238.5" x2="255.90987891631482" y2="239.8" stroke="#8a8a8a" stroke-width="0.6" />
<line x1="259.3084402160895" y1="238.5" x2="259.3084402160895" y2="239.8" stroke="#8a8a8a" stroke-width="0.6" />
<line x1="261.7197578326297" y1="238.5" x2="261.7197578326297" y2="239.8" stroke="#8a8a8a" stroke-width="0.6" />
<line x1="263.5901210836852" y1="238.5" x2="263.5901210836852" y2="239.8" stroke="#8a8a8a" stroke-width="0.6" />
<line x1="265.11831913240434" y1="238.5" x2="265.11831913240434" y2="239.8" stroke="#8a8a8a" stroke-width="0.6" />
<line x1="266.4103921722751" y1="238.5" x2="266.4103921722751" y2="239.8" stroke="#8a8a8a" stroke-width="0.6" />
<line x1="267.5296367489445" y1="238.5" x2="267.5296367489445" y2="239.8" stroke="#8a8a8a" stroke-width="0.6" />
<line x1="268.51688043217894" y1="238.5" x2="268.51688043217894" y2="239.8" stroke="#8a8a8a" stroke-width="0.6" />
<line x1="269.4" y1="238.5" x2="269.4" y2="240.7" stroke="#444" stroke-width="0.9" />
<line x1="275.20987891631484" y1="238.5" x2="275.20987891631484" y2="239.8" stroke="#8a8a8a" stroke-width="0.6" />
<line x1="278.60844021608943" y1="238.5" x2="278.60844021608943" y2="239.8" stroke="#8a8a8a" stroke-width="0.6" />
<line x1="281.01975783262964" y1="238.5" x2="281.01975783262964" y2="239.8" stroke="#8a8a8a" stroke-width="0.6" />
<line x1="282.89012108368513" y1="238.5" x2="282.89012108368513" y2="239.8" stroke="#8a8a8a" stroke-width="0.6" />
<line x1="284.4183191324043" y1="238.5" x2="284.4183191324043" y2="239.8" stroke="#8a8a8a" stroke-width="0.6" />
<circle cx="201.5" cy="229.0" r="0.9" fill="#111"/>
<circle cx="212.1" cy="239.7" r="0.9" fill="#111"/>
<text x="61.5" y="152.5" font-size="12.3" text-anchor="middle" font-weight="normal" font-style="normal" fill="#111" stroke="#111" stroke-width="0.32" >DCB</text>
<text x="152.75" y="152.5" font-size="12.3" text-anchor="middle" font-weight="normal" font-style="normal" fill="#111" stroke="#111" stroke-width="0.32" >RES</text>
<text x="242.1" y="151.9" font-size="11.6" text-anchor="middle" font-weight="normal" font-style="normal" fill="#111" stroke="#111" stroke-width="0.32" >Healthy donor</text>
<text x="0" y="0" font-size="12.3" text-anchor="middle" font-weight="normal" font-style="normal" fill="#111" stroke="#111" stroke-width="0.32" transform="translate(14,197.5) rotate(-90)">CCR7</text>
<text x="152.5" y="253.3" font-size="12.3" text-anchor="middle" font-weight="normal" font-style="normal" fill="#111" stroke="#111" stroke-width="0.32" >CD45RA</text>
<text x="293.7" y="196.5" font-size="12.3" text-anchor="start" font-weight="normal" font-style="normal" fill="#111" stroke="#111" stroke-width="0.32" >CD8<tspan font-size="7.5" dy="-4.5">+</tspan></text>
<path d="M62,218 C63,213 68,210 73,208 C77,206.5 81,206 82.5,208.5 C84,211 84,215 83,218 Z" stroke="#aaa" stroke-width="0.5" fill="#ececec" />
<circle cx="62.5" cy="211.9" r="0.45" fill="#8a8a8a"/>
<circle cx="53.6" cy="210.1" r="0.45" fill="#8a8a8a"/>
<circle cx="42.3" cy="217.1" r="0.45" fill="#8a8a8a"/>
<circle cx="41.7" cy="218.0" r="0.45" fill="#8a8a8a"/>
<circle cx="73.6" cy="212.7" r="0.45" fill="#8a8a8a"/>
<circle cx="45.7" cy="217.6" r="0.45" fill="#8a8a8a"/>
<circle cx="56.6" cy="212.4" r="0.45" fill="#8a8a8a"/>
<circle cx="75.3" cy="212.3" r="0.45" fill="#8a8a8a"/>
<circle cx="64.8" cy="217.8" r="0.45" fill="#8a8a8a"/>
<circle cx="55.7" cy="217.5" r="0.45" fill="#8a8a8a"/>
<circle cx="61.8" cy="214.7" r="0.45" fill="#8a8a8a"/>
<circle cx="46.5" cy="217.2" r="0.45" fill="#8a8a8a"/>
<circle cx="73.7" cy="218.4" r="0.45" fill="#8a8a8a"/>
<circle cx="74.7" cy="208.5" r="0.45" fill="#8a8a8a"/>
<circle cx="81.6" cy="216.3" r="0.45" fill="#8a8a8a"/>
<circle cx="63.0" cy="214.6" r="0.45" fill="#8a8a8a"/>
<circle cx="69.3" cy="216.9" r="0.45" fill="#8a8a8a"/>
<circle cx="77.4" cy="215.5" r="0.45" fill="#8a8a8a"/>
<circle cx="65.3" cy="212.7" r="0.45" fill="#8a8a8a"/>
<circle cx="37.1" cy="211.9" r="0.45" fill="#8a8a8a"/>
<circle cx="68.1" cy="215.5" r="0.45" fill="#8a8a8a"/>
<circle cx="61.6" cy="215.7" r="0.45" fill="#8a8a8a"/>
<circle cx="46.1" cy="215.1" r="0.45" fill="#8a8a8a"/>
<circle cx="38.7" cy="215.4" r="0.45" fill="#8a8a8a"/>
<circle cx="67.4" cy="215.9" r="0.45" fill="#8a8a8a"/>
<circle cx="78.9" cy="217.8" r="0.45" fill="#8a8a8a"/>
<circle cx="74.2" cy="214.1" r="0.45" fill="#8a8a8a"/>
<circle cx="39.4" cy="216.5" r="0.45" fill="#8a8a8a"/>
<circle cx="48.0" cy="218.1" r="0.45" fill="#8a8a8a"/>
<circle cx="52.2" cy="209.3" r="0.45" fill="#8a8a8a"/>
<circle cx="69.6" cy="217.9" r="0.45" fill="#8a8a8a"/>
<circle cx="77.3" cy="214.4" r="0.45" fill="#8a8a8a"/>
<circle cx="80.6" cy="212.8" r="0.45" fill="#8a8a8a"/>
<circle cx="71.8" cy="216.6" r="0.45" fill="#8a8a8a"/>
<circle cx="74.9" cy="206.4" r="0.45" fill="#8a8a8a"/>
<circle cx="77.5" cy="215.9" r="0.45" fill="#8a8a8a"/>
<circle cx="72.6" cy="215.5" r="0.45" fill="#8a8a8a"/>
<circle cx="42.1" cy="218.3" r="0.45" fill="#8a8a8a"/>
<circle cx="40.7" cy="217.5" r="0.45" fill="#8a8a8a"/>
<circle cx="44.6" cy="215.4" r="0.45" fill="#8a8a8a"/>
<circle cx="69.9" cy="215.0" r="0.45" fill="#8a8a8a"/>
<circle cx="56.8" cy="213.8" r="0.45" fill="#8a8a8a"/>
<circle cx="51.3" cy="215.7" r="0.45" fill="#8a8a8a"/>
<circle cx="72.6" cy="216.2" r="0.45" fill="#8a8a8a"/>
<circle cx="70.8" cy="216.4" r="0.45" fill="#8a8a8a"/>
<circle cx="54.4" cy="215.1" r="0.45" fill="#8a8a8a"/>
<circle cx="65.0" cy="217.4" r="0.45" fill="#8a8a8a"/>
<circle cx="37.1" cy="217.4" r="0.45" fill="#8a8a8a"/>
<circle cx="73.8" cy="217.8" r="0.45" fill="#8a8a8a"/>
<circle cx="58.6" cy="217.5" r="0.45" fill="#8a8a8a"/>
<circle cx="46.8" cy="217.7" r="0.45" fill="#8a8a8a"/>
<circle cx="56.0" cy="217.7" r="0.45" fill="#8a8a8a"/>
<circle cx="38.3" cy="218.0" r="0.45" fill="#8a8a8a"/>
<circle cx="44.9" cy="215.5" r="0.45" fill="#8a8a8a"/>
<circle cx="39.8" cy="218.4" r="0.45" fill="#8a8a8a"/>
<circle cx="58.1" cy="216.1" r="0.45" fill="#8a8a8a"/>
<circle cx="70.1" cy="218.3" r="0.45" fill="#8a8a8a"/>
<circle cx="56.0" cy="216.2" r="0.45" fill="#8a8a8a"/>
<circle cx="47.3" cy="218.1" r="0.45" fill="#8a8a8a"/>
<circle cx="59.3" cy="217.7" r="0.45" fill="#8a8a8a"/>
<circle cx="66.3" cy="216.6" r="0.45" fill="#8a8a8a"/>
<circle cx="42.8" cy="218.3" r="0.45" fill="#8a8a8a"/>
<circle cx="71.2" cy="217.1" r="0.45" fill="#8a8a8a"/>
<circle cx="74.0" cy="215.7" r="0.45" fill="#8a8a8a"/>
<circle cx="80.8" cy="216.9" r="0.45" fill="#8a8a8a"/>
<circle cx="48.7" cy="217.1" r="0.45" fill="#8a8a8a"/>
<circle cx="75.3" cy="214.0" r="0.45" fill="#8a8a8a"/>
<circle cx="53.2" cy="218.1" r="0.45" fill="#8a8a8a"/>
<circle cx="64.8" cy="218.5" r="0.45" fill="#8a8a8a"/>
<circle cx="38.4" cy="218.1" r="0.45" fill="#8a8a8a"/>
<circle cx="45.0" cy="218.3" r="0.45" fill="#8a8a8a"/>
<circle cx="39.5" cy="213.7" r="0.45" fill="#8a8a8a"/>
<circle cx="79.3" cy="217.5" r="0.45" fill="#8a8a8a"/>
<circle cx="82.8" cy="215.6" r="0.45" fill="#8a8a8a"/>
<circle cx="74.8" cy="207.3" r="0.45" fill="#8a8a8a"/>
<circle cx="81.2" cy="218.3" r="0.45" fill="#8a8a8a"/>
<circle cx="51.3" cy="214.3" r="0.45" fill="#8a8a8a"/>
<circle cx="81.5" cy="218.1" r="0.45" fill="#8a8a8a"/>
<circle cx="50.8" cy="210.0" r="0.45" fill="#8a8a8a"/>
<circle cx="42.4" cy="216.3" r="0.45" fill="#8a8a8a"/>
<circle cx="52.7" cy="213.4" r="0.45" fill="#8a8a8a"/>
<circle cx="80.6" cy="217.6" r="0.45" fill="#8a8a8a"/>
<circle cx="71.8" cy="212.5" r="0.45" fill="#8a8a8a"/>
<circle cx="76.3" cy="214.9" r="0.45" fill="#8a8a8a"/>
<circle cx="80.4" cy="216.5" r="0.45" fill="#8a8a8a"/>
<circle cx="56.5" cy="217.3" r="0.45" fill="#8a8a8a"/>
<circle cx="73.6" cy="215.6" r="0.45" fill="#8a8a8a"/>
<circle cx="49.7" cy="217.7" r="0.45" fill="#8a8a8a"/>
<circle cx="70.9" cy="214.3" r="0.45" fill="#8a8a8a"/>
<circle cx="70.4" cy="216.3" r="0.45" fill="#8a8a8a"/>
<circle cx="59.9" cy="217.7" r="0.45" fill="#8a8a8a"/>
<circle cx="70.4" cy="218.4" r="0.45" fill="#8a8a8a"/>
<circle cx="58.9" cy="212.1" r="0.45" fill="#8a8a8a"/>
<circle cx="68.8" cy="218.0" r="0.45" fill="#8a8a8a"/>
<circle cx="48.1" cy="210.1" r="0.45" fill="#8a8a8a"/>
<circle cx="67.2" cy="209.0" r="0.45" fill="#8a8a8a"/>
<circle cx="78.0" cy="215.8" r="0.45" fill="#8a8a8a"/>
<circle cx="79.2" cy="212.6" r="0.45" fill="#8a8a8a"/>
<circle cx="52.7" cy="216.4" r="0.45" fill="#8a8a8a"/>
<circle cx="40.4" cy="216.2" r="0.45" fill="#8a8a8a"/>
<circle cx="81.9" cy="218.0" r="0.45" fill="#8a8a8a"/>
<circle cx="63.7" cy="218.0" r="0.45" fill="#8a8a8a"/>
<circle cx="40.8" cy="213.8" r="0.45" fill="#8a8a8a"/>
<circle cx="48.3" cy="218.3" r="0.45" fill="#8a8a8a"/>
<circle cx="44.2" cy="213.8" r="0.45" fill="#8a8a8a"/>
<circle cx="64.5" cy="218.4" r="0.45" fill="#8a8a8a"/>
<circle cx="47.3" cy="214.8" r="0.45" fill="#8a8a8a"/>
<circle cx="56.7" cy="211.7" r="0.45" fill="#8a8a8a"/>
<circle cx="65.4" cy="211.5" r="0.45" fill="#8a8a8a"/>
<circle cx="62.2" cy="217.6" r="0.45" fill="#8a8a8a"/>
<circle cx="45.3" cy="218.1" r="0.45" fill="#8a8a8a"/>
<circle cx="75.8" cy="218.0" r="0.45" fill="#8a8a8a"/>
<circle cx="41.0" cy="215.7" r="0.45" fill="#8a8a8a"/>
<circle cx="47.5" cy="210.5" r="0.45" fill="#8a8a8a"/>
<circle cx="65.9" cy="213.9" r="0.45" fill="#8a8a8a"/>
<circle cx="72.8" cy="209.3" r="0.45" fill="#8a8a8a"/>
<circle cx="53.3" cy="214.3" r="0.45" fill="#8a8a8a"/>
<circle cx="57.9" cy="218.0" r="0.45" fill="#8a8a8a"/>
<circle cx="76.3" cy="214.4" r="0.45" fill="#8a8a8a"/>
<circle cx="75.3" cy="217.5" r="0.45" fill="#8a8a8a"/>
<circle cx="62.3" cy="215.7" r="0.45" fill="#8a8a8a"/>
<circle cx="71.2" cy="218.1" r="0.45" fill="#8a8a8a"/>
<circle cx="53.3" cy="215.5" r="0.45" fill="#8a8a8a"/>
<circle cx="40.4" cy="214.9" r="0.45" fill="#8a8a8a"/>
<circle cx="71.6" cy="216.0" r="0.45" fill="#8a8a8a"/>
<circle cx="67.5" cy="214.3" r="0.45" fill="#8a8a8a"/>
<circle cx="47.1" cy="216.6" r="0.45" fill="#8a8a8a"/>
<circle cx="83.8" cy="216.7" r="0.45" fill="#8a8a8a"/>
<circle cx="57.2" cy="218.1" r="0.45" fill="#8a8a8a"/>
<circle cx="47.2" cy="217.7" r="0.45" fill="#8a8a8a"/>
<circle cx="80.8" cy="212.7" r="0.45" fill="#8a8a8a"/>
<circle cx="62.2" cy="216.1" r="0.45" fill="#8a8a8a"/>
<circle cx="81.6" cy="208.0" r="0.45" fill="#8a8a8a"/>
<circle cx="81.6" cy="215.5" r="0.45" fill="#8a8a8a"/>
<circle cx="73.4" cy="216.1" r="0.45" fill="#8a8a8a"/>
<circle cx="83.9" cy="207.1" r="0.45" fill="#8a8a8a"/>
<circle cx="45.7" cy="218.0" r="0.45" fill="#8a8a8a"/>
<circle cx="71.0" cy="216.9" r="0.45" fill="#8a8a8a"/>
<circle cx="61.4" cy="213.9" r="0.45" fill="#8a8a8a"/>
<circle cx="38.9" cy="212.3" r="0.45" fill="#8a8a8a"/>
<circle cx="50.0" cy="216.0" r="0.45" fill="#8a8a8a"/>
<circle cx="53.2" cy="212.4" r="0.45" fill="#8a8a8a"/>
<circle cx="72.1" cy="217.0" r="0.45" fill="#8a8a8a"/>
<circle cx="41.9" cy="216.9" r="0.45" fill="#8a8a8a"/>
<circle cx="56.3" cy="218.1" r="0.45" fill="#8a8a8a"/>
<circle cx="44.2" cy="212.0" r="0.45" fill="#8a8a8a"/>
<circle cx="83.0" cy="209.1" r="0.45" fill="#8a8a8a"/>
<circle cx="54.5" cy="217.7" r="0.45" fill="#8a8a8a"/>
<circle cx="51.7" cy="215.7" r="0.45" fill="#8a8a8a"/>
<circle cx="61.7" cy="215.0" r="0.45" fill="#8a8a8a"/>
<circle cx="53.9" cy="209.9" r="0.45" fill="#8a8a8a"/>
<circle cx="50.4" cy="215.7" r="0.45" fill="#8a8a8a"/>
<circle cx="78.7" cy="211.1" r="0.45" fill="#8a8a8a"/>
<circle cx="51.0" cy="217.2" r="0.45" fill="#8a8a8a"/>
<circle cx="74.9" cy="218.5" r="0.45" fill="#8a8a8a"/>
<circle cx="43.2" cy="215.1" r="0.45" fill="#8a8a8a"/>
<circle cx="62.2" cy="217.7" r="0.45" fill="#8a8a8a"/>
<circle cx="39.4" cy="217.5" r="0.45" fill="#8a8a8a"/>
<circle cx="73.2" cy="215.7" r="0.45" fill="#8a8a8a"/>
<circle cx="83.0" cy="211.6" r="0.45" fill="#8a8a8a"/>
<circle cx="83.0" cy="218.3" r="0.45" fill="#8a8a8a"/>
<circle cx="45.7" cy="218.4" r="0.45" fill="#8a8a8a"/>
<circle cx="57.3" cy="216.6" r="0.45" fill="#8a8a8a"/>
<circle cx="39.4" cy="214.9" r="0.45" fill="#8a8a8a"/>
<circle cx="41.4" cy="216.8" r="0.45" fill="#8a8a8a"/>
<circle cx="48.6" cy="211.2" r="0.45" fill="#8a8a8a"/>
<circle cx="56.7" cy="217.1" r="0.45" fill="#8a8a8a"/>
<circle cx="39.1" cy="216.0" r="0.45" fill="#8a8a8a"/>
<circle cx="66.5" cy="213.4" r="0.45" fill="#8a8a8a"/>
<circle cx="79.9" cy="211.1" r="0.45" fill="#8a8a8a"/>
<circle cx="48.6" cy="217.8" r="0.45" fill="#8a8a8a"/>
<circle cx="72.6" cy="211.5" r="0.45" fill="#8a8a8a"/>
<circle cx="60.9" cy="210.5" r="0.45" fill="#8a8a8a"/>
<circle cx="62.9" cy="217.0" r="0.45" fill="#8a8a8a"/>
<circle cx="44.9" cy="218.4" r="0.45" fill="#8a8a8a"/>
<circle cx="67.2" cy="208.3" r="0.45" fill="#8a8a8a"/>
<circle cx="79.6" cy="215.7" r="0.45" fill="#8a8a8a"/>
<circle cx="68.3" cy="206.6" r="0.45" fill="#8a8a8a"/>
<circle cx="75.3" cy="214.3" r="0.45" fill="#8a8a8a"/>
<circle cx="56.5" cy="215.2" r="0.45" fill="#8a8a8a"/>
<circle cx="45.0" cy="217.6" r="0.45" fill="#8a8a8a"/>
<circle cx="62.7" cy="216.1" r="0.45" fill="#8a8a8a"/>
<circle cx="53.5" cy="215.8" r="0.45" fill="#8a8a8a"/>
<circle cx="74.7" cy="215.8" r="0.45" fill="#8a8a8a"/>
<circle cx="82.1" cy="217.7" r="0.45" fill="#8a8a8a"/>
<circle cx="51.8" cy="215.2" r="0.45" fill="#8a8a8a"/>
<circle cx="56.4" cy="209.9" r="0.45" fill="#8a8a8a"/>
<circle cx="75.9" cy="206.4" r="0.45" fill="#8a8a8a"/>
<circle cx="65.8" cy="218.4" r="0.45" fill="#8a8a8a"/>
<circle cx="64.0" cy="214.9" r="0.45" fill="#8a8a8a"/>
<circle cx="59.9" cy="217.0" r="0.45" fill="#8a8a8a"/>
<circle cx="70.3" cy="207.6" r="0.45" fill="#8a8a8a"/>
<circle cx="41.8" cy="213.5" r="0.45" fill="#8a8a8a"/>
<circle cx="54.5" cy="215.2" r="0.45" fill="#8a8a8a"/>
<circle cx="67.2" cy="217.5" r="0.45" fill="#8a8a8a"/>
<circle cx="80.3" cy="217.6" r="0.45" fill="#8a8a8a"/>
<circle cx="55.0" cy="210.6" r="0.45" fill="#8a8a8a"/>
<circle cx="51.9" cy="217.1" r="0.45" fill="#8a8a8a"/>
<circle cx="81.6" cy="205.5" r="0.45" fill="#8a8a8a"/>
<circle cx="51.9" cy="216.3" r="0.45" fill="#8a8a8a"/>
<circle cx="50.3" cy="217.9" r="0.45" fill="#8a8a8a"/>
<circle cx="40.7" cy="217.3" r="0.45" fill="#8a8a8a"/>
<circle cx="46.4" cy="218.1" r="0.45" fill="#8a8a8a"/>
<circle cx="61.7" cy="212.4" r="0.45" fill="#8a8a8a"/>
<circle cx="76.4" cy="214.0" r="0.45" fill="#8a8a8a"/>
<circle cx="75.4" cy="218.5" r="0.45" fill="#8a8a8a"/>
<circle cx="40.3" cy="217.1" r="0.45" fill="#8a8a8a"/>
<circle cx="59.7" cy="217.1" r="0.45" fill="#8a8a8a"/>
<circle cx="62.7" cy="218.3" r="0.45" fill="#8a8a8a"/>
<circle cx="68.7" cy="213.8" r="0.45" fill="#8a8a8a"/>
<circle cx="43.7" cy="218.2" r="0.45" fill="#8a8a8a"/>
<circle cx="72.7" cy="217.6" r="0.45" fill="#8a8a8a"/>
<circle cx="45.9" cy="210.7" r="0.45" fill="#8a8a8a"/>
<circle cx="78.1" cy="218.3" r="0.45" fill="#8a8a8a"/>
<circle cx="82.2" cy="215.1" r="0.45" fill="#8a8a8a"/>
<circle cx="55.0" cy="218.0" r="0.45" fill="#8a8a8a"/>
<circle cx="50.2" cy="217.9" r="0.45" fill="#8a8a8a"/>
<circle cx="43.8" cy="217.9" r="0.45" fill="#8a8a8a"/>
<circle cx="40.6" cy="217.5" r="0.45" fill="#8a8a8a"/>
<circle cx="83.1" cy="217.2" r="0.45" fill="#8a8a8a"/>
<circle cx="59.8" cy="213.0" r="0.45" fill="#8a8a8a"/>
<circle cx="51.7" cy="218.4" r="0.45" fill="#8a8a8a"/>
<circle cx="53.2" cy="212.3" r="0.45" fill="#8a8a8a"/>
<circle cx="73.8" cy="214.7" r="0.45" fill="#8a8a8a"/>
<circle cx="58.8" cy="215.0" r="0.45" fill="#8a8a8a"/>
<circle cx="57.8" cy="215.1" r="0.45" fill="#8a8a8a"/>
<circle cx="76.1" cy="217.5" r="0.45" fill="#8a8a8a"/>
<circle cx="76.9" cy="217.6" r="0.45" fill="#8a8a8a"/>
<circle cx="82.3" cy="210.3" r="0.45" fill="#8a8a8a"/>
<circle cx="44.9" cy="217.1" r="0.45" fill="#8a8a8a"/>
<circle cx="46.5" cy="218.3" r="0.45" fill="#8a8a8a"/>
<circle cx="83.0" cy="216.1" r="0.45" fill="#8a8a8a"/>
<circle cx="78.0" cy="218.0" r="0.45" fill="#8a8a8a"/>
<circle cx="69.2" cy="215.1" r="0.45" fill="#8a8a8a"/>
<circle cx="73.0" cy="218.1" r="0.45" fill="#8a8a8a"/>
<circle cx="62.4" cy="215.9" r="0.45" fill="#8a8a8a"/>
<circle cx="43.9" cy="214.4" r="0.45" fill="#8a8a8a"/>
<circle cx="52.2" cy="215.3" r="0.45" fill="#8a8a8a"/>
<circle cx="54.6" cy="216.8" r="0.45" fill="#8a8a8a"/>
<circle cx="53.8" cy="214.4" r="0.45" fill="#8a8a8a"/>
<circle cx="83.1" cy="206.1" r="0.45" fill="#8a8a8a"/>
<circle cx="77.5" cy="210.4" r="0.45" fill="#8a8a8a"/>
<circle cx="49.7" cy="217.9" r="0.45" fill="#8a8a8a"/>
<circle cx="60.5" cy="212.6" r="0.45" fill="#8a8a8a"/>
<circle cx="53.0" cy="213.8" r="0.45" fill="#8a8a8a"/>
<circle cx="58.3" cy="215.6" r="0.45" fill="#8a8a8a"/>
<circle cx="62.0" cy="209.1" r="0.45" fill="#8a8a8a"/>
<circle cx="83.4" cy="215.1" r="0.45" fill="#8a8a8a"/>
<circle cx="57.8" cy="214.2" r="0.45" fill="#8a8a8a"/>
<circle cx="40.3" cy="216.0" r="0.45" fill="#8a8a8a"/>
<circle cx="76.8" cy="211.7" r="0.45" fill="#8a8a8a"/>
<circle cx="54.2" cy="217.4" r="0.45" fill="#8a8a8a"/>
<circle cx="62.8" cy="208.8" r="0.45" fill="#8a8a8a"/>
<circle cx="57.3" cy="209.4" r="0.45" fill="#8a8a8a"/>
<circle cx="70.4" cy="216.5" r="0.45" fill="#8a8a8a"/>
<circle cx="51.1" cy="215.3" r="0.45" fill="#8a8a8a"/>
<circle cx="55.8" cy="216.4" r="0.45" fill="#8a8a8a"/>
<circle cx="67.6" cy="209.1" r="0.45" fill="#8a8a8a"/>
<circle cx="64.5" cy="217.8" r="0.45" fill="#8a8a8a"/>
<circle cx="47.3" cy="216.4" r="0.45" fill="#8a8a8a"/>
<circle cx="65.9" cy="217.8" r="0.45" fill="#8a8a8a"/>
<circle cx="40.8" cy="216.8" r="0.45" fill="#8a8a8a"/>
<circle cx="50.3" cy="218.4" r="0.45" fill="#8a8a8a"/>
<circle cx="62.1" cy="212.5" r="0.45" fill="#8a8a8a"/>
<circle cx="75.9" cy="210.3" r="0.45" fill="#8a8a8a"/>
<circle cx="79.9" cy="215.9" r="0.45" fill="#8a8a8a"/>
<circle cx="69.1" cy="217.9" r="0.45" fill="#8a8a8a"/>
<circle cx="78.4" cy="216.4" r="0.45" fill="#8a8a8a"/>
<circle cx="59.3" cy="208.6" r="0.45" fill="#8a8a8a"/>
<circle cx="50.5" cy="217.6" r="0.45" fill="#8a8a8a"/>
<circle cx="75.7" cy="214.4" r="0.45" fill="#8a8a8a"/>
<circle cx="41.0" cy="218.4" r="0.45" fill="#8a8a8a"/>
<circle cx="53.5" cy="218.5" r="0.45" fill="#8a8a8a"/>
<circle cx="76.1" cy="217.6" r="0.45" fill="#8a8a8a"/>
<circle cx="49.9" cy="216.3" r="0.45" fill="#8a8a8a"/>
<circle cx="61.1" cy="216.0" r="0.45" fill="#8a8a8a"/>
<circle cx="66.5" cy="213.6" r="0.45" fill="#8a8a8a"/>
<circle cx="57.5" cy="218.0" r="0.45" fill="#8a8a8a"/>
<circle cx="83.0" cy="213.2" r="0.45" fill="#8a8a8a"/>
<circle cx="40.9" cy="215.9" r="0.45" fill="#8a8a8a"/>
<circle cx="40.1" cy="218.5" r="0.45" fill="#8a8a8a"/>
<circle cx="59.6" cy="216.0" r="0.45" fill="#8a8a8a"/>
<circle cx="79.0" cy="210.6" r="0.45" fill="#8a8a8a"/>
<circle cx="52.6" cy="216.1" r="0.45" fill="#8a8a8a"/>
<circle cx="64.4" cy="208.8" r="0.45" fill="#8a8a8a"/>
<circle cx="46.5" cy="216.3" r="0.45" fill="#8a8a8a"/>
<circle cx="41.2" cy="213.9" r="0.45" fill="#8a8a8a"/>
<circle cx="61.6" cy="214.7" r="0.45" fill="#8a8a8a"/>
<circle cx="41.0" cy="217.3" r="0.45" fill="#8a8a8a"/>
<circle cx="59.0" cy="209.7" r="0.45" fill="#8a8a8a"/>
<circle cx="62.3" cy="217.0" r="0.45" fill="#8a8a8a"/>
<circle cx="83.2" cy="213.6" r="0.45" fill="#8a8a8a"/>
<circle cx="61.8" cy="217.5" r="0.45" fill="#8a8a8a"/>
<circle cx="43.2" cy="215.1" r="0.45" fill="#8a8a8a"/>
<circle cx="66.1" cy="216.5" r="0.45" fill="#8a8a8a"/>
<circle cx="73.1" cy="207.7" r="0.45" fill="#8a8a8a"/>
<circle cx="77.3" cy="212.5" r="0.45" fill="#8a8a8a"/>
<circle cx="46.6" cy="218.2" r="0.45" fill="#8a8a8a"/>
<circle cx="57.3" cy="216.8" r="0.45" fill="#8a8a8a"/>
<circle cx="47.2" cy="210.7" r="0.45" fill="#8a8a8a"/>
<circle cx="81.1" cy="217.9" r="0.45" fill="#8a8a8a"/>
<circle cx="79.9" cy="216.2" r="0.45" fill="#8a8a8a"/>
<circle cx="47.0" cy="217.6" r="0.45" fill="#8a8a8a"/>
<circle cx="38.8" cy="215.4" r="0.45" fill="#8a8a8a"/>
<circle cx="55.1" cy="209.9" r="0.45" fill="#8a8a8a"/>
<circle cx="76.2" cy="218.2" r="0.45" fill="#8a8a8a"/>
<circle cx="55.9" cy="216.3" r="0.45" fill="#8a8a8a"/>
<circle cx="45.3" cy="217.2" r="0.45" fill="#8a8a8a"/>
<circle cx="49.4" cy="213.2" r="0.45" fill="#8a8a8a"/>
<circle cx="53.0" cy="218.0" r="0.45" fill="#8a8a8a"/>
<circle cx="47.4" cy="215.9" r="0.45" fill="#8a8a8a"/>
<circle cx="63.5" cy="217.2" r="0.45" fill="#8a8a8a"/>
<circle cx="69.9" cy="217.4" r="0.45" fill="#8a8a8a"/>
<circle cx="68.5" cy="214.3" r="0.45" fill="#8a8a8a"/>
<circle cx="45.3" cy="212.2" r="0.45" fill="#8a8a8a"/>
<circle cx="55.5" cy="215.0" r="0.45" fill="#8a8a8a"/>
<circle cx="65.1" cy="214.0" r="0.45" fill="#8a8a8a"/>
<circle cx="57.8" cy="218.2" r="0.45" fill="#8a8a8a"/>
<circle cx="74.0" cy="209.7" r="0.45" fill="#8a8a8a"/>
<circle cx="60.0" cy="214.6" r="0.45" fill="#8a8a8a"/>
<circle cx="69.2" cy="217.4" r="0.45" fill="#8a8a8a"/>
<circle cx="59.7" cy="217.6" r="0.45" fill="#8a8a8a"/>
<circle cx="70.7" cy="216.6" r="0.45" fill="#8a8a8a"/>
<circle cx="71.4" cy="214.6" r="0.45" fill="#8a8a8a"/>
<circle cx="42.1" cy="215.1" r="0.45" fill="#8a8a8a"/>
<circle cx="77.0" cy="215.6" r="0.45" fill="#8a8a8a"/>
<circle cx="62.3" cy="209.6" r="0.45" fill="#8a8a8a"/>
<circle cx="58.0" cy="215.4" r="0.45" fill="#8a8a8a"/>
<circle cx="64.4" cy="210.7" r="0.45" fill="#8a8a8a"/>
<circle cx="46.5" cy="218.1" r="0.45" fill="#8a8a8a"/>
<circle cx="72.0" cy="212.1" r="0.4" fill="#a0a0a0"/>
<circle cx="77.2" cy="212.3" r="0.4" fill="#a0a0a0"/>
<circle cx="81.5" cy="204.0" r="0.4" fill="#a0a0a0"/>
<circle cx="71.4" cy="215.7" r="0.4" fill="#a0a0a0"/>
<circle cx="40.5" cy="209.4" r="0.4" fill="#a0a0a0"/>
<circle cx="70.9" cy="215.0" r="0.4" fill="#a0a0a0"/>
<circle cx="60.1" cy="211.8" r="0.4" fill="#a0a0a0"/>
<circle cx="50.5" cy="208.9" r="0.4" fill="#a0a0a0"/>
<circle cx="63.6" cy="214.6" r="0.4" fill="#a0a0a0"/>
<circle cx="44.6" cy="212.0" r="0.4" fill="#a0a0a0"/>
<circle cx="53.4" cy="208.2" r="0.4" fill="#a0a0a0"/>
<circle cx="47.2" cy="214.5" r="0.4" fill="#a0a0a0"/>
<circle cx="48.2" cy="214.3" r="0.4" fill="#a0a0a0"/>
<circle cx="64.2" cy="217.6" r="0.4" fill="#a0a0a0"/>
<circle cx="42.3" cy="213.2" r="0.4" fill="#a0a0a0"/>
<circle cx="48.5" cy="212.9" r="0.4" fill="#a0a0a0"/>
<circle cx="47.0" cy="217.7" r="0.4" fill="#a0a0a0"/>
<circle cx="76.5" cy="212.7" r="0.4" fill="#a0a0a0"/>
<circle cx="56.7" cy="218.0" r="0.4" fill="#a0a0a0"/>
<circle cx="51.6" cy="215.5" r="0.4" fill="#a0a0a0"/>
<circle cx="79.5" cy="217.5" r="0.4" fill="#a0a0a0"/>
<circle cx="79.8" cy="213.3" r="0.4" fill="#a0a0a0"/>
<circle cx="58.2" cy="216.1" r="0.4" fill="#a0a0a0"/>
<circle cx="80.4" cy="216.9" r="0.4" fill="#a0a0a0"/>
<circle cx="64.0" cy="212.8" r="0.4" fill="#a0a0a0"/>
<circle cx="48.4" cy="216.5" r="0.4" fill="#a0a0a0"/>
<circle cx="81.4" cy="206.0" r="0.4" fill="#a0a0a0"/>
<circle cx="44.1" cy="208.8" r="0.4" fill="#a0a0a0"/>
<circle cx="71.5" cy="216.5" r="0.4" fill="#a0a0a0"/>
<circle cx="53.7" cy="207.0" r="0.4" fill="#a0a0a0"/>
<circle cx="46.9" cy="209.7" r="0.4" fill="#a0a0a0"/>
<circle cx="51.3" cy="212.8" r="0.4" fill="#a0a0a0"/>
<circle cx="55.6" cy="202.2" r="0.4" fill="#a0a0a0"/>
<circle cx="71.3" cy="212.9" r="0.4" fill="#a0a0a0"/>
<circle cx="68.9" cy="214.0" r="0.4" fill="#a0a0a0"/>
<circle cx="73.8" cy="216.1" r="0.4" fill="#a0a0a0"/>
<circle cx="62.9" cy="211.5" r="0.4" fill="#a0a0a0"/>
<circle cx="56.3" cy="218.1" r="0.4" fill="#a0a0a0"/>
<circle cx="47.1" cy="210.3" r="0.4" fill="#a0a0a0"/>
<circle cx="48.9" cy="207.1" r="0.4" fill="#a0a0a0"/>
<circle cx="75.6" cy="208.1" r="0.4" fill="#a0a0a0"/>
<circle cx="55.6" cy="218.1" r="0.4" fill="#a0a0a0"/>
<circle cx="63.4" cy="207.5" r="0.4" fill="#a0a0a0"/>
<circle cx="78.7" cy="216.7" r="0.4" fill="#a0a0a0"/>
<circle cx="71.1" cy="213.2" r="0.4" fill="#a0a0a0"/>
<circle cx="71.0" cy="217.2" r="0.4" fill="#a0a0a0"/>
<circle cx="62.8" cy="209.7" r="0.4" fill="#a0a0a0"/>
<circle cx="65.4" cy="217.1" r="0.4" fill="#a0a0a0"/>
<circle cx="45.7" cy="210.7" r="0.4" fill="#a0a0a0"/>
<circle cx="77.1" cy="217.3" r="0.4" fill="#a0a0a0"/>
<rect x="35.5" y="229" width="49" height="3.6" fill="#e2e2e2" stroke="none" stroke-width="1" />
<circle cx="35.9" cy="228.9" r="0.4" fill="#9a9a9a" fill-opacity="1"/>
<circle cx="74.4" cy="230.2" r="0.4" fill="#9a9a9a" fill-opacity="1"/>
<circle cx="58.1" cy="232.8" r="0.4" fill="#9a9a9a" fill-opacity="1"/>
<circle cx="65.8" cy="229.6" r="0.4" fill="#9a9a9a" fill-opacity="1"/>
<circle cx="70.2" cy="228.5" r="0.4" fill="#9a9a9a" fill-opacity="1"/>
<circle cx="49.4" cy="231.5" r="0.4" fill="#9a9a9a" fill-opacity="1"/>
<circle cx="44.0" cy="228.6" r="0.4" fill="#9a9a9a" fill-opacity="1"/>
<circle cx="61.2" cy="229.9" r="0.4" fill="#9a9a9a" fill-opacity="1"/>
<circle cx="83.6" cy="228.9" r="0.4" fill="#9a9a9a" fill-opacity="1"/>
<circle cx="75.2" cy="230.2" r="0.4" fill="#9a9a9a" fill-opacity="1"/>
<circle cx="75.4" cy="230.4" r="0.4" fill="#9a9a9a" fill-opacity="1"/>
<circle cx="68.5" cy="229.9" r="0.4" fill="#9a9a9a" fill-opacity="1"/>
<circle cx="46.6" cy="230.4" r="0.4" fill="#9a9a9a" fill-opacity="1"/>
<circle cx="75.1" cy="230.0" r="0.4" fill="#9a9a9a" fill-opacity="1"/>
<circle cx="46.9" cy="230.3" r="0.4" fill="#9a9a9a" fill-opacity="1"/>
<circle cx="40.2" cy="229.9" r="0.4" fill="#9a9a9a" fill-opacity="1"/>
<circle cx="63.9" cy="230.8" r="0.4" fill="#9a9a9a" fill-opacity="1"/>
<circle cx="65.1" cy="229.7" r="0.4" fill="#9a9a9a" fill-opacity="1"/>
<circle cx="36.7" cy="228.6" r="0.4" fill="#9a9a9a" fill-opacity="1"/>
<circle cx="52.3" cy="229.3" r="0.4" fill="#9a9a9a" fill-opacity="1"/>
<circle cx="63.7" cy="229.6" r="0.4" fill="#9a9a9a" fill-opacity="1"/>
<circle cx="73.2" cy="231.1" r="0.4" fill="#9a9a9a" fill-opacity="1"/>
<circle cx="68.3" cy="231.7" r="0.4" fill="#9a9a9a" fill-opacity="1"/>
<circle cx="61.3" cy="230.3" r="0.4" fill="#9a9a9a" fill-opacity="1"/>
<circle cx="50.8" cy="228.8" r="0.4" fill="#9a9a9a" fill-opacity="1"/>
<circle cx="74.8" cy="230.7" r="0.4" fill="#9a9a9a" fill-opacity="1"/>
<circle cx="40.4" cy="232.5" r="0.4" fill="#9a9a9a" fill-opacity="1"/>
<circle cx="64.3" cy="231.2" r="0.4" fill="#9a9a9a" fill-opacity="1"/>
<circle cx="57.2" cy="229.0" r="0.4" fill="#9a9a9a" fill-opacity="1"/>
<circle cx="85.0" cy="229.2" r="0.4" fill="#9a9a9a" fill-opacity="1"/>
<circle cx="53.6" cy="232.8" r="0.4" fill="#9a9a9a" fill-opacity="1"/>
<circle cx="41.5" cy="230.6" r="0.4" fill="#9a9a9a" fill-opacity="1"/>
<circle cx="59.2" cy="229.6" r="0.4" fill="#9a9a9a" fill-opacity="1"/>
<circle cx="81.3" cy="230.3" r="0.4" fill="#9a9a9a" fill-opacity="1"/>
<circle cx="36.1" cy="230.5" r="0.4" fill="#9a9a9a" fill-opacity="1"/>
<circle cx="35.7" cy="231.5" r="0.4" fill="#9a9a9a" fill-opacity="1"/>
<circle cx="78.5" cy="232.4" r="0.4" fill="#9a9a9a" fill-opacity="1"/>
<circle cx="37.9" cy="231.4" r="0.4" fill="#9a9a9a" fill-opacity="1"/>
<circle cx="50.6" cy="230.5" r="0.4" fill="#9a9a9a" fill-opacity="1"/>
<circle cx="50.4" cy="229.8" r="0.4" fill="#9a9a9a" fill-opacity="1"/>
<circle cx="42.1" cy="231.2" r="0.4" fill="#9a9a9a" fill-opacity="1"/>
<circle cx="39.9" cy="232.6" r="0.4" fill="#9a9a9a" fill-opacity="1"/>
<circle cx="37.7" cy="232.6" r="0.4" fill="#9a9a9a" fill-opacity="1"/>
<circle cx="45.0" cy="228.9" r="0.4" fill="#9a9a9a" fill-opacity="1"/>
<circle cx="72.4" cy="230.8" r="0.4" fill="#9a9a9a" fill-opacity="1"/>
<circle cx="73.6" cy="230.7" r="0.4" fill="#9a9a9a" fill-opacity="1"/>
<circle cx="66.7" cy="228.9" r="0.4" fill="#9a9a9a" fill-opacity="1"/>
<circle cx="68.9" cy="230.7" r="0.4" fill="#9a9a9a" fill-opacity="1"/>
<circle cx="83.1" cy="228.5" r="0.4" fill="#9a9a9a" fill-opacity="1"/>
<circle cx="38.9" cy="231.4" r="0.4" fill="#9a9a9a" fill-opacity="1"/>
<circle cx="81.3" cy="230.3" r="0.4" fill="#9a9a9a" fill-opacity="1"/>
<circle cx="70.7" cy="230.9" r="0.4" fill="#9a9a9a" fill-opacity="1"/>
<circle cx="54.8" cy="230.5" r="0.4" fill="#9a9a9a" fill-opacity="1"/>
<circle cx="65.3" cy="228.6" r="0.4" fill="#9a9a9a" fill-opacity="1"/>
<circle cx="50.6" cy="231.7" r="0.4" fill="#9a9a9a" fill-opacity="1"/>
<circle cx="48.3" cy="230.5" r="0.4" fill="#9a9a9a" fill-opacity="1"/>
<circle cx="48.2" cy="230.0" r="0.4" fill="#9a9a9a" fill-opacity="1"/>
<circle cx="67.7" cy="231.7" r="0.4" fill="#9a9a9a" fill-opacity="1"/>
<circle cx="82.9" cy="230.6" r="0.4" fill="#9a9a9a" fill-opacity="1"/>
<circle cx="45.5" cy="229.9" r="0.4" fill="#9a9a9a" fill-opacity="1"/>
<circle cx="38.4" cy="229.5" r="0.4" fill="#9a9a9a" fill-opacity="1"/>
<circle cx="64.4" cy="231.1" r="0.4" fill="#9a9a9a" fill-opacity="1"/>
<circle cx="47.5" cy="229.3" r="0.4" fill="#9a9a9a" fill-opacity="1"/>
<circle cx="40.4" cy="229.3" r="0.4" fill="#9a9a9a" fill-opacity="1"/>
<circle cx="60.3" cy="229.6" r="0.4" fill="#9a9a9a" fill-opacity="1"/>
<circle cx="79.2" cy="230.9" r="0.4" fill="#9a9a9a" fill-opacity="1"/>
<circle cx="52.3" cy="230.4" r="0.4" fill="#9a9a9a" fill-opacity="1"/>
<circle cx="37.5" cy="231.7" r="0.4" fill="#9a9a9a" fill-opacity="1"/>
<circle cx="72.7" cy="230.1" r="0.4" fill="#9a9a9a" fill-opacity="1"/>
<circle cx="71.4" cy="229.7" r="0.4" fill="#9a9a9a" fill-opacity="1"/>
<circle cx="46.4" cy="229.5" r="0.4" fill="#9a9a9a" fill-opacity="1"/>
<circle cx="45.2" cy="231.1" r="0.4" fill="#9a9a9a" fill-opacity="1"/>
<circle cx="67.3" cy="231.6" r="0.4" fill="#9a9a9a" fill-opacity="1"/>
<circle cx="40.6" cy="231.8" r="0.4" fill="#9a9a9a" fill-opacity="1"/>
<circle cx="59.2" cy="230.1" r="0.4" fill="#9a9a9a" fill-opacity="1"/>
<circle cx="60.4" cy="230.4" r="0.4" fill="#9a9a9a" fill-opacity="1"/>
<circle cx="45.4" cy="230.2" r="0.4" fill="#9a9a9a" fill-opacity="1"/>
<circle cx="67.5" cy="231.6" r="0.4" fill="#9a9a9a" fill-opacity="1"/>
<circle cx="80.8" cy="229.3" r="0.4" fill="#9a9a9a" fill-opacity="1"/>
<circle cx="79.6" cy="231.9" r="0.4" fill="#9a9a9a" fill-opacity="1"/>
<circle cx="70.8" cy="232.7" r="0.4" fill="#9a9a9a" fill-opacity="1"/>
<circle cx="42.3" cy="231.8" r="0.4" fill="#9a9a9a" fill-opacity="1"/>
<circle cx="80.0" cy="229.0" r="0.4" fill="#9a9a9a" fill-opacity="1"/>
<circle cx="64.9" cy="232.6" r="0.4" fill="#9a9a9a" fill-opacity="1"/>
<circle cx="50.0" cy="232.2" r="0.4" fill="#9a9a9a" fill-opacity="1"/>
<circle cx="80.4" cy="230.4" r="0.4" fill="#9a9a9a" fill-opacity="1"/>
<circle cx="42.7" cy="229.4" r="0.4" fill="#9a9a9a" fill-opacity="1"/>
<circle cx="76.6" cy="230.3" r="0.4" fill="#9a9a9a" fill-opacity="1"/>
<circle cx="51.1" cy="230.4" r="0.4" fill="#9a9a9a" fill-opacity="1"/>
<circle cx="81.4" cy="229.6" r="0.4" fill="#9a9a9a" fill-opacity="1"/>
<path d="M36.5,224.5 C36.5,217.5 44,218.6 58,218.6 C72,218.6 80.8,217.6 80.8,224.5 C80.8,231 72,230.8 58,230.8 C44,230.8 36.5,231.5 36.5,224.5 Z" stroke="#777" stroke-width="0.7" fill="#b8b8b8" />
<path d="M38.5,224.8 C38.5,220 46,220.3 58,220.3 C70,220.3 78.6,219.6 78.6,224.8 C78.6,229.6 70,229.6 58,229.6 C46,229.6 38.5,229.8 38.5,224.8 Z" stroke="#555" stroke-width="0.8" fill="#8c8c8c" />
<path d="M41,224.2 C41,221.6 48,221.9 58,221.9 C68,221.9 76,221.5 76,224.2 C76,227.2 68,227.6 58,227.6 C48,227.6 41,227.6 41,224.2 Z" stroke="#666" stroke-width="0.6" fill="#a8a8a8" />
<ellipse cx="45.5" cy="224.6" rx="4.2" ry="3.2" fill="none" stroke="#444" stroke-width="0.8" transform="rotate(0 45.5 224.6)" />
<ellipse cx="67" cy="224.8" rx="8" ry="2.8" fill="none" stroke="#555" stroke-width="0.7" transform="rotate(0 67 224.8)" />
<path d="M44,223.6 C48,222.7 54,223.2 60,223.2 C66,223.2 72,222.6 76,223.6 C72,225 66,224.9 60,224.9 C54,224.9 48,225 44,223.6 Z" stroke="none" stroke-width="1" fill="#f2f2f2" />
<circle cx="124.9" cy="207.1" r="0.45" fill="#8a8a8a"/>
<circle cx="140.2" cy="217.1" r="0.45" fill="#8a8a8a"/>
<circle cx="173.8" cy="217.7" r="0.45" fill="#8a8a8a"/>
<circle cx="128.4" cy="210.3" r="0.45" fill="#8a8a8a"/>
<circle cx="136.4" cy="218.0" r="0.45" fill="#8a8a8a"/>
<circle cx="171.8" cy="218.0" r="0.45" fill="#8a8a8a"/>
<circle cx="170.0" cy="217.4" r="0.45" fill="#8a8a8a"/>
<circle cx="139.5" cy="218.0" r="0.45" fill="#8a8a8a"/>
<circle cx="151.7" cy="215.7" r="0.45" fill="#8a8a8a"/>
<circle cx="144.3" cy="216.2" r="0.45" fill="#8a8a8a"/>
<circle cx="139.2" cy="211.7" r="0.45" fill="#8a8a8a"/>
<circle cx="171.6" cy="213.4" r="0.45" fill="#8a8a8a"/>
<circle cx="165.8" cy="218.7" r="0.45" fill="#8a8a8a"/>
<circle cx="136.8" cy="218.1" r="0.45" fill="#8a8a8a"/>
<circle cx="131.9" cy="205.2" r="0.45" fill="#8a8a8a"/>
<circle cx="170.2" cy="209.2" r="0.45" fill="#8a8a8a"/>
<circle cx="152.4" cy="218.5" r="0.45" fill="#8a8a8a"/>
<circle cx="145.8" cy="218.8" r="0.45" fill="#8a8a8a"/>
<circle cx="170.1" cy="217.8" r="0.45" fill="#8a8a8a"/>
<circle cx="138.7" cy="207.3" r="0.45" fill="#8a8a8a"/>
<circle cx="134.2" cy="208.8" r="0.45" fill="#8a8a8a"/>
<circle cx="139.9" cy="214.6" r="0.45" fill="#8a8a8a"/>
<circle cx="129.4" cy="209.9" r="0.45" fill="#8a8a8a"/>
<circle cx="144.3" cy="217.3" r="0.45" fill="#8a8a8a"/>
<circle cx="157.4" cy="215.4" r="0.45" fill="#8a8a8a"/>
<circle cx="136.8" cy="218.5" r="0.45" fill="#8a8a8a"/>
<circle cx="153.3" cy="218.9" r="0.45" fill="#8a8a8a"/>
<circle cx="168.4" cy="217.3" r="0.45" fill="#8a8a8a"/>
<circle cx="132.6" cy="217.4" r="0.45" fill="#8a8a8a"/>
<circle cx="129.8" cy="217.5" r="0.45" fill="#8a8a8a"/>
<circle cx="151.7" cy="216.9" r="0.45" fill="#8a8a8a"/>
<circle cx="141.0" cy="217.6" r="0.45" fill="#8a8a8a"/>
<circle cx="148.8" cy="213.0" r="0.45" fill="#8a8a8a"/>
<circle cx="146.3" cy="213.2" r="0.45" fill="#8a8a8a"/>
<circle cx="148.6" cy="218.5" r="0.45" fill="#8a8a8a"/>
<circle cx="132.7" cy="211.5" r="0.45" fill="#8a8a8a"/>
<circle cx="148.4" cy="217.1" r="0.45" fill="#8a8a8a"/>
<circle cx="150.3" cy="211.5" r="0.45" fill="#8a8a8a"/>
<circle cx="143.1" cy="217.2" r="0.45" fill="#8a8a8a"/>
<circle cx="142.7" cy="219.0" r="0.45" fill="#8a8a8a"/>
<circle cx="151.8" cy="216.4" r="0.45" fill="#8a8a8a"/>
<circle cx="149.3" cy="216.6" r="0.45" fill="#8a8a8a"/>
<circle cx="148.1" cy="214.0" r="0.45" fill="#8a8a8a"/>
<circle cx="129.8" cy="211.0" r="0.45" fill="#8a8a8a"/>
<circle cx="132.9" cy="212.7" r="0.45" fill="#8a8a8a"/>
<circle cx="137.3" cy="218.7" r="0.45" fill="#8a8a8a"/>
<circle cx="151.6" cy="211.7" r="0.45" fill="#8a8a8a"/>
<circle cx="167.1" cy="210.6" r="0.45" fill="#8a8a8a"/>
<circle cx="174.0" cy="218.8" r="0.45" fill="#8a8a8a"/>
<circle cx="143.3" cy="218.5" r="0.45" fill="#8a8a8a"/>
<circle cx="162.5" cy="216.6" r="0.45" fill="#8a8a8a"/>
<circle cx="161.9" cy="212.6" r="0.45" fill="#8a8a8a"/>
<circle cx="174.9" cy="214.5" r="0.45" fill="#8a8a8a"/>
<circle cx="168.6" cy="215.8" r="0.45" fill="#8a8a8a"/>
<circle cx="128.1" cy="210.1" r="0.45" fill="#8a8a8a"/>
<circle cx="128.6" cy="218.6" r="0.45" fill="#8a8a8a"/>
<circle cx="166.3" cy="217.7" r="0.45" fill="#8a8a8a"/>
<circle cx="157.8" cy="218.9" r="0.45" fill="#8a8a8a"/>
<circle cx="134.8" cy="214.0" r="0.45" fill="#8a8a8a"/>
<circle cx="125.9" cy="216.1" r="0.45" fill="#8a8a8a"/>
<circle cx="171.8" cy="218.0" r="0.45" fill="#8a8a8a"/>
<circle cx="159.9" cy="213.6" r="0.45" fill="#8a8a8a"/>
<circle cx="155.6" cy="213.2" r="0.45" fill="#8a8a8a"/>
<circle cx="159.6" cy="218.9" r="0.45" fill="#8a8a8a"/>
<circle cx="133.8" cy="215.9" r="0.45" fill="#8a8a8a"/>
<circle cx="173.5" cy="218.0" r="0.45" fill="#8a8a8a"/>
<circle cx="153.9" cy="218.5" r="0.45" fill="#8a8a8a"/>
<circle cx="167.2" cy="216.6" r="0.45" fill="#8a8a8a"/>
<circle cx="150.6" cy="214.6" r="0.45" fill="#8a8a8a"/>
<circle cx="131.0" cy="213.8" r="0.45" fill="#8a8a8a"/>
<circle cx="164.8" cy="211.1" r="0.45" fill="#8a8a8a"/>
<circle cx="138.4" cy="217.9" r="0.45" fill="#8a8a8a"/>
<circle cx="132.4" cy="209.8" r="0.45" fill="#8a8a8a"/>
<circle cx="146.3" cy="217.0" r="0.45" fill="#8a8a8a"/>
<circle cx="150.5" cy="214.2" r="0.45" fill="#8a8a8a"/>
<circle cx="140.2" cy="217.4" r="0.45" fill="#8a8a8a"/>
<circle cx="163.1" cy="213.0" r="0.45" fill="#8a8a8a"/>
<circle cx="139.1" cy="218.7" r="0.45" fill="#8a8a8a"/>
<circle cx="171.3" cy="213.8" r="0.45" fill="#8a8a8a"/>
<circle cx="154.3" cy="216.9" r="0.45" fill="#8a8a8a"/>
<circle cx="172.9" cy="216.7" r="0.45" fill="#8a8a8a"/>
<circle cx="135.0" cy="218.6" r="0.45" fill="#8a8a8a"/>
<circle cx="141.9" cy="215.3" r="0.45" fill="#8a8a8a"/>
<circle cx="142.6" cy="207.2" r="0.45" fill="#8a8a8a"/>
<circle cx="157.1" cy="216.5" r="0.45" fill="#8a8a8a"/>
<circle cx="157.7" cy="215.3" r="0.45" fill="#8a8a8a"/>
<circle cx="155.5" cy="216.3" r="0.45" fill="#8a8a8a"/>
<circle cx="150.7" cy="216.3" r="0.45" fill="#8a8a8a"/>
<circle cx="166.4" cy="218.1" r="0.45" fill="#8a8a8a"/>
<circle cx="164.1" cy="217.6" r="0.45" fill="#8a8a8a"/>
<circle cx="167.3" cy="218.7" r="0.45" fill="#8a8a8a"/>
<circle cx="148.7" cy="216.7" r="0.45" fill="#8a8a8a"/>
<circle cx="160.3" cy="218.1" r="0.45" fill="#8a8a8a"/>
<circle cx="137.4" cy="218.4" r="0.45" fill="#8a8a8a"/>
<circle cx="152.6" cy="215.6" r="0.45" fill="#8a8a8a"/>
<circle cx="124.0" cy="218.2" r="0.45" fill="#8a8a8a"/>
<circle cx="134.2" cy="206.4" r="0.45" fill="#8a8a8a"/>
<circle cx="147.2" cy="215.7" r="0.45" fill="#8a8a8a"/>
<circle cx="138.8" cy="214.7" r="0.45" fill="#8a8a8a"/>
<circle cx="165.5" cy="214.6" r="0.45" fill="#8a8a8a"/>
<circle cx="124.1" cy="216.7" r="0.45" fill="#8a8a8a"/>
<circle cx="148.9" cy="218.8" r="0.45" fill="#8a8a8a"/>
<circle cx="164.3" cy="217.5" r="0.45" fill="#8a8a8a"/>
<circle cx="139.0" cy="215.1" r="0.45" fill="#8a8a8a"/>
<circle cx="153.8" cy="216.3" r="0.45" fill="#8a8a8a"/>
<circle cx="167.8" cy="216.1" r="0.45" fill="#8a8a8a"/>
<circle cx="141.5" cy="218.7" r="0.45" fill="#8a8a8a"/>
<circle cx="152.2" cy="217.2" r="0.45" fill="#8a8a8a"/>
<circle cx="151.4" cy="217.3" r="0.45" fill="#8a8a8a"/>
<circle cx="124.4" cy="218.8" r="0.45" fill="#8a8a8a"/>
<circle cx="132.1" cy="218.6" r="0.45" fill="#8a8a8a"/>
<circle cx="167.4" cy="215.5" r="0.45" fill="#8a8a8a"/>
<circle cx="136.2" cy="214.0" r="0.45" fill="#8a8a8a"/>
<circle cx="156.4" cy="218.7" r="0.45" fill="#8a8a8a"/>
<circle cx="162.3" cy="218.0" r="0.45" fill="#8a8a8a"/>
<circle cx="174.9" cy="218.4" r="0.45" fill="#8a8a8a"/>
<circle cx="138.6" cy="217.9" r="0.45" fill="#8a8a8a"/>
<circle cx="168.0" cy="212.2" r="0.45" fill="#8a8a8a"/>
<circle cx="153.5" cy="218.4" r="0.45" fill="#8a8a8a"/>
<circle cx="145.9" cy="214.2" r="0.45" fill="#8a8a8a"/>
<circle cx="127.0" cy="208.9" r="0.45" fill="#8a8a8a"/>
<circle cx="166.9" cy="208.3" r="0.45" fill="#8a8a8a"/>
<circle cx="159.6" cy="215.2" r="0.45" fill="#8a8a8a"/>
<circle cx="173.7" cy="217.8" r="0.45" fill="#8a8a8a"/>
<circle cx="139.6" cy="218.5" r="0.45" fill="#8a8a8a"/>
<circle cx="133.2" cy="212.6" r="0.45" fill="#8a8a8a"/>
<circle cx="128.9" cy="213.5" r="0.45" fill="#8a8a8a"/>
<circle cx="144.2" cy="210.6" r="0.45" fill="#8a8a8a"/>
<circle cx="162.7" cy="214.4" r="0.45" fill="#8a8a8a"/>
<circle cx="167.1" cy="218.8" r="0.45" fill="#8a8a8a"/>
<circle cx="137.5" cy="217.2" r="0.45" fill="#8a8a8a"/>
<circle cx="145.9" cy="214.6" r="0.45" fill="#8a8a8a"/>
<circle cx="168.8" cy="213.6" r="0.45" fill="#8a8a8a"/>
<circle cx="171.4" cy="214.2" r="0.45" fill="#8a8a8a"/>
<circle cx="142.2" cy="216.2" r="0.45" fill="#8a8a8a"/>
<circle cx="162.2" cy="212.3" r="0.45" fill="#8a8a8a"/>
<circle cx="142.9" cy="217.2" r="0.45" fill="#8a8a8a"/>
<circle cx="155.3" cy="218.0" r="0.45" fill="#8a8a8a"/>
<circle cx="169.0" cy="219.0" r="0.45" fill="#8a8a8a"/>
<circle cx="157.1" cy="216.3" r="0.45" fill="#8a8a8a"/>
<circle cx="133.9" cy="215.6" r="0.45" fill="#8a8a8a"/>
<circle cx="148.2" cy="205.9" r="0.45" fill="#8a8a8a"/>
<circle cx="169.1" cy="215.5" r="0.45" fill="#8a8a8a"/>
<circle cx="168.4" cy="210.4" r="0.45" fill="#8a8a8a"/>
<circle cx="132.4" cy="212.0" r="0.45" fill="#8a8a8a"/>
<circle cx="162.7" cy="217.0" r="0.45" fill="#8a8a8a"/>
<circle cx="134.5" cy="214.8" r="0.45" fill="#8a8a8a"/>
<circle cx="134.7" cy="213.3" r="0.45" fill="#8a8a8a"/>
<circle cx="153.3" cy="212.0" r="0.45" fill="#8a8a8a"/>
<circle cx="142.2" cy="217.6" r="0.45" fill="#8a8a8a"/>
<circle cx="170.1" cy="214.7" r="0.45" fill="#8a8a8a"/>
<circle cx="143.3" cy="215.7" r="0.45" fill="#8a8a8a"/>
<circle cx="146.2" cy="214.9" r="0.45" fill="#8a8a8a"/>
<circle cx="150.4" cy="217.7" r="0.45" fill="#8a8a8a"/>
<circle cx="174.0" cy="210.3" r="0.45" fill="#8a8a8a"/>
<circle cx="162.7" cy="217.7" r="0.45" fill="#8a8a8a"/>
<circle cx="133.9" cy="213.7" r="0.45" fill="#8a8a8a"/>
<circle cx="165.9" cy="214.8" r="0.45" fill="#8a8a8a"/>
<circle cx="134.9" cy="213.9" r="0.45" fill="#8a8a8a"/>
<circle cx="150.7" cy="217.1" r="0.45" fill="#8a8a8a"/>
<circle cx="154.0" cy="216.6" r="0.45" fill="#8a8a8a"/>
<circle cx="157.1" cy="213.4" r="0.45" fill="#8a8a8a"/>
<circle cx="174.1" cy="218.5" r="0.45" fill="#8a8a8a"/>
<circle cx="153.1" cy="207.4" r="0.45" fill="#8a8a8a"/>
<circle cx="157.5" cy="215.5" r="0.45" fill="#8a8a8a"/>
<circle cx="167.5" cy="218.9" r="0.45" fill="#8a8a8a"/>
<circle cx="164.4" cy="215.1" r="0.45" fill="#8a8a8a"/>
<circle cx="153.8" cy="217.5" r="0.45" fill="#8a8a8a"/>
<circle cx="155.6" cy="218.5" r="0.45" fill="#8a8a8a"/>
<circle cx="150.8" cy="217.8" r="0.45" fill="#8a8a8a"/>
<circle cx="171.5" cy="212.5" r="0.45" fill="#8a8a8a"/>
<circle cx="148.1" cy="213.4" r="0.45" fill="#8a8a8a"/>
<circle cx="143.6" cy="216.0" r="0.45" fill="#8a8a8a"/>
<circle cx="132.2" cy="211.2" r="0.45" fill="#8a8a8a"/>
<circle cx="163.0" cy="213.3" r="0.45" fill="#8a8a8a"/>
<circle cx="128.2" cy="212.2" r="0.45" fill="#8a8a8a"/>
<circle cx="124.6" cy="215.7" r="0.45" fill="#8a8a8a"/>
<circle cx="148.9" cy="218.8" r="0.45" fill="#8a8a8a"/>
<circle cx="145.5" cy="210.3" r="0.45" fill="#8a8a8a"/>
<circle cx="155.8" cy="217.5" r="0.45" fill="#8a8a8a"/>
<circle cx="165.5" cy="217.2" r="0.45" fill="#8a8a8a"/>
<circle cx="169.8" cy="217.0" r="0.45" fill="#8a8a8a"/>
<circle cx="127.6" cy="217.8" r="0.45" fill="#8a8a8a"/>
<circle cx="163.3" cy="218.5" r="0.45" fill="#8a8a8a"/>
<circle cx="151.8" cy="211.2" r="0.45" fill="#8a8a8a"/>
<circle cx="154.1" cy="217.3" r="0.45" fill="#8a8a8a"/>
<circle cx="162.7" cy="212.0" r="0.45" fill="#8a8a8a"/>
<circle cx="153.5" cy="215.1" r="0.45" fill="#8a8a8a"/>
<circle cx="140.4" cy="216.9" r="0.45" fill="#8a8a8a"/>
<circle cx="124.1" cy="218.1" r="0.45" fill="#8a8a8a"/>
<circle cx="135.5" cy="212.7" r="0.45" fill="#8a8a8a"/>
<circle cx="134.2" cy="218.3" r="0.45" fill="#8a8a8a"/>
<circle cx="163.1" cy="218.3" r="0.45" fill="#8a8a8a"/>
<circle cx="173.8" cy="216.6" r="0.45" fill="#8a8a8a"/>
<circle cx="169.8" cy="212.1" r="0.45" fill="#8a8a8a"/>
<circle cx="134.6" cy="212.8" r="0.45" fill="#8a8a8a"/>
<circle cx="145.2" cy="218.0" r="0.45" fill="#8a8a8a"/>
<circle cx="126.3" cy="214.1" r="0.45" fill="#8a8a8a"/>
<circle cx="152.6" cy="217.6" r="0.45" fill="#8a8a8a"/>
<circle cx="166.5" cy="218.1" r="0.45" fill="#8a8a8a"/>
<circle cx="146.7" cy="218.6" r="0.45" fill="#8a8a8a"/>
<circle cx="141.9" cy="210.4" r="0.45" fill="#8a8a8a"/>
<circle cx="149.5" cy="218.3" r="0.45" fill="#8a8a8a"/>
<circle cx="136.1" cy="214.9" r="0.45" fill="#8a8a8a"/>
<circle cx="138.2" cy="210.3" r="0.45" fill="#8a8a8a"/>
<circle cx="127.1" cy="210.9" r="0.45" fill="#8a8a8a"/>
<circle cx="155.7" cy="212.1" r="0.45" fill="#8a8a8a"/>
<circle cx="142.1" cy="218.7" r="0.45" fill="#8a8a8a"/>
<circle cx="132.8" cy="215.1" r="0.45" fill="#8a8a8a"/>
<circle cx="125.3" cy="218.5" r="0.45" fill="#8a8a8a"/>
<circle cx="163.9" cy="210.6" r="0.45" fill="#8a8a8a"/>
<circle cx="167.7" cy="211.7" r="0.45" fill="#8a8a8a"/>
<circle cx="152.3" cy="210.7" r="0.45" fill="#8a8a8a"/>
<circle cx="159.6" cy="215.7" r="0.45" fill="#8a8a8a"/>
<circle cx="145.7" cy="218.9" r="0.45" fill="#8a8a8a"/>
<circle cx="128.6" cy="217.9" r="0.45" fill="#8a8a8a"/>
<circle cx="147.5" cy="218.5" r="0.45" fill="#8a8a8a"/>
<circle cx="173.5" cy="215.6" r="0.45" fill="#8a8a8a"/>
<circle cx="161.8" cy="210.1" r="0.45" fill="#8a8a8a"/>
<circle cx="135.5" cy="210.3" r="0.45" fill="#8a8a8a"/>
<circle cx="172.9" cy="217.8" r="0.45" fill="#8a8a8a"/>
<circle cx="130.4" cy="212.6" r="0.45" fill="#8a8a8a"/>
<circle cx="169.4" cy="212.6" r="0.45" fill="#8a8a8a"/>
<circle cx="144.8" cy="215.3" r="0.45" fill="#8a8a8a"/>
<circle cx="129.8" cy="217.9" r="0.45" fill="#8a8a8a"/>
<circle cx="145.4" cy="213.5" r="0.45" fill="#8a8a8a"/>
<circle cx="128.5" cy="208.5" r="0.45" fill="#8a8a8a"/>
<circle cx="125.5" cy="205.0" r="0.45" fill="#8a8a8a"/>
<circle cx="136.1" cy="212.2" r="0.45" fill="#8a8a8a"/>
<circle cx="165.7" cy="206.6" r="0.45" fill="#8a8a8a"/>
<circle cx="148.0" cy="214.2" r="0.45" fill="#8a8a8a"/>
<circle cx="138.9" cy="211.8" r="0.45" fill="#8a8a8a"/>
<circle cx="129.6" cy="210.4" r="0.45" fill="#8a8a8a"/>
<circle cx="154.2" cy="218.7" r="0.45" fill="#8a8a8a"/>
<circle cx="172.0" cy="217.5" r="0.45" fill="#8a8a8a"/>
<circle cx="127.5" cy="217.8" r="0.45" fill="#8a8a8a"/>
<circle cx="125.4" cy="217.7" r="0.45" fill="#8a8a8a"/>
<circle cx="156.2" cy="211.3" r="0.45" fill="#8a8a8a"/>
<circle cx="165.9" cy="214.0" r="0.45" fill="#8a8a8a"/>
<circle cx="143.6" cy="217.8" r="0.45" fill="#8a8a8a"/>
<circle cx="132.0" cy="215.8" r="0.45" fill="#8a8a8a"/>
<circle cx="134.4" cy="213.6" r="0.45" fill="#8a8a8a"/>
<circle cx="140.3" cy="215.5" r="0.45" fill="#8a8a8a"/>
<circle cx="151.9" cy="215.0" r="0.45" fill="#8a8a8a"/>
<circle cx="131.9" cy="217.8" r="0.45" fill="#8a8a8a"/>
<circle cx="159.1" cy="218.0" r="0.45" fill="#8a8a8a"/>
<circle cx="158.2" cy="205.6" r="0.45" fill="#8a8a8a"/>
<circle cx="143.8" cy="206.0" r="0.45" fill="#8a8a8a"/>
<circle cx="155.3" cy="207.4" r="0.45" fill="#8a8a8a"/>
<circle cx="150.8" cy="213.4" r="0.45" fill="#8a8a8a"/>
<circle cx="158.8" cy="218.1" r="0.45" fill="#8a8a8a"/>
<circle cx="150.4" cy="215.5" r="0.45" fill="#8a8a8a"/>
<circle cx="147.6" cy="214.7" r="0.45" fill="#8a8a8a"/>
<circle cx="170.4" cy="212.7" r="0.45" fill="#8a8a8a"/>
<circle cx="165.4" cy="218.4" r="0.45" fill="#8a8a8a"/>
<circle cx="159.9" cy="215.1" r="0.45" fill="#8a8a8a"/>
<circle cx="171.9" cy="219.0" r="0.45" fill="#8a8a8a"/>
<circle cx="143.0" cy="214.1" r="0.45" fill="#8a8a8a"/>
<circle cx="154.2" cy="217.0" r="0.45" fill="#8a8a8a"/>
<circle cx="146.4" cy="215.7" r="0.45" fill="#8a8a8a"/>
<circle cx="174.2" cy="212.9" r="0.4" fill="#a8a8a8"/>
<circle cx="164.3" cy="216.1" r="0.4" fill="#a8a8a8"/>
<circle cx="160.3" cy="211.6" r="0.4" fill="#a8a8a8"/>
<circle cx="161.9" cy="202.1" r="0.4" fill="#a8a8a8"/>
<circle cx="155.1" cy="216.6" r="0.4" fill="#a8a8a8"/>
<circle cx="147.7" cy="218.2" r="0.4" fill="#a8a8a8"/>
<circle cx="135.8" cy="204.4" r="0.4" fill="#a8a8a8"/>
<circle cx="160.3" cy="202.9" r="0.4" fill="#a8a8a8"/>
<circle cx="132.3" cy="218.1" r="0.4" fill="#a8a8a8"/>
<circle cx="143.3" cy="213.5" r="0.4" fill="#a8a8a8"/>
<circle cx="160.3" cy="216.2" r="0.4" fill="#a8a8a8"/>
<circle cx="161.6" cy="212.0" r="0.4" fill="#a8a8a8"/>
<circle cx="138.7" cy="206.6" r="0.4" fill="#a8a8a8"/>
<circle cx="127.8" cy="211.8" r="0.4" fill="#a8a8a8"/>
<circle cx="133.6" cy="218.7" r="0.4" fill="#a8a8a8"/>
<circle cx="148.4" cy="213.1" r="0.4" fill="#a8a8a8"/>
<circle cx="155.2" cy="215.2" r="0.4" fill="#a8a8a8"/>
<circle cx="171.4" cy="206.7" r="0.4" fill="#a8a8a8"/>
<circle cx="131.9" cy="219.0" r="0.4" fill="#a8a8a8"/>
<circle cx="173.0" cy="214.8" r="0.4" fill="#a8a8a8"/>
<circle cx="129.4" cy="217.4" r="0.4" fill="#a8a8a8"/>
<circle cx="159.7" cy="217.4" r="0.4" fill="#a8a8a8"/>
<circle cx="143.0" cy="210.0" r="0.4" fill="#a8a8a8"/>
<circle cx="142.0" cy="210.5" r="0.4" fill="#a8a8a8"/>
<circle cx="172.4" cy="206.4" r="0.4" fill="#a8a8a8"/>
<circle cx="156.0" cy="211.1" r="0.4" fill="#a8a8a8"/>
<circle cx="139.8" cy="210.8" r="0.4" fill="#a8a8a8"/>
<circle cx="157.1" cy="211.9" r="0.4" fill="#a8a8a8"/>
<circle cx="149.0" cy="207.9" r="0.4" fill="#a8a8a8"/>
<circle cx="134.4" cy="209.0" r="0.4" fill="#a8a8a8"/>
<ellipse cx="167" cy="211.5" rx="4.8" ry="4.6" fill="#e8e8e8" stroke="#999" stroke-width="0.6" transform="rotate(0 167 211.5)" />
<rect x="122" y="229.5" width="53" height="4.5" fill="#e0e0e0" stroke="none" stroke-width="1" />
<circle cx="174.3" cy="229.2" r="0.4" fill="#999" fill-opacity="1"/>
<circle cx="135.5" cy="234.4" r="0.4" fill="#999" fill-opacity="1"/>
<circle cx="126.4" cy="233.5" r="0.4" fill="#999" fill-opacity="1"/>
<circle cx="153.1" cy="229.4" r="0.4" fill="#999" fill-opacity="1"/>
<circle cx="155.7" cy="229.0" r="0.4" fill="#999" fill-opacity="1"/>
<circle cx="167.4" cy="230.7" r="0.4" fill="#999" fill-opacity="1"/>
<circle cx="171.4" cy="233.9" r="0.4" fill="#999" fill-opacity="1"/>
<circle cx="129.3" cy="231.2" r="0.4" fill="#999" fill-opacity="1"/>
<circle cx="130.2" cy="233.2" r="0.4" fill="#999" fill-opacity="1"/>
<circle cx="127.1" cy="229.4" r="0.4" fill="#999" fill-opacity="1"/>
<circle cx="128.2" cy="233.7" r="0.4" fill="#999" fill-opacity="1"/>
<circle cx="135.2" cy="230.8" r="0.4" fill="#999" fill-opacity="1"/>
<circle cx="145.9" cy="232.0" r="0.4" fill="#999" fill-opacity="1"/>
<circle cx="144.1" cy="234.2" r="0.4" fill="#999" fill-opacity="1"/>
<circle cx="140.2" cy="231.6" r="0.4" fill="#999" fill-opacity="1"/>
<circle cx="168.1" cy="230.3" r="0.4" fill="#999" fill-opacity="1"/>
<circle cx="131.3" cy="233.6" r="0.4" fill="#999" fill-opacity="1"/>
<circle cx="138.9" cy="233.9" r="0.4" fill="#999" fill-opacity="1"/>
<circle cx="166.0" cy="231.1" r="0.4" fill="#999" fill-opacity="1"/>
<circle cx="139.8" cy="229.6" r="0.4" fill="#999" fill-opacity="1"/>
<circle cx="168.7" cy="231.4" r="0.4" fill="#999" fill-opacity="1"/>
<circle cx="140.3" cy="230.0" r="0.4" fill="#999" fill-opacity="1"/>
<circle cx="134.1" cy="233.8" r="0.4" fill="#999" fill-opacity="1"/>
<circle cx="129.0" cy="232.1" r="0.4" fill="#999" fill-opacity="1"/>
<circle cx="155.4" cy="231.9" r="0.4" fill="#999" fill-opacity="1"/>
<circle cx="148.9" cy="231.2" r="0.4" fill="#999" fill-opacity="1"/>
<circle cx="132.3" cy="233.5" r="0.4" fill="#999" fill-opacity="1"/>
<circle cx="170.0" cy="232.1" r="0.4" fill="#999" fill-opacity="1"/>
<circle cx="135.5" cy="234.0" r="0.4" fill="#999" fill-opacity="1"/>
<circle cx="132.8" cy="229.9" r="0.4" fill="#999" fill-opacity="1"/>
<circle cx="155.5" cy="233.6" r="0.4" fill="#999" fill-opacity="1"/>
<circle cx="152.6" cy="229.6" r="0.4" fill="#999" fill-opacity="1"/>
<circle cx="174.4" cy="229.9" r="0.4" fill="#999" fill-opacity="1"/>
<circle cx="140.4" cy="234.4" r="0.4" fill="#999" fill-opacity="1"/>
<circle cx="164.4" cy="233.2" r="0.4" fill="#999" fill-opacity="1"/>
<circle cx="126.1" cy="233.7" r="0.4" fill="#999" fill-opacity="1"/>
<circle cx="143.4" cy="229.1" r="0.4" fill="#999" fill-opacity="1"/>
<circle cx="164.2" cy="234.1" r="0.4" fill="#999" fill-opacity="1"/>
<circle cx="124.5" cy="231.5" r="0.4" fill="#999" fill-opacity="1"/>
<circle cx="170.2" cy="230.8" r="0.4" fill="#999" fill-opacity="1"/>
<circle cx="138.2" cy="233.3" r="0.4" fill="#999" fill-opacity="1"/>
<circle cx="145.6" cy="234.5" r="0.4" fill="#999" fill-opacity="1"/>
<circle cx="167.8" cy="233.7" r="0.4" fill="#999" fill-opacity="1"/>
<circle cx="159.8" cy="230.1" r="0.4" fill="#999" fill-opacity="1"/>
<circle cx="158.8" cy="232.2" r="0.4" fill="#999" fill-opacity="1"/>
<circle cx="147.8" cy="232.1" r="0.4" fill="#999" fill-opacity="1"/>
<circle cx="138.3" cy="230.1" r="0.4" fill="#999" fill-opacity="1"/>
<circle cx="170.8" cy="231.0" r="0.4" fill="#999" fill-opacity="1"/>
<circle cx="127.7" cy="234.4" r="0.4" fill="#999" fill-opacity="1"/>
<circle cx="149.3" cy="232.7" r="0.4" fill="#999" fill-opacity="1"/>
<circle cx="140.1" cy="229.8" r="0.4" fill="#999" fill-opacity="1"/>
<circle cx="139.8" cy="233.6" r="0.4" fill="#999" fill-opacity="1"/>
<circle cx="136.7" cy="234.0" r="0.4" fill="#999" fill-opacity="1"/>
<circle cx="138.3" cy="233.9" r="0.4" fill="#999" fill-opacity="1"/>
<circle cx="131.6" cy="231.4" r="0.4" fill="#999" fill-opacity="1"/>
<circle cx="128.9" cy="229.8" r="0.4" fill="#999" fill-opacity="1"/>
<circle cx="150.0" cy="231.0" r="0.4" fill="#999" fill-opacity="1"/>
<circle cx="150.8" cy="230.2" r="0.4" fill="#999" fill-opacity="1"/>
<circle cx="138.6" cy="230.8" r="0.4" fill="#999" fill-opacity="1"/>
<circle cx="170.1" cy="229.4" r="0.4" fill="#999" fill-opacity="1"/>
<circle cx="144.3" cy="233.7" r="0.4" fill="#999" fill-opacity="1"/>
<circle cx="152.6" cy="230.4" r="0.4" fill="#999" fill-opacity="1"/>
<circle cx="175.4" cy="229.6" r="0.4" fill="#999" fill-opacity="1"/>
<circle cx="129.3" cy="229.1" r="0.4" fill="#999" fill-opacity="1"/>
<circle cx="145.5" cy="233.7" r="0.4" fill="#999" fill-opacity="1"/>
<circle cx="137.1" cy="230.6" r="0.4" fill="#999" fill-opacity="1"/>
<circle cx="164.7" cy="229.4" r="0.4" fill="#999" fill-opacity="1"/>
<circle cx="122.9" cy="232.6" r="0.4" fill="#999" fill-opacity="1"/>
<circle cx="126.7" cy="231.9" r="0.4" fill="#999" fill-opacity="1"/>
<circle cx="129.7" cy="232.3" r="0.4" fill="#999" fill-opacity="1"/>
<circle cx="167.5" cy="231.5" r="0.4" fill="#999" fill-opacity="1"/>
<circle cx="136.6" cy="232.4" r="0.4" fill="#999" fill-opacity="1"/>
<circle cx="159.5" cy="229.3" r="0.4" fill="#999" fill-opacity="1"/>
<circle cx="134.8" cy="231.1" r="0.4" fill="#999" fill-opacity="1"/>
<circle cx="149.1" cy="230.5" r="0.4" fill="#999" fill-opacity="1"/>
<circle cx="157.2" cy="230.4" r="0.4" fill="#999" fill-opacity="1"/>
<circle cx="170.4" cy="230.9" r="0.4" fill="#999" fill-opacity="1"/>
<circle cx="133.9" cy="229.4" r="0.4" fill="#999" fill-opacity="1"/>
<circle cx="128.8" cy="230.2" r="0.4" fill="#999" fill-opacity="1"/>
<circle cx="169.2" cy="231.3" r="0.4" fill="#999" fill-opacity="1"/>
<circle cx="145.7" cy="234.3" r="0.4" fill="#999" fill-opacity="1"/>
<circle cx="173.7" cy="233.2" r="0.4" fill="#999" fill-opacity="1"/>
<circle cx="134.9" cy="230.8" r="0.4" fill="#999" fill-opacity="1"/>
<circle cx="149.0" cy="230.4" r="0.4" fill="#999" fill-opacity="1"/>
<circle cx="140.6" cy="230.2" r="0.4" fill="#999" fill-opacity="1"/>
<circle cx="134.9" cy="233.1" r="0.4" fill="#999" fill-opacity="1"/>
<circle cx="154.3" cy="231.5" r="0.4" fill="#999" fill-opacity="1"/>
<circle cx="147.2" cy="232.4" r="0.4" fill="#999" fill-opacity="1"/>
<circle cx="158.6" cy="229.1" r="0.4" fill="#999" fill-opacity="1"/>
<circle cx="167.1" cy="231.5" r="0.4" fill="#999" fill-opacity="1"/>
<path d="M129.4,218.9 A6.6,6.6 0 1 0 134.8,229.6 L170,228 A4.2,4.2 0 1 0 170,220.4 L134.8,221.6 A6.6,6.6 0 0 0 129.4,218.9 Z" stroke="#444" stroke-width="0.9" fill="#a6a6a6" />
<path d="M129.4,221.1 A4.5,4.5 0 1 0 133.2,227.6 L170,226.3 A2.3,2.3 0 1 0 170,222.3 L133.2,223.3 A4.5,4.5 0 0 0 129.4,221.1 Z" stroke="#666" stroke-width="0.6" fill="#d0d0d0" />
<ellipse cx="129.2" cy="225.3" rx="1.4" ry="1.4" fill="#fafafa" stroke="none" stroke-width="0.6" transform="rotate(0 129.2 225.3)" />
<ellipse cx="170.4" cy="224.3" rx="1.1" ry="1.1" fill="#fafafa" stroke="none" stroke-width="0.6" transform="rotate(0 170.4 224.3)" />
<circle cx="231.1" cy="225.4" r="0.35" fill="#aaa" fill-opacity="1"/>
<circle cx="250.6" cy="216.9" r="0.35" fill="#aaa" fill-opacity="1"/>
<circle cx="216.2" cy="218.1" r="0.35" fill="#aaa" fill-opacity="1"/>
<circle cx="235.7" cy="217.2" r="0.35" fill="#aaa" fill-opacity="1"/>
<circle cx="219.6" cy="220.1" r="0.35" fill="#aaa" fill-opacity="1"/>
<circle cx="227.0" cy="222.7" r="0.35" fill="#aaa" fill-opacity="1"/>
<circle cx="239.8" cy="216.1" r="0.35" fill="#aaa" fill-opacity="1"/>
<circle cx="253.8" cy="218.3" r="0.35" fill="#aaa" fill-opacity="1"/>
<circle cx="219.0" cy="215.9" r="0.35" fill="#aaa" fill-opacity="1"/>
<circle cx="217.5" cy="218.0" r="0.35" fill="#aaa" fill-opacity="1"/>
<circle cx="257.7" cy="225.2" r="0.35" fill="#aaa" fill-opacity="1"/>
<circle cx="245.6" cy="214.2" r="0.35" fill="#aaa" fill-opacity="1"/>
<circle cx="226.3" cy="214.8" r="0.35" fill="#aaa" fill-opacity="1"/>
<circle cx="232.5" cy="220.9" r="0.35" fill="#aaa" fill-opacity="1"/>
<circle cx="216.0" cy="218.9" r="0.35" fill="#aaa" fill-opacity="1"/>
<circle cx="235.0" cy="221.3" r="0.35" fill="#aaa" fill-opacity="1"/>
<circle cx="253.8" cy="217.6" r="0.35" fill="#aaa" fill-opacity="1"/>
<circle cx="243.3" cy="215.8" r="0.35" fill="#aaa" fill-opacity="1"/>
<circle cx="236.4" cy="220.9" r="0.35" fill="#aaa" fill-opacity="1"/>
<circle cx="217.5" cy="219.2" r="0.35" fill="#aaa" fill-opacity="1"/>
<circle cx="238.6" cy="214.6" r="0.35" fill="#aaa" fill-opacity="1"/>
<circle cx="226.7" cy="223.5" r="0.35" fill="#aaa" fill-opacity="1"/>
<circle cx="231.4" cy="214.7" r="0.35" fill="#aaa" fill-opacity="1"/>
<circle cx="228.4" cy="219.3" r="0.35" fill="#aaa" fill-opacity="1"/>
<circle cx="233.7" cy="216.9" r="0.35" fill="#aaa" fill-opacity="1"/>
<circle cx="230.2" cy="215.0" r="0.35" fill="#aaa" fill-opacity="1"/>
<circle cx="238.7" cy="220.4" r="0.35" fill="#aaa" fill-opacity="1"/>
<circle cx="219.2" cy="220.3" r="0.35" fill="#aaa" fill-opacity="1"/>
<circle cx="229.5" cy="225.7" r="0.35" fill="#aaa" fill-opacity="1"/>
<circle cx="259.1" cy="213.8" r="0.35" fill="#aaa" fill-opacity="1"/>
<circle cx="247.7" cy="216.8" r="0.35" fill="#aaa" fill-opacity="1"/>
<circle cx="220.2" cy="224.3" r="0.35" fill="#aaa" fill-opacity="1"/>
<circle cx="257.7" cy="223.0" r="0.35" fill="#aaa" fill-opacity="1"/>
<circle cx="244.9" cy="225.7" r="0.35" fill="#aaa" fill-opacity="1"/>
<circle cx="241.1" cy="221.5" r="0.35" fill="#aaa" fill-opacity="1"/>
<circle cx="245.7" cy="224.0" r="0.35" fill="#aaa" fill-opacity="1"/>
<circle cx="255.2" cy="216.3" r="0.35" fill="#aaa" fill-opacity="1"/>
<circle cx="224.8" cy="219.6" r="0.35" fill="#aaa" fill-opacity="1"/>
<circle cx="242.7" cy="216.9" r="0.35" fill="#aaa" fill-opacity="1"/>
<circle cx="255.5" cy="223.9" r="0.35" fill="#aaa" fill-opacity="1"/>
<circle cx="247.3" cy="219.5" r="0.35" fill="#aaa" fill-opacity="1"/>
<circle cx="247.7" cy="214.7" r="0.35" fill="#aaa" fill-opacity="1"/>
<circle cx="253.0" cy="213.8" r="0.35" fill="#aaa" fill-opacity="1"/>
<circle cx="257.5" cy="220.8" r="0.35" fill="#aaa" fill-opacity="1"/>
<circle cx="228.0" cy="214.7" r="0.35" fill="#aaa" fill-opacity="1"/>
<circle cx="243.2" cy="218.5" r="0.35" fill="#aaa" fill-opacity="1"/>
<circle cx="247.7" cy="213.4" r="0.35" fill="#aaa" fill-opacity="1"/>
<circle cx="256.1" cy="218.0" r="0.35" fill="#aaa" fill-opacity="1"/>
<circle cx="235.7" cy="222.3" r="0.35" fill="#aaa" fill-opacity="1"/>
<circle cx="243.5" cy="218.2" r="0.35" fill="#aaa" fill-opacity="1"/>
<path d="M217,227 C217,222 228,221.5 240,220.5 C244,214 247,207.5 255.5,207.5 C262.5,207.5 263.5,214 262,218 C259.5,223.5 252,224 246,224.5 C238,229.5 232,231 226,231 C220,231 217,230 217,227 Z" stroke="#999" stroke-width="0.5" fill="#d4d4d4" />
<ellipse cx="254.8" cy="215.4" rx="6.6" ry="9.2" fill="#bcbcbc" stroke="#6a6a6a" stroke-width="0.9" transform="rotate(40 254.8 215.4)" />
<ellipse cx="255.2" cy="215.6" rx="4.4" ry="6.4" fill="#cccccc" stroke="#888" stroke-width="0.6" transform="rotate(40 255.2 215.6)" />
<ellipse cx="255.4" cy="216" rx="1.6" ry="2.4" fill="#f2f2f2" stroke="none" stroke-width="0.6" transform="rotate(40 255.4 216)" />
<ellipse cx="226" cy="226.5" rx="8" ry="3" fill="#c4c4c4" stroke="none" stroke-width="0.6" transform="rotate(0 226 226.5)" />
<ellipse cx="226" cy="226.3" rx="5" ry="1.2" fill="#e4e4e4" stroke="none" stroke-width="0.6" transform="rotate(0 226 226.3)" />
<rect x="34.4" y="217.5" width="51.4" height="15.6" fill="none" stroke="#777" stroke-width="0.75" />
<rect x="121.2" y="218.1" width="54.6" height="16.9" fill="none" stroke="#777" stroke-width="0.75" />
<rect x="215" y="221.1" width="49.4" height="14.1" fill="none" stroke="#777" stroke-width="0.75" />
<text x="88.6" y="230.1" font-size="12.3" text-anchor="start" font-weight="normal" font-style="normal" fill="#111" stroke="#111" stroke-width="0.32" >86</text>
<text x="179.5" y="232.6" font-size="12.3" text-anchor="start" font-weight="normal" font-style="normal" fill="#111" stroke="#111" stroke-width="0.32" >89</text>
<text x="268.5" y="232.8" font-size="12.3" text-anchor="start" font-weight="normal" font-style="normal" fill="#111" stroke="#111" stroke-width="0.32" >40</text>
<text x="1.8" y="271.1" font-size="15.2" text-anchor="start" font-weight="bold" font-style="normal" fill="#111" stroke="#111" stroke-width="0.3" >C</text>
<line x1="36.1" y1="285.4" x2="36.1" y2="401.6" stroke="#222" stroke-width="1.3" />
<line x1="35.5" y1="401" x2="266" y2="401" stroke="#222" stroke-width="1.3" />
<line x1="31.4" y1="401.0" x2="36.1" y2="401.0" stroke="#222" stroke-width="1.3" />
<text x="29.0" y="405.1" font-size="11.7" text-anchor="end" font-weight="normal" font-style="normal" fill="#111" stroke="#111" stroke-width="0.32" >0</text>
<line x1="31.4" y1="378.0" x2="36.1" y2="378.0" stroke="#222" stroke-width="1.3" />
<text x="29.0" y="382.1" font-size="11.7" text-anchor="end" font-weight="normal" font-style="normal" fill="#111" stroke="#111" stroke-width="0.32" >20</text>
<line x1="31.4" y1="355.0" x2="36.1" y2="355.0" stroke="#222" stroke-width="1.3" />
<text x="29.0" y="359.1" font-size="11.7" text-anchor="end" font-weight="normal" font-style="normal" fill="#111" stroke="#111" stroke-width="0.32" >40</text>
<line x1="31.4" y1="332.0" x2="36.1" y2="332.0" stroke="#222" stroke-width="1.3" />
<text x="29.0" y="336.1" font-size="11.7" text-anchor="end" font-weight="normal" font-style="normal" fill="#111" stroke="#111" stroke-width="0.32" >60</text>
<line x1="31.4" y1="309.0" x2="36.1" y2="309.0" stroke="#222" stroke-width="1.3" />
<text x="29.0" y="313.1" font-size="11.7" text-anchor="end" font-weight="normal" font-style="normal" fill="#111" stroke="#111" stroke-width="0.32" >80</text>
<line x1="31.4" y1="286.0" x2="36.1" y2="286.0" stroke="#222" stroke-width="1.3" />
<text x="29.0" y="290.1" font-size="11.7" text-anchor="end" font-weight="normal" font-style="normal" fill="#111" stroke="#111" stroke-width="0.32" >100</text>
<text x="0" y="0" font-size="12.3" text-anchor="middle" font-weight="normal" font-style="normal" fill="#111" stroke="#111" stroke-width="0.32" transform="translate(10,343) rotate(-90)">%</text>
<rect x="45.5" y="288.6" width="12.6" height="8.2" fill="#2e3192" stroke="#1a1a3a" stroke-width="1" />
<rect x="45.5" y="305.5" width="12.6" height="8" fill="#ee3124" stroke="#3a1a1a" stroke-width="1" />
<text x="61.3" y="296.7" font-size="12.3" text-anchor="start" font-weight="normal" font-style="normal" fill="#111" stroke="#111" stroke-width="0.32" >DCB</text>
<text x="61.5" y="313.6" font-size="12.3" text-anchor="start" font-weight="normal" font-style="normal" fill="#111" stroke="#111" stroke-width="0.32" >RES</text>
<text x="122" y="288.8" font-size="12.3" text-anchor="start" font-weight="normal" font-style="normal" fill="#111" stroke="#111" stroke-width="0.32" >CD8<tspan font-size="7.5" dy="-4.5">+&#160;</tspan><tspan dy="4.5">T cells</tspan></text>
<line x1="51.5" y1="384.095" x2="51.5" y2="372.02" stroke="#6d6d6d" stroke-width="1.1" />
<line x1="47.8" y1="372.02" x2="55.2" y2="372.02" stroke="#6d6d6d" stroke-width="1.2" />
<rect x="44.5" y="384.095" width="14.0" height="16.904999999999973" fill="#2e3192" stroke="#15153a" stroke-width="1" />
<line x1="70.0" y1="389.73" x2="70.0" y2="378.34499999999997" stroke="#6d6d6d" stroke-width="1.1" />
<line x1="66.3" y1="378.34499999999997" x2="73.7" y2="378.34499999999997" stroke="#6d6d6d" stroke-width="1.2" />
<rect x="63.0" y="389.73" width="14.0" height="11.269999999999982" fill="#ee3124" stroke="#3a1810" stroke-width="1" />
<line x1="96.5" y1="398.47" x2="96.5" y2="397.205" stroke="#6d6d6d" stroke-width="1.1" />
<line x1="92.8" y1="397.205" x2="100.2" y2="397.205" stroke="#6d6d6d" stroke-width="1.2" />
<rect x="89.5" y="398.47" width="14.0" height="2.5299999999999727" fill="#2e3192" stroke="#15153a" stroke-width="1" />
<line x1="115.0" y1="396.515" x2="115.0" y2="391.685" stroke="#6d6d6d" stroke-width="1.1" />
<line x1="111.3" y1="391.685" x2="118.7" y2="391.685" stroke="#6d6d6d" stroke-width="1.2" />
<rect x="108.0" y="396.515" width="14.0" height="4.485000000000014" fill="#ee3124" stroke="#3a1810" stroke-width="1" />
<line x1="141.5" y1="350.63" x2="141.5" y2="335.565" stroke="#6d6d6d" stroke-width="1.1" />
<line x1="137.8" y1="335.565" x2="145.2" y2="335.565" stroke="#6d6d6d" stroke-width="1.2" />
<rect x="134.5" y="350.63" width="14.0" height="50.370000000000005" fill="#2e3192" stroke="#15153a" stroke-width="1" />
<line x1="160.0" y1="346.145" x2="160.0" y2="328.78" stroke="#6d6d6d" stroke-width="1.1" />
<line x1="156.3" y1="328.78" x2="163.7" y2="328.78" stroke="#6d6d6d" stroke-width="1.2" />
<rect x="153.0" y="346.145" width="14.0" height="54.85500000000002" fill="#ee3124" stroke="#3a1810" stroke-width="1" />
<line x1="186.5" y1="359.485" x2="186.5" y2="343.155" stroke="#6d6d6d" stroke-width="1.1" />
<line x1="182.8" y1="343.155" x2="190.2" y2="343.155" stroke="#6d6d6d" stroke-width="1.2" />
<rect x="179.5" y="359.485" width="14.0" height="41.514999999999986" fill="#2e3192" stroke="#15153a" stroke-width="1" />
<line x1="205.0" y1="360.75" x2="205.0" y2="344.65" stroke="#6d6d6d" stroke-width="1.1" />
<line x1="201.3" y1="344.65" x2="208.7" y2="344.65" stroke="#6d6d6d" stroke-width="1.2" />
<rect x="198.0" y="360.75" width="14.0" height="40.25" fill="#ee3124" stroke="#3a1810" stroke-width="1" />
<line x1="231.5" y1="308.655" x2="231.5" y2="296.12" stroke="#6d6d6d" stroke-width="1.1" />
<line x1="227.8" y1="296.12" x2="235.2" y2="296.12" stroke="#6d6d6d" stroke-width="1.2" />
<rect x="224.5" y="308.655" width="14.0" height="92.34500000000003" fill="#2e3192" stroke="#15153a" stroke-width="1" />
<line x1="250.0" y1="304.4" x2="250.0" y2="293.015" stroke="#6d6d6d" stroke-width="1.1" />
<line x1="246.3" y1="293.015" x2="253.7" y2="293.015" stroke="#6d6d6d" stroke-width="1.2" />
<rect x="243.0" y="304.4" width="14.0" height="96.60000000000002" fill="#ee3124" stroke="#3a1810" stroke-width="1" />
<text x="58" y="414.8" font-size="12.3" text-anchor="middle" font-weight="normal" font-style="normal" fill="#111" stroke="#111" stroke-width="0.32" >Na&#239;ve</text>
<text x="104.6" y="414.8" font-size="12.3" text-anchor="middle" font-weight="normal" font-style="normal" fill="#111" stroke="#111" stroke-width="0.32" >TCM</text>
<text x="149.1" y="414.8" font-size="12.3" text-anchor="middle" font-weight="normal" font-style="normal" fill="#111" stroke="#111" stroke-width="0.32" >TEM</text>
<text x="194.4" y="414.8" font-size="12.3" text-anchor="middle" font-weight="normal" font-style="normal" fill="#111" stroke="#111" stroke-width="0.32" >TEMRA</text>
<text x="225" y="414.8" font-size="12.3" text-anchor="start" font-weight="normal" font-style="normal" fill="#111" stroke="#111" stroke-width="0.32" >CCR7<tspan font-size="10" dy="-6" dx="1">&#8211;</tspan></text>
<path d="M51.3,364.90000000000003 V361.6 H70.5 V364.90000000000003" stroke="#111" stroke-width="1.3" fill="none" />
<text x="60.9" y="357.6" font-size="12.3" text-anchor="middle" font-weight="normal" font-style="normal" fill="#111" stroke="#111" stroke-width="0.32" >ns</text>
<path d="M96.3,384.1 V380.8 H115.5 V384.1" stroke="#111" stroke-width="1.3" fill="none" />
<text x="105.9" y="376.4" font-size="12.3" text-anchor="middle" font-weight="normal" font-style="normal" fill="#111" stroke="#111" stroke-width="0.32" >ns</text>
<path d="M141.2,323.0 V319.7 H160.3 V323.0" stroke="#111" stroke-width="1.3" fill="none" />
<text x="150.75" y="314.8" font-size="12.3" text-anchor="middle" font-weight="normal" font-style="normal" fill="#111" stroke="#111" stroke-width="0.32" >ns</text>
<path d="M186.0,338.3 V335.0 H205.4 V338.3" stroke="#111" stroke-width="1.3" fill="none" />
<text x="195.7" y="331.2" font-size="12.3" text-anchor="middle" font-weight="normal" font-style="normal" fill="#111" stroke="#111" stroke-width="0.32" >ns</text>
<path d="M231.0,288.1 V284.8 H250.2 V288.1" stroke="#111" stroke-width="1.3" fill="none" />
<text x="240.6" y="281.0" font-size="12.3" text-anchor="middle" font-weight="normal" font-style="normal" fill="#111" stroke="#111" stroke-width="0.32" >ns</text>
<text x="353.3" y="145.4" font-size="15.2" text-anchor="start" font-weight="bold" font-style="normal" fill="#111" stroke="#111" stroke-width="0.3" >E</text>
<text x="402.5" y="141.2" font-size="12.3" text-anchor="start" font-weight="normal" font-style="normal" fill="#111" stroke="#111" stroke-width="0.32" >CCR7<tspan font-size="6" dy="-4.5" dx="0.3">&#8211;</tspan><tspan dy="4.5">CD8</tspan><tspan font-size="7.5" dy="-4.5">+</tspan></text>
<line x1="402.2" y1="150.3" x2="402.2" y2="245.0" stroke="#222" stroke-width="1.3" />
<line x1="401.59999999999997" y1="244.4" x2="456.5" y2="244.4" stroke="#222" stroke-width="1.3" />
<line x1="397.6" y1="244.4" x2="402.2" y2="244.4" stroke="#222" stroke-width="1.3" />
<text x="397.4" y="248.5" font-size="11.9" text-anchor="end" font-weight="normal" font-style="normal" fill="#111" stroke="#111" stroke-width="0.32" >0</text>
<line x1="397.6" y1="225.70000000000002" x2="402.2" y2="225.70000000000002" stroke="#222" stroke-width="1.3" />
<text x="397.4" y="229.8" font-size="11.9" text-anchor="end" font-weight="normal" font-style="normal" fill="#111" stroke="#111" stroke-width="0.32" >20</text>
<line x1="397.6" y1="207.0" x2="402.2" y2="207.0" stroke="#222" stroke-width="1.3" />
<text x="397.4" y="211.1" font-size="11.9" text-anchor="end" font-weight="normal" font-style="normal" fill="#111" stroke="#111" stroke-width="0.32" >40</text>
<line x1="397.6" y1="188.3" x2="402.2" y2="188.3" stroke="#222" stroke-width="1.3" />
<text x="397.4" y="192.4" font-size="11.9" text-anchor="end" font-weight="normal" font-style="normal" fill="#111" stroke="#111" stroke-width="0.32" >60</text>
<line x1="397.6" y1="169.60000000000002" x2="402.2" y2="169.60000000000002" stroke="#222" stroke-width="1.3" />
<text x="397.4" y="173.70000000000002" font-size="11.9" text-anchor="end" font-weight="normal" font-style="normal" fill="#111" stroke="#111" stroke-width="0.32" >80</text>
<line x1="397.6" y1="150.9" x2="402.2" y2="150.9" stroke="#222" stroke-width="1.3" />
<text x="397.4" y="155.0" font-size="11.9" text-anchor="end" font-weight="normal" font-style="normal" fill="#111" stroke="#111" stroke-width="0.32" >100</text>
<text x="0" y="0" font-size="12.3" text-anchor="middle" font-weight="normal" font-style="normal" fill="#111" stroke="#111" stroke-width="0.32" transform="translate(379.3,199) rotate(-90)">% TCF1<tspan font-size="7.5" dy="-4.5">+</tspan></text>
<text x="417.9" y="257.5" font-size="12.3" text-anchor="middle" font-weight="normal" font-style="normal" fill="#111" stroke="#111" stroke-width="0.32" >DCB</text>
<text x="449.5" y="257.5" font-size="12.3" text-anchor="middle" font-weight="normal" font-style="normal" fill="#111" stroke="#111" stroke-width="0.32" >RES</text>
<path d="M420.3,166.2 V161.6 H447.8 V166.2" stroke="#111" stroke-width="1.3" fill="none" />
<text x="433.9" y="161.2" font-size="14.5" text-anchor="middle" font-weight="normal" font-style="normal" fill="#111" stroke="#111" stroke-width="0.32" >*</text>
<text x="452.6" y="158.4" font-size="12.3" text-anchor="start" font-weight="normal" font-style="normal" fill="#111" stroke="#111" stroke-width="0.32" ><tspan font-style="italic">P</tspan> = 0.013</text>
<line x1="420.6" y1="200.3" x2="420.6" y2="211.9" stroke="#333" stroke-width="1.1" />
<line x1="416.5" y1="211.9" x2="424.8" y2="211.9" stroke="#999" stroke-width="1.2" />
<line x1="447.25" y1="219.4" x2="447.25" y2="228.5" stroke="#9a5a5a" stroke-width="1.1" />
<line x1="443.3" y1="219.4" x2="451.3" y2="219.4" stroke="#999" stroke-width="1.2" />
<line x1="443.3" y1="228.5" x2="451.3" y2="228.5" stroke="#999" stroke-width="1.2" />
<circle cx="420.6" cy="172.5" r="1.85" fill="#262c78" stroke="#181c50" stroke-width="0.4"/>
<circle cx="420.6" cy="177.9" r="1.85" fill="#262c78" stroke="#181c50" stroke-width="0.4"/>
<circle cx="420.6" cy="191.6" r="1.85" fill="#262c78" stroke="#181c50" stroke-width="0.4"/>
<circle cx="417.25" cy="201.5" r="1.85" fill="#262c78" stroke="#181c50" stroke-width="0.4"/>
<circle cx="424" cy="201.0" r="1.85" fill="#262c78" stroke="#181c50" stroke-width="0.4"/>
<circle cx="413.5" cy="215.6" r="1.85" fill="#262c78" stroke="#181c50" stroke-width="0.4"/>
<circle cx="413.5" cy="220.6" r="1.85" fill="#262c78" stroke="#181c50" stroke-width="0.4"/>
<circle cx="420.6" cy="220.9" r="1.85" fill="#262c78" stroke="#181c50" stroke-width="0.4"/>
<circle cx="427.75" cy="218.75" r="1.85" fill="#262c78" stroke="#181c50" stroke-width="0.4"/>
<circle cx="413.5" cy="225" r="1.85" fill="#262c78" stroke="#181c50" stroke-width="0.4"/>
<circle cx="427.75" cy="223.4" r="1.85" fill="#262c78" stroke="#181c50" stroke-width="0.4"/>
<circle cx="447.25" cy="197.5" r="1.85" fill="#e6262f" stroke="#b81c26" stroke-width="0.4"/>
<circle cx="447.25" cy="204" r="1.85" fill="#e6262f" stroke="#b81c26" stroke-width="0.4"/>
<circle cx="447.25" cy="213" r="1.85" fill="#e6262f" stroke="#b81c26" stroke-width="0.4"/>
<circle cx="440.25" cy="222.25" r="1.85" fill="#e6262f" stroke="#b81c26" stroke-width="0.4"/>
<circle cx="447.25" cy="223.75" r="1.85" fill="#e6262f" stroke="#b81c26" stroke-width="0.4"/>
<circle cx="454.4" cy="227.25" r="1.85" fill="#e6262f" stroke="#b81c26" stroke-width="0.4"/>
<circle cx="440.25" cy="228.5" r="1.85" fill="#e6262f" stroke="#b81c26" stroke-width="0.4"/>
<circle cx="447.25" cy="230" r="1.85" fill="#e6262f" stroke="#b81c26" stroke-width="0.4"/>
<circle cx="447.25" cy="237.5" r="1.85" fill="#e6262f" stroke="#b81c26" stroke-width="0.4"/>
<circle cx="440.25" cy="240.4" r="1.85" fill="#e6262f" stroke="#b81c26" stroke-width="0.4"/>
<circle cx="454.4" cy="239.1" r="1.85" fill="#e6262f" stroke="#b81c26" stroke-width="0.4"/>
<line x1="412" y1="206.1" x2="429.4" y2="206.1" stroke="#1c1c2c" stroke-width="1.4" />
<line x1="438.3" y1="224" x2="456" y2="224" stroke="#3a2224" stroke-width="1.4" />
<text x="293.3" y="271.1" font-size="15.2" text-anchor="start" font-weight="bold" font-style="normal" fill="#111" stroke="#111" stroke-width="0.3" >F</text>
<line x1="330.3" y1="281.9" x2="330.3" y2="398.70000000000005" stroke="#222" stroke-width="1.3" />
<line x1="329.7" y1="398.1" x2="503.8" y2="398.1" stroke="#222" stroke-width="1.3" />
<line x1="325.5" y1="398.1" x2="330.3" y2="398.1" stroke="#222" stroke-width="1.2" />
<line x1="327.7" y1="386.54" x2="330.3" y2="386.54" stroke="#222" stroke-width="1.2" />
<line x1="327.7" y1="374.98" x2="330.3" y2="374.98" stroke="#222" stroke-width="1.2" />
<line x1="327.7" y1="363.42" x2="330.3" y2="363.42" stroke="#222" stroke-width="1.2" />
<line x1="327.7" y1="351.86" x2="330.3" y2="351.86" stroke="#222" stroke-width="1.2" />
<line x1="325.5" y1="340.3" x2="330.3" y2="340.3" stroke="#222" stroke-width="1.2" />
<line x1="327.7" y1="328.74" x2="330.3" y2="328.74" stroke="#222" stroke-width="1.2" />
<line x1="327.7" y1="317.18" x2="330.3" y2="317.18" stroke="#222" stroke-width="1.2" />
<line x1="327.7" y1="305.62" x2="330.3" y2="305.62" stroke="#222" stroke-width="1.2" />
<line x1="327.7" y1="294.06" x2="330.3" y2="294.06" stroke="#222" stroke-width="1.2" />
<line x1="325.5" y1="282.5" x2="330.3" y2="282.5" stroke="#222" stroke-width="1.2" />
<line x1="330.3" y1="398.1" x2="330.3" y2="402.1" stroke="#222" stroke-width="1.2" />
<line x1="344.7" y1="398.1" x2="344.7" y2="400.70000000000005" stroke="#222" stroke-width="1.2" />
<line x1="359.1" y1="398.1" x2="359.1" y2="400.70000000000005" stroke="#222" stroke-width="1.2" />
<line x1="373.5" y1="398.1" x2="373.5" y2="400.70000000000005" stroke="#222" stroke-width="1.2" />
<line x1="387.90000000000003" y1="398.1" x2="387.90000000000003" y2="402.1" stroke="#222" stroke-width="1.2" />
<line x1="402.3" y1="398.1" x2="402.3" y2="400.70000000000005" stroke="#222" stroke-width="1.2" />
<line x1="416.70000000000005" y1="398.1" x2="416.70000000000005" y2="400.70000000000005" stroke="#222" stroke-width="1.2" />
<line x1="431.1" y1="398.1" x2="431.1" y2="400.70000000000005" stroke="#222" stroke-width="1.2" />
<line x1="445.5" y1="398.1" x2="445.5" y2="402.1" stroke="#222" stroke-width="1.2" />
<line x1="459.9" y1="398.1" x2="459.9" y2="400.70000000000005" stroke="#222" stroke-width="1.2" />
<line x1="474.3" y1="398.1" x2="474.3" y2="400.70000000000005" stroke="#222" stroke-width="1.2" />
<line x1="488.70000000000005" y1="398.1" x2="488.70000000000005" y2="400.70000000000005" stroke="#222" stroke-width="1.2" />
<line x1="503.1" y1="398.1" x2="503.1" y2="402.1" stroke="#222" stroke-width="1.2" />
<text x="323.4" y="288" font-size="11.3" text-anchor="end" font-weight="normal" font-style="normal" fill="#111" stroke="#111" stroke-width="0.32" >100</text>
<text x="323.4" y="344.6" font-size="11.3" text-anchor="end" font-weight="normal" font-style="normal" fill="#111" stroke="#111" stroke-width="0.32" >50</text>
<text x="323.4" y="402.2" font-size="11.3" text-anchor="end" font-weight="normal" font-style="normal" fill="#111" stroke="#111" stroke-width="0.32" >0</text>
<text x="330.3" y="414.6" font-size="12.3" text-anchor="middle" font-weight="normal" font-style="normal" fill="#111" stroke="#111" stroke-width="0.32" >0</text>
<text x="388.3" y="414.6" font-size="12.3" text-anchor="middle" font-weight="normal" font-style="normal" fill="#111" stroke="#111" stroke-width="0.32" >20</text>
<text x="446.5" y="414.6" font-size="12.3" text-anchor="middle" font-weight="normal" font-style="normal" fill="#111" stroke="#111" stroke-width="0.32" >40</text>
<text x="503.70000000000005" y="414.6" font-size="12.3" text-anchor="middle" font-weight="normal" font-style="normal" fill="#111" stroke="#111" stroke-width="0.32" >60</text>
<text x="400.6" y="423.2" font-size="12.3" text-anchor="start" font-weight="normal" font-style="normal" fill="#111" stroke="#111" stroke-width="0.32" >Months</text>
<text x="0" y="0" font-size="12.3" text-anchor="middle" font-weight="normal" font-style="normal" fill="#111" stroke="#111" stroke-width="0.32" transform="translate(306,341.3) rotate(-90)">PFS (%)</text>
<path d="M330.3,282.5 H336.1 V314.4 H339 V345.6 H341.6 V366.9 H373.4 V377.1 H382.5 V387.25 H385.4 V398.1" stroke="#dc3f47" stroke-width="1.3" fill="none" />
<path d="M330.3,282.5 H332.75 V293.1 H336.25 V303.75 H344.4 V314.4 H362.5 V324.75 H365 V335.4 H379.6 V345.9 H396.6 V356.1 H425.5 V370 H497.5" stroke="#2f366c" stroke-width="1.3" fill="none" />
<text x="345.5" y="286.6" font-size="12.3" text-anchor="start" font-weight="normal" font-style="normal" fill="#111" stroke="#111" stroke-width="0.32" >Median PFS <tspan fill="#35407f" stroke="#35407f">17.0</tspan> vs.<tspan fill="#c4303a" stroke="#c4303a" dx="0">3.0</tspan> mos.</text>
<text x="362.5" y="300.6" font-size="12.3" text-anchor="start" font-weight="normal" font-style="normal" fill="#111" stroke="#111" stroke-width="0.32" >(HR 0.39, <tspan dx="2">*</tspan><tspan font-style="italic">P</tspan> = 0.019)</text>
<text x="385.5" y="332.3" font-size="12.3" text-anchor="start" font-weight="normal" font-style="normal" fill="#111" stroke="#111" stroke-width="0.32" >% TCF1<tspan font-size="7.5" dy="-4.5">+</tspan><tspan dy="4.5"> of CCR7</tspan><tspan font-size="6" dy="-4.5" dx="0.3">&#8211;</tspan><tspan dy="4.5">CD8</tspan><tspan font-size="7.5" dy="-4.5">+</tspan></text>
<text x="436.3" y="348.1" font-size="12.3" text-anchor="start" font-weight="normal" font-style="normal" fill="#2c336f" stroke="#2c336f" stroke-width="0.32" >&gt; Median</text>
<text x="436.3" y="363.1" font-size="12.3" text-anchor="start" font-weight="normal" font-style="normal" fill="#c22f38" stroke="#c22f38" stroke-width="0.32" >&lt; Median</text>
<line x1="492.5" y1="343.8" x2="505.5" y2="343.8" stroke="#2e3572" stroke-width="1.3" />
<line x1="492.5" y1="358.8" x2="505.5" y2="358.8" stroke="#d8424a" stroke-width="1.3" />
</svg></body></html>
